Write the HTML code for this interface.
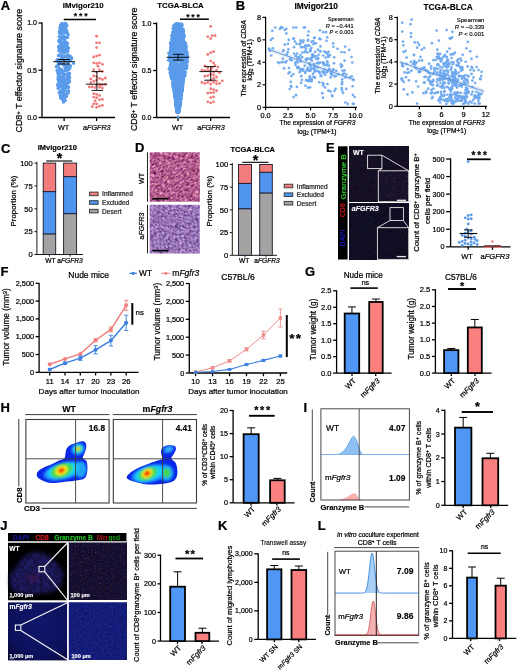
<!DOCTYPE html>
<html><head><meta charset="utf-8"><title>Figure</title>
<style>html,body{margin:0;padding:0;background:#fff;overflow:hidden;width:520px;height:671px;}svg{display:block;}</style>
</head><body>
<svg width="520" height="671" viewBox="0 0 520 671" font-family='"Liberation Sans", Arial, sans-serif'>
<rect width="520" height="671" fill="#fff"/>
<text x="0.8" y="9.7" font-size="13" font-weight="bold" stroke="#000" stroke-width="0.22">A</text>
<text x="83.2" y="7.57" font-size="7.8" text-anchor="middle" font-weight="bold"  stroke="#000" stroke-width="0.15">IMvigor210</text>
<line x1="42" y1="22.5" x2="42" y2="117.5" stroke="#000" stroke-width="1.3" />
<line x1="38.5" y1="23" x2="42" y2="23" stroke="#000" stroke-width="1.3" />
<text x="36.9" y="25.48" font-size="7" text-anchor="end"  stroke="#000" stroke-width="0.22">1.0</text>
<line x1="38.5" y1="70.25" x2="42" y2="70.25" stroke="#000" stroke-width="1.3" />
<text x="36.9" y="72.73" font-size="7" text-anchor="end"  stroke="#000" stroke-width="0.22">0.5</text>
<line x1="38.5" y1="117.5" x2="42" y2="117.5" stroke="#000" stroke-width="1.3" />
<text x="36.9" y="119.98" font-size="7" text-anchor="end"  stroke="#000" stroke-width="0.22">0.0</text>
<line x1="42" y1="117.5" x2="115" y2="117.5" stroke="#000" stroke-width="1.3" />
<line x1="64.1" y1="117.5" x2="64.1" y2="121" stroke="#000" stroke-width="1.3" />
<line x1="96.6" y1="117.5" x2="96.6" y2="121" stroke="#000" stroke-width="1.3" />
<text x="63.5" y="130.36" font-size="7.2" text-anchor="middle"  stroke="#000" stroke-width="0.22">WT</text>
<text x="96.8" y="130.36" font-size="7.2" text-anchor="middle"  stroke="#000" stroke-width="0.22">a<tspan font-style="italic">FGFR3</tspan></text>
<text transform="translate(18.6,70.7) rotate(-90)" y="3.14" font-size="8.85" text-anchor="middle"  stroke="#000" stroke-width="0.22">CD8<tspan baseline-shift="40%" font-size="70%">+</tspan> T effector signature score</text>
<line x1="63.7" y1="19.5" x2="96" y2="19.5" stroke="#000" stroke-width="1.5" />
<text x="81.67" y="19.37" font-size="8.65" font-weight="bold" text-anchor="middle" letter-spacing="1.94" stroke="#000" stroke-width="0.15">***</text>
<g fill="#5a9bea" fill-opacity="1"><circle cx="64.05" cy="42.07" r="1.6"/><circle cx="64.94" cy="52.54" r="1.6"/><circle cx="58.12" cy="72.82" r="1.6"/><circle cx="65.61" cy="24.24" r="1.6"/><circle cx="60.84" cy="43.77" r="1.6"/><circle cx="63.49" cy="102.15" r="1.6"/><circle cx="63.35" cy="89.53" r="1.6"/><circle cx="59.18" cy="73.88" r="1.6"/><circle cx="68.25" cy="73.54" r="1.6"/><circle cx="67.94" cy="64.69" r="1.6"/><circle cx="58.06" cy="76.44" r="1.6"/><circle cx="64.71" cy="83.33" r="1.6"/><circle cx="58.57" cy="47.09" r="1.6"/><circle cx="63.34" cy="91.84" r="1.6"/><circle cx="68.45" cy="80.2" r="1.6"/><circle cx="68.98" cy="79.83" r="1.6"/><circle cx="67.75" cy="54.52" r="1.6"/><circle cx="71.83" cy="58.46" r="1.6"/><circle cx="59.92" cy="92.89" r="1.6"/><circle cx="60.93" cy="33.98" r="1.6"/><circle cx="63.23" cy="99.76" r="1.6"/><circle cx="61.09" cy="72.89" r="1.6"/><circle cx="61.34" cy="63.42" r="1.6"/><circle cx="64.64" cy="51.03" r="1.6"/><circle cx="69" cy="69.53" r="1.6"/><circle cx="69.06" cy="77.28" r="1.6"/><circle cx="68.46" cy="91.11" r="1.6"/><circle cx="59.32" cy="76.43" r="1.6"/><circle cx="68.13" cy="91.45" r="1.6"/><circle cx="64.16" cy="94.94" r="1.6"/><circle cx="59.91" cy="79.81" r="1.6"/><circle cx="64.39" cy="89.15" r="1.6"/><circle cx="58.98" cy="45.8" r="1.6"/><circle cx="68.48" cy="90.92" r="1.6"/><circle cx="66.26" cy="30.22" r="1.6"/><circle cx="58.38" cy="55.75" r="1.6"/><circle cx="66.47" cy="46.51" r="1.6"/><circle cx="59.34" cy="92.41" r="1.6"/><circle cx="57.86" cy="71.93" r="1.6"/><circle cx="61.44" cy="80.17" r="1.6"/><circle cx="67.96" cy="93.06" r="1.6"/><circle cx="73.6" cy="63.28" r="1.6"/><circle cx="59.03" cy="47.76" r="1.6"/><circle cx="57.51" cy="70.76" r="1.6"/><circle cx="62.69" cy="38.85" r="1.6"/><circle cx="59.23" cy="71.61" r="1.6"/><circle cx="66.46" cy="26.57" r="1.6"/><circle cx="68.61" cy="48.09" r="1.6"/><circle cx="62.56" cy="94.31" r="1.6"/><circle cx="64.01" cy="59.71" r="1.6"/><circle cx="64.81" cy="74.26" r="1.6"/><circle cx="65.28" cy="67.55" r="1.6"/><circle cx="63.65" cy="97.79" r="1.6"/><circle cx="67.36" cy="57.39" r="1.6"/><circle cx="61.57" cy="42.04" r="1.6"/><circle cx="63.7" cy="100.74" r="1.6"/><circle cx="56.21" cy="66.69" r="1.6"/><circle cx="64.83" cy="56.13" r="1.6"/><circle cx="64.35" cy="24.79" r="1.6"/><circle cx="58.04" cy="73.33" r="1.6"/><circle cx="63.17" cy="72.95" r="1.6"/><circle cx="61.73" cy="77.07" r="1.6"/><circle cx="66.64" cy="79.26" r="1.6"/><circle cx="60.69" cy="24.96" r="1.6"/><circle cx="69.49" cy="76.81" r="1.6"/><circle cx="63.15" cy="43.11" r="1.6"/><circle cx="61.23" cy="70.2" r="1.6"/><circle cx="61.22" cy="52.06" r="1.6"/><circle cx="64.83" cy="52.47" r="1.6"/><circle cx="62.28" cy="47.02" r="1.6"/><circle cx="57.94" cy="84.44" r="1.6"/><circle cx="66.83" cy="68.34" r="1.6"/><circle cx="60.6" cy="47.78" r="1.6"/><circle cx="60.61" cy="86.94" r="1.6"/><circle cx="62.96" cy="38.06" r="1.6"/><circle cx="58.52" cy="78.56" r="1.6"/><circle cx="61.74" cy="48.73" r="1.6"/><circle cx="62.94" cy="89.3" r="1.6"/><circle cx="60.32" cy="91.04" r="1.6"/><circle cx="65.36" cy="49.9" r="1.6"/><circle cx="63.16" cy="93.37" r="1.6"/><circle cx="59.77" cy="41.04" r="1.6"/><circle cx="58.27" cy="65.2" r="1.6"/><circle cx="67.45" cy="87.18" r="1.6"/><circle cx="61.43" cy="37.76" r="1.6"/><circle cx="65.21" cy="87.21" r="1.6"/><circle cx="61.84" cy="87.14" r="1.6"/><circle cx="61.65" cy="33.48" r="1.6"/><circle cx="60.95" cy="86.15" r="1.6"/><circle cx="62.6" cy="50.67" r="1.6"/><circle cx="62.16" cy="56.49" r="1.6"/><circle cx="61.01" cy="96.2" r="1.6"/><circle cx="65.97" cy="23.57" r="1.6"/><circle cx="68.03" cy="92.98" r="1.6"/><circle cx="71.46" cy="57.64" r="1.6"/><circle cx="61.58" cy="96.74" r="1.6"/><circle cx="67.78" cy="82.32" r="1.6"/><circle cx="63.84" cy="75.77" r="1.6"/><circle cx="61.91" cy="46.12" r="1.6"/><circle cx="59.23" cy="41.24" r="1.6"/><circle cx="60.78" cy="69.88" r="1.6"/><circle cx="58.45" cy="87.45" r="1.6"/><circle cx="65.19" cy="94.86" r="1.6"/><circle cx="66.53" cy="96.46" r="1.6"/><circle cx="64.24" cy="94.54" r="1.6"/><circle cx="65.06" cy="24.24" r="1.6"/><circle cx="61.66" cy="36.83" r="1.6"/><circle cx="63.92" cy="75.77" r="1.6"/><circle cx="70.31" cy="56.01" r="1.6"/><circle cx="61.59" cy="71.74" r="1.6"/><circle cx="67.34" cy="43.22" r="1.6"/><circle cx="69.48" cy="61.04" r="1.6"/><circle cx="59.89" cy="51.1" r="1.6"/><circle cx="68.88" cy="65.6" r="1.6"/><circle cx="66.43" cy="36.78" r="1.6"/><circle cx="65.89" cy="96.3" r="1.6"/><circle cx="58.19" cy="88.5" r="1.6"/><circle cx="68.18" cy="73.05" r="1.6"/><circle cx="61.78" cy="27.16" r="1.6"/><circle cx="63.89" cy="44.5" r="1.6"/><circle cx="63.16" cy="56.74" r="1.6"/><circle cx="57.67" cy="84.78" r="1.6"/><circle cx="60.59" cy="27.55" r="1.6"/><circle cx="59.56" cy="33.08" r="1.6"/><circle cx="65.42" cy="100.49" r="1.6"/><circle cx="63.62" cy="30.03" r="1.6"/><circle cx="61.56" cy="48.25" r="1.6"/><circle cx="65.4" cy="51.06" r="1.6"/><circle cx="61.75" cy="69.72" r="1.6"/><circle cx="61.91" cy="38.35" r="1.6"/><circle cx="64.12" cy="33.01" r="1.6"/><circle cx="62.07" cy="79.98" r="1.6"/><circle cx="60.82" cy="29.54" r="1.6"/><circle cx="64.96" cy="52.8" r="1.6"/><circle cx="62.19" cy="85.26" r="1.6"/><circle cx="65.01" cy="86.73" r="1.6"/><circle cx="61.42" cy="57.43" r="1.6"/><circle cx="67.89" cy="62.54" r="1.6"/><circle cx="66.7" cy="56.55" r="1.6"/><circle cx="58.37" cy="59.74" r="1.6"/><circle cx="66.83" cy="65.69" r="1.6"/><circle cx="62.97" cy="28.88" r="1.6"/><circle cx="69.87" cy="56.97" r="1.6"/><circle cx="62.73" cy="97.46" r="1.6"/><circle cx="66.06" cy="94.4" r="1.6"/><circle cx="63.23" cy="43.99" r="1.6"/><circle cx="66.53" cy="32.97" r="1.6"/><circle cx="68.51" cy="75.72" r="1.6"/><circle cx="65.55" cy="86.04" r="1.6"/><circle cx="64.41" cy="81.39" r="1.6"/><circle cx="64.41" cy="31.38" r="1.6"/><circle cx="61.69" cy="23.59" r="1.6"/><circle cx="58.16" cy="84.6" r="1.6"/><circle cx="60.02" cy="30.48" r="1.6"/><circle cx="60.68" cy="93.02" r="1.6"/><circle cx="65.9" cy="25.06" r="1.6"/><circle cx="66.81" cy="32.82" r="1.6"/><circle cx="67.87" cy="76.61" r="1.6"/><circle cx="64.09" cy="98.73" r="1.6"/><circle cx="58.26" cy="86.54" r="1.6"/><circle cx="63.74" cy="84.06" r="1.6"/><circle cx="58.57" cy="79.91" r="1.6"/><circle cx="68.98" cy="82.59" r="1.6"/><circle cx="62.16" cy="28.05" r="1.6"/><circle cx="68.15" cy="67.92" r="1.6"/><circle cx="60.32" cy="42.4" r="1.6"/><circle cx="64.8" cy="43.02" r="1.6"/><circle cx="62.29" cy="82.96" r="1.6"/><circle cx="62.28" cy="52.34" r="1.6"/><circle cx="62.6" cy="50.98" r="1.6"/><circle cx="63.6" cy="29.8" r="1.6"/><circle cx="63.14" cy="100.36" r="1.6"/><circle cx="59.39" cy="82.47" r="1.6"/><circle cx="66.86" cy="77.98" r="1.6"/><circle cx="63.82" cy="76.64" r="1.6"/><circle cx="66.6" cy="61.56" r="1.6"/><circle cx="60.63" cy="94.36" r="1.6"/><circle cx="65.84" cy="30.8" r="1.6"/><circle cx="63.73" cy="95.89" r="1.6"/><circle cx="67.69" cy="58.33" r="1.6"/><circle cx="61.32" cy="37.96" r="1.6"/><circle cx="64.45" cy="38.99" r="1.6"/><circle cx="60.67" cy="48.17" r="1.6"/><circle cx="69.38" cy="78.01" r="1.6"/><circle cx="65.79" cy="46.66" r="1.6"/><circle cx="68.99" cy="55.97" r="1.6"/><circle cx="60.49" cy="69.56" r="1.6"/><circle cx="58.81" cy="40.46" r="1.6"/><circle cx="61.15" cy="61.22" r="1.6"/><circle cx="62.25" cy="36.86" r="1.6"/><circle cx="66.68" cy="48.74" r="1.6"/><circle cx="68.26" cy="34.59" r="1.6"/><circle cx="65.67" cy="61.23" r="1.6"/><circle cx="70.51" cy="60.32" r="1.6"/><circle cx="64.23" cy="88.35" r="1.6"/><circle cx="68.22" cy="61.37" r="1.6"/><circle cx="62.61" cy="91.13" r="1.6"/><circle cx="69.41" cy="81.37" r="1.6"/><circle cx="58.02" cy="60.26" r="1.6"/><circle cx="65.82" cy="41.82" r="1.6"/><circle cx="69.43" cy="76.76" r="1.6"/><circle cx="61.03" cy="90.91" r="1.6"/><circle cx="61.23" cy="38.24" r="1.6"/><circle cx="65.61" cy="38.04" r="1.6"/><circle cx="67.52" cy="91.29" r="1.6"/><circle cx="67.38" cy="43.42" r="1.6"/><circle cx="62.76" cy="48.05" r="1.6"/><circle cx="58.34" cy="81.01" r="1.6"/><circle cx="66.59" cy="30.55" r="1.6"/><circle cx="62.07" cy="46.34" r="1.6"/><circle cx="65.96" cy="69.22" r="1.6"/><circle cx="62.69" cy="23.75" r="1.6"/><circle cx="63.35" cy="57.79" r="1.6"/><circle cx="64.45" cy="39.86" r="1.6"/><circle cx="62.93" cy="98.96" r="1.6"/><circle cx="57.66" cy="66.37" r="1.6"/><circle cx="65.34" cy="44.99" r="1.6"/><circle cx="67.19" cy="32.12" r="1.6"/><circle cx="60.37" cy="95.26" r="1.6"/><circle cx="62.76" cy="97.84" r="1.6"/><circle cx="66.68" cy="84.45" r="1.6"/><circle cx="65.48" cy="46.64" r="1.6"/><circle cx="67.48" cy="75.07" r="1.6"/><circle cx="66.25" cy="44.26" r="1.6"/><circle cx="64.62" cy="99.43" r="1.6"/><circle cx="57.22" cy="65.72" r="1.6"/><circle cx="60.47" cy="62.36" r="1.6"/><circle cx="65.88" cy="80.14" r="1.6"/><circle cx="59.21" cy="68.11" r="1.6"/><circle cx="65.26" cy="74.4" r="1.6"/><circle cx="67.4" cy="37.4" r="1.6"/><circle cx="58.82" cy="75.17" r="1.6"/><circle cx="61.06" cy="97.1" r="1.6"/><circle cx="66.15" cy="49.49" r="1.6"/><circle cx="64.32" cy="70.58" r="1.6"/><circle cx="63.06" cy="74.55" r="1.6"/><circle cx="60.08" cy="47.98" r="1.6"/><circle cx="65.41" cy="28.64" r="1.6"/><circle cx="64.13" cy="83.03" r="1.6"/><circle cx="61.84" cy="81.85" r="1.6"/><circle cx="62.38" cy="44.28" r="1.6"/><circle cx="59.32" cy="92.39" r="1.6"/><circle cx="58.51" cy="63.22" r="1.6"/><circle cx="61.85" cy="84.17" r="1.6"/><circle cx="62.48" cy="49.6" r="1.6"/><circle cx="67.92" cy="66.14" r="1.6"/><circle cx="67.87" cy="51.18" r="1.6"/><circle cx="61.47" cy="32.09" r="1.6"/><circle cx="60.07" cy="31.1" r="1.6"/><circle cx="66.29" cy="84.97" r="1.6"/><circle cx="60.55" cy="37.86" r="1.6"/><circle cx="67.39" cy="56.24" r="1.6"/><circle cx="66.39" cy="87.89" r="1.6"/><circle cx="58.94" cy="70.14" r="1.6"/><circle cx="59.34" cy="54.79" r="1.6"/><circle cx="64.79" cy="65.04" r="1.6"/><circle cx="61.12" cy="39.22" r="1.6"/><circle cx="58.05" cy="85.19" r="1.6"/><circle cx="68.08" cy="86.89" r="1.6"/><circle cx="62.86" cy="98.48" r="1.6"/><circle cx="64.82" cy="67.02" r="1.6"/><circle cx="69.63" cy="73.45" r="1.6"/><circle cx="61.05" cy="77.65" r="1.6"/><circle cx="63.44" cy="91.4" r="1.6"/><circle cx="66.54" cy="70.89" r="1.6"/><circle cx="65" cy="23.39" r="1.6"/><circle cx="63.5" cy="75.69" r="1.6"/><circle cx="62.89" cy="64.72" r="1.6"/><circle cx="63.89" cy="38.54" r="1.6"/><circle cx="63.6" cy="26.14" r="1.6"/><circle cx="62.89" cy="74.42" r="1.6"/><circle cx="69.94" cy="68.08" r="1.6"/><circle cx="60.44" cy="93.94" r="1.6"/><circle cx="65.03" cy="86.04" r="1.6"/><circle cx="62.48" cy="27.21" r="1.6"/><circle cx="59.3" cy="41.71" r="1.6"/><circle cx="70.56" cy="65.93" r="1.6"/><circle cx="67.77" cy="48.82" r="1.6"/><circle cx="58.94" cy="78.29" r="1.6"/><circle cx="64.59" cy="91.26" r="1.6"/><circle cx="65.17" cy="96.71" r="1.6"/><circle cx="61.64" cy="81.86" r="1.6"/><circle cx="68.51" cy="87.17" r="1.6"/><circle cx="62.99" cy="91.51" r="1.6"/><circle cx="63.42" cy="83.22" r="1.6"/><circle cx="59.37" cy="31.85" r="1.6"/><circle cx="61.02" cy="29.38" r="1.6"/><circle cx="63.57" cy="35.95" r="1.6"/><circle cx="64.08" cy="78.65" r="1.6"/><circle cx="66.01" cy="56.67" r="1.6"/><circle cx="63.22" cy="47.36" r="1.6"/><circle cx="62.39" cy="83.24" r="1.6"/><circle cx="67.5" cy="37.52" r="1.6"/><circle cx="61.9" cy="80.27" r="1.6"/><circle cx="63.98" cy="52.62" r="1.6"/><circle cx="59.99" cy="70.5" r="1.6"/><circle cx="62.09" cy="23.41" r="1.6"/><circle cx="59.4" cy="85.31" r="1.6"/><circle cx="57.36" cy="59.68" r="1.6"/><circle cx="60.31" cy="39.8" r="1.6"/><circle cx="58.86" cy="55.22" r="1.6"/><circle cx="60.86" cy="25.38" r="1.6"/><circle cx="63.51" cy="36.54" r="1.6"/><circle cx="59.7" cy="27.94" r="1.6"/><circle cx="61.81" cy="58.73" r="1.6"/><circle cx="57.87" cy="78.98" r="1.6"/><circle cx="62.13" cy="55.18" r="1.6"/><circle cx="66.84" cy="25.31" r="1.6"/><circle cx="59.52" cy="40.56" r="1.6"/><circle cx="56.63" cy="60.83" r="1.6"/><circle cx="61.66" cy="72.56" r="1.6"/><circle cx="59.41" cy="33.03" r="1.6"/><circle cx="60.74" cy="80.9" r="1.6"/><circle cx="63.2" cy="85.68" r="1.6"/><circle cx="62.2" cy="97.18" r="1.6"/><circle cx="61.19" cy="43.02" r="1.6"/><circle cx="65.05" cy="87.8" r="1.6"/><circle cx="58.72" cy="50.54" r="1.6"/><circle cx="69.57" cy="77.31" r="1.6"/><circle cx="57.06" cy="70.17" r="1.6"/><circle cx="60.64" cy="25.6" r="1.6"/><circle cx="59.11" cy="36.71" r="1.6"/><circle cx="64.84" cy="27.48" r="1.6"/><circle cx="61.1" cy="94.59" r="1.6"/><circle cx="63.48" cy="100.43" r="1.6"/><circle cx="68.37" cy="86.92" r="1.6"/><circle cx="60.46" cy="97.75" r="1.6"/><circle cx="64.75" cy="47.36" r="1.6"/><circle cx="60.93" cy="98.26" r="1.6"/><circle cx="67.33" cy="46.47" r="1.6"/></g>
<g fill="#f07878" fill-opacity="1"><circle cx="96.6" cy="80.13" r="1.4"/><circle cx="96.6" cy="97.63" r="1.4"/><circle cx="96.6" cy="72.08" r="1.4"/><circle cx="96.6" cy="56.07" r="1.4"/><circle cx="99.5" cy="69.94" r="1.4"/><circle cx="96.6" cy="85.01" r="1.4"/><circle cx="99.5" cy="78.39" r="1.4"/><circle cx="96.6" cy="63.5" r="1.4"/><circle cx="99.5" cy="62.89" r="1.4"/><circle cx="96.6" cy="76.6" r="1.4"/><circle cx="93.7" cy="62.8" r="1.4"/><circle cx="93.7" cy="69.84" r="1.4"/><circle cx="96.6" cy="107.37" r="1.4"/><circle cx="99.5" cy="84.08" r="1.4"/><circle cx="96.6" cy="103.78" r="1.4"/><circle cx="99.5" cy="99.67" r="1.4"/><circle cx="96.6" cy="94.29" r="1.4"/><circle cx="93.7" cy="97.08" r="1.4"/><circle cx="99.5" cy="87.31" r="1.4"/><circle cx="93.7" cy="75.94" r="1.4"/><circle cx="99.5" cy="95.43" r="1.4"/><circle cx="95.15" cy="87.53" r="1.4"/><circle cx="93.7" cy="81.41" r="1.4"/><circle cx="92.25" cy="87.01" r="1.4"/><circle cx="102.4" cy="84.83" r="1.4"/><circle cx="102.4" cy="79.48" r="1.4"/><circle cx="93.7" cy="93.75" r="1.4"/><circle cx="102.4" cy="64.29" r="1.4"/><circle cx="96.6" cy="36.23" r="1.4"/><circle cx="98.05" cy="66.13" r="1.4"/><circle cx="102.4" cy="88.07" r="1.4"/><circle cx="90.8" cy="79.01" r="1.4"/><circle cx="99.5" cy="55.13" r="1.4"/><circle cx="96.6" cy="42.84" r="1.4"/><circle cx="102.4" cy="71.32" r="1.4"/><circle cx="99.5" cy="42.84" r="1.4"/><circle cx="99.5" cy="106.15" r="1.4"/><circle cx="95.15" cy="100.91" r="1.4"/><circle cx="102.4" cy="99.42" r="1.4"/><circle cx="105.3" cy="78" r="1.4"/><circle cx="89.35" cy="86.93" r="1.4"/><circle cx="93.7" cy="103.94" r="1.4"/><circle cx="93.7" cy="57.02" r="1.4"/><circle cx="105.3" cy="84.5" r="1.4"/><circle cx="96.6" cy="47.57" r="1.4"/><circle cx="90.8" cy="82.66" r="1.4"/><circle cx="92.25" cy="106.69" r="1.4"/><circle cx="100.16" cy="85.38" r="1.4"/><circle cx="102.4" cy="105.35" r="1.4"/></g>
<line x1="86" y1="84.2" x2="107.2" y2="84.2" stroke="#000" stroke-width="0.9" />
<line x1="91.6" y1="71.6" x2="103" y2="71.6" stroke="#000" stroke-width="0.9" />
<line x1="91.6" y1="90.4" x2="103" y2="90.4" stroke="#000" stroke-width="0.9" />
<line x1="96.9" y1="71.6" x2="96.9" y2="90.4" stroke="#000" stroke-width="0.9" />
<line x1="53" y1="61.7" x2="75" y2="61.7" stroke="#000" stroke-width="0.9" />
<line x1="58" y1="59.5" x2="70" y2="59.5" stroke="#000" stroke-width="0.9" />
<line x1="58" y1="64" x2="70" y2="64" stroke="#000" stroke-width="0.9" />
<line x1="64" y1="59.5" x2="64" y2="64" stroke="#000" stroke-width="0.9" />
<text x="180.5" y="7.57" font-size="7.8" text-anchor="middle" font-weight="bold"  stroke="#000" stroke-width="0.15">TCGA-BLCA</text>
<line x1="156.6" y1="22.5" x2="156.6" y2="117.5" stroke="#000" stroke-width="1.3" />
<line x1="153.1" y1="23.5" x2="156.6" y2="23.5" stroke="#000" stroke-width="1.3" />
<text x="151.5" y="25.98" font-size="7" text-anchor="end"  stroke="#000" stroke-width="0.22">1.0</text>
<line x1="153.1" y1="70.5" x2="156.6" y2="70.5" stroke="#000" stroke-width="1.3" />
<text x="151.5" y="72.98" font-size="7" text-anchor="end"  stroke="#000" stroke-width="0.22">0.5</text>
<line x1="153.1" y1="117.5" x2="156.6" y2="117.5" stroke="#000" stroke-width="1.3" />
<text x="151.5" y="119.98" font-size="7" text-anchor="end"  stroke="#000" stroke-width="0.22">0.0</text>
<line x1="156.6" y1="117.5" x2="230" y2="117.5" stroke="#000" stroke-width="1.3" />
<line x1="178" y1="117.5" x2="178" y2="121" stroke="#000" stroke-width="1.3" />
<line x1="210.7" y1="117.5" x2="210.7" y2="121" stroke="#000" stroke-width="1.3" />
<text x="177.5" y="130.36" font-size="7.2" text-anchor="middle"  stroke="#000" stroke-width="0.22">WT</text>
<text x="211" y="130.36" font-size="7.2" text-anchor="middle"  stroke="#000" stroke-width="0.22">a<tspan font-style="italic">FGFR3</tspan></text>
<text transform="translate(133.6,69.3) rotate(-90)" y="3.14" font-size="8.85" text-anchor="middle"  stroke="#000" stroke-width="0.22">CD8<tspan baseline-shift="40%" font-size="70%">+</tspan> T effector signature score</text>
<line x1="180" y1="19.2" x2="208.8" y2="19.2" stroke="#000" stroke-width="1.5" />
<text x="193.87" y="20.27" font-size="8.65" font-weight="bold" text-anchor="middle" letter-spacing="1.74" stroke="#000" stroke-width="0.15">***</text>
<g fill="#5a9bea" fill-opacity="1"><circle cx="171.69" cy="44.58" r="1.6"/><circle cx="171.3" cy="58.81" r="1.6"/><circle cx="176.96" cy="29.51" r="1.6"/><circle cx="179.45" cy="105.21" r="1.6"/><circle cx="175.6" cy="91.62" r="1.6"/><circle cx="174.28" cy="71.31" r="1.6"/><circle cx="172.57" cy="38.95" r="1.6"/><circle cx="184.48" cy="42.66" r="1.6"/><circle cx="180.06" cy="97.29" r="1.6"/><circle cx="175.68" cy="94.76" r="1.6"/><circle cx="180.3" cy="51.15" r="1.6"/><circle cx="181.39" cy="88.67" r="1.6"/><circle cx="175.65" cy="101.84" r="1.6"/><circle cx="180.36" cy="77.46" r="1.6"/><circle cx="172.24" cy="68.58" r="1.6"/><circle cx="170.42" cy="65.7" r="1.6"/><circle cx="179.59" cy="106.68" r="1.6"/><circle cx="174.76" cy="72.29" r="1.6"/><circle cx="178.37" cy="104.4" r="1.6"/><circle cx="179.97" cy="102.04" r="1.6"/><circle cx="176.46" cy="68.79" r="1.6"/><circle cx="177.03" cy="76.84" r="1.6"/><circle cx="175.38" cy="37.94" r="1.6"/><circle cx="174.71" cy="95.84" r="1.6"/><circle cx="179.22" cy="27.72" r="1.6"/><circle cx="178.6" cy="48.53" r="1.6"/><circle cx="175.09" cy="65.49" r="1.6"/><circle cx="177.47" cy="112.26" r="1.6"/><circle cx="172.26" cy="60.3" r="1.6"/><circle cx="175.17" cy="79.84" r="1.6"/><circle cx="182.78" cy="55.23" r="1.6"/><circle cx="179.08" cy="52.11" r="1.6"/><circle cx="175.92" cy="103.99" r="1.6"/><circle cx="175.2" cy="29.08" r="1.6"/><circle cx="179" cy="91.62" r="1.6"/><circle cx="175.31" cy="44.71" r="1.6"/><circle cx="177.43" cy="39.38" r="1.6"/><circle cx="179.87" cy="27.41" r="1.6"/><circle cx="180.44" cy="103.25" r="1.6"/><circle cx="182.36" cy="88.93" r="1.6"/><circle cx="176.23" cy="25.22" r="1.6"/><circle cx="178.92" cy="109.48" r="1.6"/><circle cx="186.57" cy="60.09" r="1.6"/><circle cx="182.18" cy="78.76" r="1.6"/><circle cx="172.54" cy="49.68" r="1.6"/><circle cx="171.1" cy="63.08" r="1.6"/><circle cx="187" cy="57.53" r="1.6"/><circle cx="168.82" cy="53.05" r="1.6"/><circle cx="174.83" cy="27.58" r="1.6"/><circle cx="176.89" cy="93.27" r="1.6"/><circle cx="170.9" cy="49.41" r="1.6"/><circle cx="177.81" cy="110.88" r="1.6"/><circle cx="171.41" cy="42.08" r="1.6"/><circle cx="174.67" cy="28.51" r="1.6"/><circle cx="174.18" cy="83.77" r="1.6"/><circle cx="177.91" cy="27.24" r="1.6"/><circle cx="186.13" cy="45.74" r="1.6"/><circle cx="178.36" cy="34.47" r="1.6"/><circle cx="177.24" cy="92.39" r="1.6"/><circle cx="177.95" cy="111.4" r="1.6"/><circle cx="176.56" cy="45.1" r="1.6"/><circle cx="177.27" cy="26.88" r="1.6"/><circle cx="184.35" cy="45.7" r="1.6"/><circle cx="177.99" cy="97.48" r="1.6"/><circle cx="175.79" cy="26.41" r="1.6"/><circle cx="173.3" cy="45.15" r="1.6"/><circle cx="183.82" cy="44.18" r="1.6"/><circle cx="172.23" cy="36.2" r="1.6"/><circle cx="178.3" cy="106.1" r="1.6"/><circle cx="177.8" cy="111.66" r="1.6"/><circle cx="178.81" cy="103.69" r="1.6"/><circle cx="179.92" cy="93.91" r="1.6"/><circle cx="170.64" cy="67.54" r="1.6"/><circle cx="183.63" cy="42.35" r="1.6"/><circle cx="180.25" cy="103.59" r="1.6"/><circle cx="180.96" cy="53.52" r="1.6"/><circle cx="179.08" cy="94.68" r="1.6"/><circle cx="178.2" cy="96.04" r="1.6"/><circle cx="180.19" cy="81.81" r="1.6"/><circle cx="185.18" cy="47.45" r="1.6"/><circle cx="176.42" cy="108.61" r="1.6"/><circle cx="179.42" cy="109.93" r="1.6"/><circle cx="172.88" cy="83.02" r="1.6"/><circle cx="176.02" cy="103.52" r="1.6"/><circle cx="178.53" cy="109.7" r="1.6"/><circle cx="174.58" cy="28.98" r="1.6"/><circle cx="178.87" cy="80.07" r="1.6"/><circle cx="181.94" cy="89.96" r="1.6"/><circle cx="170.4" cy="43.03" r="1.6"/><circle cx="175.72" cy="105.6" r="1.6"/><circle cx="175.78" cy="101.51" r="1.6"/><circle cx="180.06" cy="95.6" r="1.6"/><circle cx="178.29" cy="101.64" r="1.6"/><circle cx="176.29" cy="101.72" r="1.6"/><circle cx="176.12" cy="83.29" r="1.6"/><circle cx="179.49" cy="102.88" r="1.6"/><circle cx="178.49" cy="65.52" r="1.6"/><circle cx="173.91" cy="25.95" r="1.6"/><circle cx="177.84" cy="76.45" r="1.6"/><circle cx="178.65" cy="100.47" r="1.6"/><circle cx="176.24" cy="35.94" r="1.6"/><circle cx="178.2" cy="91.84" r="1.6"/><circle cx="180.72" cy="24.54" r="1.6"/><circle cx="175.2" cy="97.17" r="1.6"/><circle cx="176.05" cy="71.91" r="1.6"/><circle cx="176.5" cy="93.6" r="1.6"/><circle cx="177.79" cy="44.38" r="1.6"/><circle cx="176.66" cy="109.5" r="1.6"/><circle cx="179.46" cy="33.77" r="1.6"/><circle cx="178.07" cy="102.31" r="1.6"/><circle cx="184.86" cy="62.18" r="1.6"/><circle cx="174.41" cy="92.64" r="1.6"/><circle cx="176.28" cy="101.95" r="1.6"/><circle cx="184.04" cy="50.47" r="1.6"/><circle cx="183.75" cy="61.16" r="1.6"/><circle cx="183.1" cy="38.48" r="1.6"/><circle cx="173.13" cy="39.28" r="1.6"/><circle cx="175.08" cy="67.54" r="1.6"/><circle cx="184.65" cy="71.77" r="1.6"/><circle cx="173.02" cy="86.76" r="1.6"/><circle cx="178.82" cy="51.32" r="1.6"/><circle cx="181.93" cy="66.85" r="1.6"/><circle cx="170.25" cy="66.65" r="1.6"/><circle cx="183.64" cy="45.42" r="1.6"/><circle cx="183.17" cy="55.32" r="1.6"/><circle cx="178.29" cy="111.24" r="1.6"/><circle cx="179.19" cy="83.76" r="1.6"/><circle cx="185.53" cy="51.45" r="1.6"/><circle cx="185.64" cy="65.12" r="1.6"/><circle cx="184.63" cy="50.77" r="1.6"/><circle cx="178.9" cy="93.55" r="1.6"/><circle cx="171.17" cy="62.9" r="1.6"/><circle cx="176.83" cy="92.15" r="1.6"/><circle cx="173.78" cy="82.46" r="1.6"/><circle cx="174.04" cy="30.94" r="1.6"/><circle cx="175.64" cy="95.52" r="1.6"/><circle cx="177.33" cy="103.78" r="1.6"/><circle cx="175.76" cy="74.8" r="1.6"/><circle cx="172.66" cy="78.79" r="1.6"/><circle cx="186.45" cy="59.39" r="1.6"/><circle cx="180.16" cy="39.57" r="1.6"/><circle cx="174.29" cy="52.64" r="1.6"/><circle cx="173.86" cy="25.66" r="1.6"/><circle cx="179.29" cy="108" r="1.6"/><circle cx="180.32" cy="94.82" r="1.6"/><circle cx="176.7" cy="108.35" r="1.6"/><circle cx="177.93" cy="75.53" r="1.6"/><circle cx="184.6" cy="74.62" r="1.6"/><circle cx="182.12" cy="91.19" r="1.6"/><circle cx="179.84" cy="33.99" r="1.6"/><circle cx="180.69" cy="83.64" r="1.6"/><circle cx="182.39" cy="78.53" r="1.6"/><circle cx="185.68" cy="50.52" r="1.6"/><circle cx="179.92" cy="59.7" r="1.6"/><circle cx="179.09" cy="103.33" r="1.6"/><circle cx="173.11" cy="51.13" r="1.6"/><circle cx="180.36" cy="52.64" r="1.6"/><circle cx="178.71" cy="112.18" r="1.6"/><circle cx="176.07" cy="59.18" r="1.6"/><circle cx="176.48" cy="96.27" r="1.6"/><circle cx="168.59" cy="60.19" r="1.6"/><circle cx="178.57" cy="39.95" r="1.6"/><circle cx="179.2" cy="85.23" r="1.6"/><circle cx="186.84" cy="55.99" r="1.6"/><circle cx="173.51" cy="79.01" r="1.6"/><circle cx="183.03" cy="29.62" r="1.6"/><circle cx="178.93" cy="111.42" r="1.6"/><circle cx="175.4" cy="77.28" r="1.6"/><circle cx="175.25" cy="31.72" r="1.6"/><circle cx="184.61" cy="43.35" r="1.6"/><circle cx="179.51" cy="102.95" r="1.6"/><circle cx="174.58" cy="36.82" r="1.6"/><circle cx="186" cy="50.2" r="1.6"/><circle cx="181.92" cy="38.12" r="1.6"/><circle cx="178.51" cy="84.11" r="1.6"/><circle cx="177.14" cy="108.88" r="1.6"/><circle cx="172.11" cy="70.22" r="1.6"/><circle cx="172.6" cy="32.2" r="1.6"/><circle cx="171.07" cy="51.74" r="1.6"/><circle cx="183.08" cy="29.05" r="1.6"/><circle cx="184.86" cy="49.3" r="1.6"/><circle cx="180.37" cy="86.01" r="1.6"/><circle cx="183.33" cy="81.85" r="1.6"/><circle cx="179.26" cy="101.7" r="1.6"/><circle cx="181.04" cy="73.38" r="1.6"/><circle cx="178.51" cy="87.94" r="1.6"/><circle cx="171.79" cy="68.28" r="1.6"/><circle cx="177.9" cy="98.66" r="1.6"/><circle cx="174.48" cy="29.63" r="1.6"/><circle cx="176.58" cy="101.37" r="1.6"/><circle cx="181.54" cy="58.39" r="1.6"/><circle cx="176.96" cy="100.2" r="1.6"/><circle cx="176.5" cy="57.99" r="1.6"/><circle cx="181.33" cy="26.09" r="1.6"/><circle cx="181.89" cy="25.29" r="1.6"/><circle cx="173.47" cy="37.16" r="1.6"/><circle cx="180.05" cy="99.04" r="1.6"/><circle cx="178.84" cy="44.23" r="1.6"/><circle cx="182.02" cy="65.98" r="1.6"/><circle cx="182.61" cy="40.05" r="1.6"/><circle cx="178.37" cy="112.18" r="1.6"/><circle cx="180.06" cy="105.5" r="1.6"/><circle cx="184.78" cy="57.33" r="1.6"/><circle cx="178.58" cy="97.72" r="1.6"/><circle cx="179.41" cy="33.13" r="1.6"/><circle cx="177.03" cy="104.65" r="1.6"/><circle cx="182.81" cy="81.1" r="1.6"/><circle cx="171.53" cy="76.95" r="1.6"/><circle cx="174.9" cy="79.78" r="1.6"/><circle cx="178.99" cy="99.87" r="1.6"/><circle cx="185.15" cy="50.93" r="1.6"/><circle cx="175.91" cy="79.17" r="1.6"/><circle cx="180.6" cy="97.76" r="1.6"/><circle cx="180.08" cy="103.01" r="1.6"/><circle cx="180.31" cy="82.13" r="1.6"/><circle cx="178.37" cy="77.36" r="1.6"/><circle cx="177.67" cy="111.38" r="1.6"/><circle cx="180.37" cy="30.85" r="1.6"/><circle cx="178.82" cy="67.88" r="1.6"/><circle cx="174.48" cy="76.75" r="1.6"/><circle cx="171.7" cy="41.46" r="1.6"/><circle cx="181.33" cy="93.08" r="1.6"/><circle cx="174.02" cy="85.54" r="1.6"/><circle cx="178.88" cy="110.59" r="1.6"/><circle cx="169.1" cy="68.88" r="1.6"/><circle cx="178.79" cy="98.62" r="1.6"/><circle cx="171.7" cy="78.92" r="1.6"/><circle cx="173.56" cy="88.77" r="1.6"/><circle cx="171.47" cy="66.1" r="1.6"/><circle cx="185.6" cy="55.59" r="1.6"/><circle cx="180.89" cy="90.13" r="1.6"/><circle cx="176.01" cy="50.1" r="1.6"/><circle cx="171.58" cy="77.37" r="1.6"/><circle cx="187.17" cy="60.25" r="1.6"/><circle cx="181.26" cy="90.63" r="1.6"/><circle cx="181.4" cy="50.16" r="1.6"/><circle cx="179.62" cy="93.73" r="1.6"/><circle cx="171.79" cy="62.49" r="1.6"/><circle cx="181.25" cy="25.2" r="1.6"/><circle cx="177.01" cy="106.44" r="1.6"/><circle cx="177.17" cy="90.79" r="1.6"/><circle cx="182.4" cy="79.39" r="1.6"/><circle cx="180.22" cy="52.16" r="1.6"/><circle cx="178.18" cy="46.36" r="1.6"/><circle cx="175.89" cy="26.27" r="1.6"/><circle cx="185.27" cy="49.13" r="1.6"/><circle cx="181.25" cy="35.37" r="1.6"/><circle cx="183.47" cy="31.31" r="1.6"/><circle cx="172.46" cy="38.36" r="1.6"/><circle cx="184.53" cy="42.41" r="1.6"/><circle cx="182.38" cy="83.05" r="1.6"/><circle cx="171.05" cy="67.98" r="1.6"/><circle cx="177.16" cy="53.87" r="1.6"/><circle cx="177.3" cy="111.64" r="1.6"/><circle cx="183.55" cy="45.31" r="1.6"/><circle cx="183.68" cy="33.73" r="1.6"/><circle cx="179.2" cy="49.97" r="1.6"/><circle cx="182.7" cy="82.33" r="1.6"/><circle cx="181.78" cy="30.33" r="1.6"/><circle cx="181.05" cy="39.54" r="1.6"/><circle cx="180.35" cy="26.02" r="1.6"/><circle cx="173.88" cy="39.7" r="1.6"/><circle cx="176.39" cy="26.7" r="1.6"/><circle cx="187" cy="52.77" r="1.6"/><circle cx="176.14" cy="77.54" r="1.6"/><circle cx="177.31" cy="111.62" r="1.6"/><circle cx="184.93" cy="42.71" r="1.6"/><circle cx="178.71" cy="108.18" r="1.6"/><circle cx="176.81" cy="110.6" r="1.6"/><circle cx="179.07" cy="103.93" r="1.6"/><circle cx="181.86" cy="82.99" r="1.6"/><circle cx="174.47" cy="32.87" r="1.6"/><circle cx="177.73" cy="35.85" r="1.6"/><circle cx="178.66" cy="72.15" r="1.6"/><circle cx="182.76" cy="55.8" r="1.6"/><circle cx="179.69" cy="98.14" r="1.6"/><circle cx="174.78" cy="26.97" r="1.6"/><circle cx="173.99" cy="43.09" r="1.6"/><circle cx="173.4" cy="74.61" r="1.6"/><circle cx="175.97" cy="79.13" r="1.6"/><circle cx="182.07" cy="55.93" r="1.6"/><circle cx="176.74" cy="107.55" r="1.6"/><circle cx="187.23" cy="54.56" r="1.6"/><circle cx="170.85" cy="42.5" r="1.6"/><circle cx="182.68" cy="40.59" r="1.6"/><circle cx="182.2" cy="88.61" r="1.6"/><circle cx="169.73" cy="67.81" r="1.6"/><circle cx="181.96" cy="50.82" r="1.6"/><circle cx="171" cy="58.52" r="1.6"/><circle cx="177.29" cy="57" r="1.6"/><circle cx="176.96" cy="55.24" r="1.6"/><circle cx="172.03" cy="35.72" r="1.6"/><circle cx="179.88" cy="93.27" r="1.6"/><circle cx="170.58" cy="60.8" r="1.6"/><circle cx="179.04" cy="49.87" r="1.6"/><circle cx="177.9" cy="103.13" r="1.6"/><circle cx="178.08" cy="110.17" r="1.6"/><circle cx="179.62" cy="39.7" r="1.6"/><circle cx="179.39" cy="76.95" r="1.6"/><circle cx="173.36" cy="88.02" r="1.6"/><circle cx="183.74" cy="62.45" r="1.6"/><circle cx="172.16" cy="35.89" r="1.6"/><circle cx="174.98" cy="39.87" r="1.6"/><circle cx="174.45" cy="62.28" r="1.6"/><circle cx="173.84" cy="80" r="1.6"/><circle cx="181.36" cy="54.32" r="1.6"/><circle cx="185.5" cy="71.99" r="1.6"/><circle cx="176.96" cy="106.83" r="1.6"/><circle cx="178.71" cy="53.39" r="1.6"/><circle cx="175.81" cy="71.97" r="1.6"/><circle cx="176.17" cy="100.29" r="1.6"/><circle cx="170.96" cy="65.49" r="1.6"/><circle cx="178.54" cy="102.11" r="1.6"/><circle cx="177.21" cy="111.41" r="1.6"/><circle cx="178.97" cy="86.82" r="1.6"/><circle cx="181.16" cy="28.17" r="1.6"/><circle cx="175.56" cy="101.32" r="1.6"/><circle cx="179.18" cy="107.32" r="1.6"/><circle cx="178.6" cy="77.34" r="1.6"/><circle cx="170.55" cy="46.99" r="1.6"/><circle cx="184.74" cy="65.87" r="1.6"/><circle cx="177.59" cy="42.19" r="1.6"/><circle cx="181.33" cy="48.71" r="1.6"/><circle cx="179.41" cy="108.91" r="1.6"/><circle cx="176.54" cy="49.19" r="1.6"/><circle cx="178.23" cy="23.84" r="1.6"/><circle cx="180.15" cy="99.48" r="1.6"/><circle cx="177.28" cy="30" r="1.6"/><circle cx="177.17" cy="30.72" r="1.6"/><circle cx="176.93" cy="104.75" r="1.6"/><circle cx="180.91" cy="98.78" r="1.6"/><circle cx="175.91" cy="96.35" r="1.6"/><circle cx="180.03" cy="105.23" r="1.6"/><circle cx="177.18" cy="112.37" r="1.6"/><circle cx="176.38" cy="23.92" r="1.6"/><circle cx="176.67" cy="69.62" r="1.6"/><circle cx="179.6" cy="31.82" r="1.6"/><circle cx="179.47" cy="82.96" r="1.6"/><circle cx="178.88" cy="68.99" r="1.6"/><circle cx="173.4" cy="84.92" r="1.6"/><circle cx="171.03" cy="62.38" r="1.6"/><circle cx="181.08" cy="32.85" r="1.6"/><circle cx="175.02" cy="52.43" r="1.6"/><circle cx="179.51" cy="48.23" r="1.6"/><circle cx="179.72" cy="34.11" r="1.6"/><circle cx="182.88" cy="29.86" r="1.6"/><circle cx="181.57" cy="37.56" r="1.6"/><circle cx="176.78" cy="72.07" r="1.6"/><circle cx="175.47" cy="50.65" r="1.6"/><circle cx="178.22" cy="91.06" r="1.6"/><circle cx="173.79" cy="71.28" r="1.6"/><circle cx="173.72" cy="79.15" r="1.6"/><circle cx="180.77" cy="66.49" r="1.6"/><circle cx="179.32" cy="71.98" r="1.6"/><circle cx="173.34" cy="74.29" r="1.6"/><circle cx="178.68" cy="108.74" r="1.6"/><circle cx="182.42" cy="88.11" r="1.6"/><circle cx="174.85" cy="63.75" r="1.6"/><circle cx="174.69" cy="50.63" r="1.6"/><circle cx="174.71" cy="50.28" r="1.6"/><circle cx="177.76" cy="42.19" r="1.6"/><circle cx="175.68" cy="49.56" r="1.6"/><circle cx="175.89" cy="82.59" r="1.6"/><circle cx="179.79" cy="100.35" r="1.6"/><circle cx="184.23" cy="52.81" r="1.6"/><circle cx="172.38" cy="39.29" r="1.6"/><circle cx="177.13" cy="112.04" r="1.6"/><circle cx="180.88" cy="24.1" r="1.6"/><circle cx="179.2" cy="23.83" r="1.6"/><circle cx="173.61" cy="73.01" r="1.6"/><circle cx="185.58" cy="45.43" r="1.6"/><circle cx="172.98" cy="58.58" r="1.6"/><circle cx="182.42" cy="62.85" r="1.6"/><circle cx="170.75" cy="49.44" r="1.6"/><circle cx="174.82" cy="93.89" r="1.6"/><circle cx="173.02" cy="28.53" r="1.6"/><circle cx="177.87" cy="111.92" r="1.6"/><circle cx="178.54" cy="89.14" r="1.6"/><circle cx="177.55" cy="110.26" r="1.6"/><circle cx="181.5" cy="54.66" r="1.6"/><circle cx="176.96" cy="23.65" r="1.6"/><circle cx="178.64" cy="91.1" r="1.6"/><circle cx="185.94" cy="67.15" r="1.6"/><circle cx="182.43" cy="62.07" r="1.6"/><circle cx="169.96" cy="58.49" r="1.6"/><circle cx="172.37" cy="58.06" r="1.6"/><circle cx="176.11" cy="26.03" r="1.6"/><circle cx="177.46" cy="34.82" r="1.6"/><circle cx="180.43" cy="89.19" r="1.6"/><circle cx="176.97" cy="102.14" r="1.6"/><circle cx="182.36" cy="83.12" r="1.6"/><circle cx="186.03" cy="58.79" r="1.6"/><circle cx="182.93" cy="32.75" r="1.6"/><circle cx="180.72" cy="101.93" r="1.6"/><circle cx="179.41" cy="97.46" r="1.6"/><circle cx="182.16" cy="62.28" r="1.6"/><circle cx="178.43" cy="101.7" r="1.6"/><circle cx="183.56" cy="78.87" r="1.6"/><circle cx="175.12" cy="48.91" r="1.6"/><circle cx="181.47" cy="26.76" r="1.6"/><circle cx="180.21" cy="79.56" r="1.6"/><circle cx="172.96" cy="44.76" r="1.6"/><circle cx="184.93" cy="66.16" r="1.6"/><circle cx="176.49" cy="55.13" r="1.6"/><circle cx="184.64" cy="60.75" r="1.6"/><circle cx="182.51" cy="34.62" r="1.6"/><circle cx="179.62" cy="24.64" r="1.6"/><circle cx="177.74" cy="91.48" r="1.6"/><circle cx="175.95" cy="89.55" r="1.6"/><circle cx="176.2" cy="36.14" r="1.6"/><circle cx="181.66" cy="47.17" r="1.6"/><circle cx="180.49" cy="73.75" r="1.6"/><circle cx="178.77" cy="110.35" r="1.6"/><circle cx="181.68" cy="93.97" r="1.6"/><circle cx="179.09" cy="106.17" r="1.6"/><circle cx="178.16" cy="54.52" r="1.6"/><circle cx="180.56" cy="90.78" r="1.6"/><circle cx="179.28" cy="103.6" r="1.6"/><circle cx="175.24" cy="83.06" r="1.6"/><circle cx="173.89" cy="78.86" r="1.6"/><circle cx="174.08" cy="81.12" r="1.6"/><circle cx="181.82" cy="25.17" r="1.6"/><circle cx="176.85" cy="100.93" r="1.6"/><circle cx="181.06" cy="27.59" r="1.6"/><circle cx="175.08" cy="92.17" r="1.6"/><circle cx="180.39" cy="96.24" r="1.6"/><circle cx="174.6" cy="74.66" r="1.6"/><circle cx="173.59" cy="28.62" r="1.6"/><circle cx="182.22" cy="62.81" r="1.6"/><circle cx="174.57" cy="80.34" r="1.6"/><circle cx="174.66" cy="94.55" r="1.6"/><circle cx="173.63" cy="78.19" r="1.6"/><circle cx="175.6" cy="24.08" r="1.6"/><circle cx="175.84" cy="94.35" r="1.6"/><circle cx="177.86" cy="24.85" r="1.6"/><circle cx="179.42" cy="54.63" r="1.6"/><circle cx="181.1" cy="74.92" r="1.6"/><circle cx="177.21" cy="104.98" r="1.6"/><circle cx="173.2" cy="80.05" r="1.6"/><circle cx="171.37" cy="45.94" r="1.6"/><circle cx="177.02" cy="100.24" r="1.6"/><circle cx="181.8" cy="86.77" r="1.6"/><circle cx="172.29" cy="57.8" r="1.6"/><circle cx="177.83" cy="45.65" r="1.6"/><circle cx="169.63" cy="58.04" r="1.6"/><circle cx="178.88" cy="99.21" r="1.6"/><circle cx="180.02" cy="101.13" r="1.6"/><circle cx="181.15" cy="88.1" r="1.6"/><circle cx="177.26" cy="86.17" r="1.6"/><circle cx="180.93" cy="96.39" r="1.6"/><circle cx="173.78" cy="33.16" r="1.6"/><circle cx="177.39" cy="38.7" r="1.6"/><circle cx="178.16" cy="100.44" r="1.6"/><circle cx="177.17" cy="99.63" r="1.6"/><circle cx="174.1" cy="73.88" r="1.6"/><circle cx="175.16" cy="80.51" r="1.6"/><circle cx="177.19" cy="24.26" r="1.6"/><circle cx="183.91" cy="73.71" r="1.6"/><circle cx="185.47" cy="49.06" r="1.6"/><circle cx="175.52" cy="95.75" r="1.6"/><circle cx="181.58" cy="92.82" r="1.6"/><circle cx="178.68" cy="109.13" r="1.6"/><circle cx="178.85" cy="58.31" r="1.6"/><circle cx="179.35" cy="81.45" r="1.6"/><circle cx="183.5" cy="40.41" r="1.6"/><circle cx="170.93" cy="71.67" r="1.6"/><circle cx="170.43" cy="50.82" r="1.6"/><circle cx="170.41" cy="64.57" r="1.6"/><circle cx="174.24" cy="70.69" r="1.6"/><circle cx="179.82" cy="97.14" r="1.6"/><circle cx="182.44" cy="40.28" r="1.6"/><circle cx="174.61" cy="75.35" r="1.6"/><circle cx="175.53" cy="104.6" r="1.6"/><circle cx="179.91" cy="59.07" r="1.6"/><circle cx="177.88" cy="38.06" r="1.6"/><circle cx="177.12" cy="102.21" r="1.6"/><circle cx="174.87" cy="86.6" r="1.6"/><circle cx="179.32" cy="110.32" r="1.6"/><circle cx="181.59" cy="38.26" r="1.6"/><circle cx="169.21" cy="53.27" r="1.6"/><circle cx="181.44" cy="42.35" r="1.6"/><circle cx="178.55" cy="64.96" r="1.6"/><circle cx="173.91" cy="34.97" r="1.6"/><circle cx="178.27" cy="56.07" r="1.6"/><circle cx="177.65" cy="96.54" r="1.6"/><circle cx="185.7" cy="52.75" r="1.6"/><circle cx="180.7" cy="84.97" r="1.6"/><circle cx="177.89" cy="95.22" r="1.6"/><circle cx="171.51" cy="46.73" r="1.6"/><circle cx="180.9" cy="82.05" r="1.6"/><circle cx="180.2" cy="103.81" r="1.6"/><circle cx="177.8" cy="68.37" r="1.6"/><circle cx="176.6" cy="109.38" r="1.6"/><circle cx="178.89" cy="56.92" r="1.6"/><circle cx="179.55" cy="77.09" r="1.6"/><circle cx="178.11" cy="37.68" r="1.6"/><circle cx="176.39" cy="39.24" r="1.6"/><circle cx="175.48" cy="39.52" r="1.6"/><circle cx="176.7" cy="79.33" r="1.6"/><circle cx="177.57" cy="38.53" r="1.6"/><circle cx="175.78" cy="83.16" r="1.6"/><circle cx="176.91" cy="47.78" r="1.6"/><circle cx="173.17" cy="85.44" r="1.6"/><circle cx="173.08" cy="83.42" r="1.6"/><circle cx="176.3" cy="102.71" r="1.6"/><circle cx="174.81" cy="96.88" r="1.6"/><circle cx="173.6" cy="67.46" r="1.6"/><circle cx="180.25" cy="92.59" r="1.6"/><circle cx="172.43" cy="34.87" r="1.6"/><circle cx="177.22" cy="88.52" r="1.6"/><circle cx="175.04" cy="56.74" r="1.6"/><circle cx="179.5" cy="56.21" r="1.6"/><circle cx="170.78" cy="58.11" r="1.6"/><circle cx="187.04" cy="65.51" r="1.6"/><circle cx="179.88" cy="91.76" r="1.6"/><circle cx="177.75" cy="106.07" r="1.6"/><circle cx="183.72" cy="55.81" r="1.6"/><circle cx="181.12" cy="32.74" r="1.6"/><circle cx="179.61" cy="36.77" r="1.6"/><circle cx="182.8" cy="69.28" r="1.6"/><circle cx="179.78" cy="29.19" r="1.6"/><circle cx="174.88" cy="97.12" r="1.6"/><circle cx="175.65" cy="84.37" r="1.6"/><circle cx="182.43" cy="89.77" r="1.6"/><circle cx="177.28" cy="23.84" r="1.6"/><circle cx="186.66" cy="67.99" r="1.6"/><circle cx="175.81" cy="105.76" r="1.6"/><circle cx="176.83" cy="35.73" r="1.6"/><circle cx="180.16" cy="95.08" r="1.6"/><circle cx="184.68" cy="73" r="1.6"/><circle cx="180.63" cy="96.52" r="1.6"/><circle cx="174.97" cy="79.99" r="1.6"/><circle cx="180.05" cy="88.89" r="1.6"/><circle cx="176.51" cy="106.09" r="1.6"/><circle cx="176.64" cy="25.57" r="1.6"/><circle cx="176.13" cy="46.35" r="1.6"/><circle cx="179.13" cy="28.91" r="1.6"/><circle cx="173.48" cy="61.59" r="1.6"/><circle cx="178.87" cy="32.62" r="1.6"/><circle cx="182.19" cy="32.43" r="1.6"/><circle cx="184.87" cy="48.22" r="1.6"/><circle cx="176.64" cy="34.61" r="1.6"/><circle cx="178.18" cy="92.8" r="1.6"/><circle cx="185.21" cy="63.41" r="1.6"/><circle cx="182.75" cy="38.18" r="1.6"/><circle cx="174.22" cy="69.36" r="1.6"/><circle cx="173.74" cy="54.71" r="1.6"/><circle cx="177.25" cy="79.83" r="1.6"/><circle cx="180.61" cy="69.66" r="1.6"/><circle cx="179.21" cy="100.01" r="1.6"/><circle cx="180.94" cy="49.89" r="1.6"/><circle cx="182.28" cy="85.14" r="1.6"/><circle cx="178.63" cy="57.93" r="1.6"/><circle cx="176.53" cy="90.86" r="1.6"/><circle cx="180.25" cy="52.6" r="1.6"/><circle cx="184.79" cy="56.81" r="1.6"/><circle cx="172.65" cy="54.46" r="1.6"/><circle cx="179.34" cy="77.82" r="1.6"/><circle cx="178.92" cy="111.64" r="1.6"/><circle cx="177.01" cy="61.07" r="1.6"/><circle cx="178.06" cy="81.54" r="1.6"/><circle cx="176.57" cy="75.84" r="1.6"/><circle cx="180.39" cy="100.05" r="1.6"/><circle cx="179.96" cy="93.87" r="1.6"/><circle cx="176.65" cy="102.53" r="1.6"/><circle cx="176.77" cy="107.32" r="1.6"/><circle cx="177.94" cy="32.6" r="1.6"/><circle cx="174.74" cy="37.65" r="1.6"/><circle cx="173.17" cy="77.46" r="1.6"/><circle cx="175.41" cy="58.96" r="1.6"/><circle cx="176.27" cy="107.46" r="1.6"/><circle cx="177.43" cy="68.92" r="1.6"/><circle cx="175.93" cy="38.01" r="1.6"/><circle cx="175.22" cy="55.9" r="1.6"/><circle cx="178.89" cy="73.11" r="1.6"/><circle cx="176.89" cy="65.04" r="1.6"/><circle cx="177.79" cy="77.76" r="1.6"/><circle cx="179.93" cy="34.75" r="1.6"/><circle cx="184.82" cy="59.96" r="1.6"/><circle cx="178.58" cy="35.35" r="1.6"/><circle cx="180.37" cy="50.24" r="1.6"/><circle cx="179.05" cy="96.32" r="1.6"/><circle cx="184.54" cy="74.43" r="1.6"/><circle cx="185.71" cy="43.71" r="1.6"/><circle cx="180.54" cy="62.62" r="1.6"/><circle cx="172.12" cy="35.14" r="1.6"/><circle cx="178.58" cy="37.75" r="1.6"/><circle cx="182.73" cy="44.96" r="1.6"/><circle cx="180.16" cy="37.37" r="1.6"/><circle cx="179.02" cy="103.62" r="1.6"/><circle cx="179.51" cy="105.64" r="1.6"/><circle cx="175.17" cy="99.85" r="1.6"/><circle cx="174.42" cy="68.98" r="1.6"/><circle cx="182.36" cy="62.6" r="1.6"/><circle cx="175.17" cy="88.59" r="1.6"/><circle cx="172.09" cy="38.8" r="1.6"/><circle cx="181.02" cy="89.35" r="1.6"/><circle cx="173.86" cy="31.79" r="1.6"/><circle cx="184.25" cy="35.84" r="1.6"/><circle cx="178.82" cy="29.94" r="1.6"/><circle cx="176.1" cy="101.5" r="1.6"/><circle cx="176.28" cy="84.31" r="1.6"/><circle cx="177.61" cy="80.61" r="1.6"/><circle cx="183.2" cy="36.86" r="1.6"/><circle cx="186.67" cy="68.07" r="1.6"/><circle cx="184.51" cy="76.52" r="1.6"/><circle cx="172.78" cy="81.8" r="1.6"/><circle cx="181.84" cy="24.01" r="1.6"/><circle cx="181.3" cy="82.81" r="1.6"/><circle cx="177.09" cy="98.12" r="1.6"/><circle cx="179.5" cy="86.3" r="1.6"/><circle cx="178.4" cy="28.95" r="1.6"/><circle cx="178.25" cy="106.26" r="1.6"/><circle cx="174.54" cy="93.55" r="1.6"/><circle cx="178.11" cy="60.52" r="1.6"/><circle cx="183.5" cy="72.96" r="1.6"/><circle cx="179.2" cy="67.19" r="1.6"/><circle cx="181.04" cy="69.68" r="1.6"/><circle cx="176.45" cy="75.14" r="1.6"/><circle cx="184.37" cy="48.99" r="1.6"/><circle cx="182.12" cy="55.11" r="1.6"/><circle cx="186.34" cy="47.74" r="1.6"/><circle cx="176.78" cy="42.82" r="1.6"/><circle cx="185.39" cy="56.38" r="1.6"/><circle cx="175.73" cy="88.65" r="1.6"/><circle cx="181.93" cy="45.25" r="1.6"/><circle cx="171.94" cy="63.3" r="1.6"/><circle cx="180.68" cy="33.95" r="1.6"/><circle cx="181.53" cy="82.37" r="1.6"/><circle cx="177.78" cy="30.44" r="1.6"/><circle cx="178.91" cy="36.46" r="1.6"/><circle cx="173.77" cy="44.01" r="1.6"/><circle cx="172.75" cy="73.47" r="1.6"/><circle cx="175.41" cy="94.21" r="1.6"/><circle cx="182.32" cy="47.31" r="1.6"/><circle cx="174.61" cy="47.05" r="1.6"/><circle cx="178.51" cy="93.25" r="1.6"/><circle cx="180.68" cy="95.63" r="1.6"/><circle cx="176.56" cy="109.23" r="1.6"/><circle cx="177.11" cy="58.52" r="1.6"/><circle cx="184.44" cy="49.08" r="1.6"/><circle cx="186.31" cy="58.65" r="1.6"/><circle cx="177.4" cy="29.86" r="1.6"/><circle cx="181.68" cy="79.45" r="1.6"/><circle cx="185.31" cy="66.52" r="1.6"/><circle cx="175.43" cy="50.01" r="1.6"/><circle cx="173.52" cy="40.72" r="1.6"/><circle cx="182.22" cy="66.82" r="1.6"/><circle cx="177.83" cy="40.71" r="1.6"/><circle cx="187.26" cy="62.1" r="1.6"/><circle cx="183.6" cy="67.4" r="1.6"/><circle cx="184.26" cy="44.44" r="1.6"/><circle cx="174.99" cy="25.7" r="1.6"/><circle cx="178.38" cy="80.01" r="1.6"/><circle cx="180.09" cy="70.46" r="1.6"/><circle cx="181.1" cy="54.52" r="1.6"/><circle cx="179.65" cy="58.87" r="1.6"/><circle cx="176.1" cy="87.09" r="1.6"/><circle cx="180.85" cy="91.27" r="1.6"/><circle cx="177.05" cy="111.51" r="1.6"/><circle cx="171.54" cy="61.49" r="1.6"/><circle cx="177.63" cy="38.54" r="1.6"/><circle cx="174.91" cy="92.76" r="1.6"/><circle cx="180.66" cy="94.28" r="1.6"/><circle cx="178.83" cy="109.61" r="1.6"/><circle cx="181.26" cy="42.23" r="1.6"/><circle cx="174.59" cy="74.64" r="1.6"/><circle cx="176.68" cy="93.94" r="1.6"/><circle cx="180.47" cy="98.29" r="1.6"/><circle cx="170.92" cy="58.88" r="1.6"/><circle cx="175.57" cy="96.13" r="1.6"/><circle cx="182.61" cy="34.29" r="1.6"/><circle cx="174.19" cy="44.67" r="1.6"/><circle cx="182.33" cy="58.44" r="1.6"/><circle cx="175.33" cy="40.92" r="1.6"/><circle cx="175.43" cy="29.55" r="1.6"/><circle cx="179.28" cy="89.96" r="1.6"/><circle cx="183.57" cy="76.91" r="1.6"/><circle cx="176.04" cy="26.33" r="1.6"/><circle cx="176.23" cy="80.04" r="1.6"/><circle cx="177.23" cy="110.43" r="1.6"/><circle cx="178.84" cy="108.93" r="1.6"/><circle cx="182.81" cy="83.78" r="1.6"/><circle cx="174.88" cy="62.15" r="1.6"/><circle cx="182.5" cy="62.39" r="1.6"/><circle cx="178.91" cy="96.61" r="1.6"/><circle cx="179.3" cy="94" r="1.6"/><circle cx="174.93" cy="92.73" r="1.6"/><circle cx="178.22" cy="97.39" r="1.6"/><circle cx="171.1" cy="52.71" r="1.6"/><circle cx="174.15" cy="77.51" r="1.6"/><circle cx="178.9" cy="55.75" r="1.6"/><circle cx="173.98" cy="42.19" r="1.6"/><circle cx="176.35" cy="30.37" r="1.6"/><circle cx="176.27" cy="97.16" r="1.6"/><circle cx="171.81" cy="47.34" r="1.6"/><circle cx="181.3" cy="77.54" r="1.6"/><circle cx="182.57" cy="40.26" r="1.6"/><circle cx="174.91" cy="24.52" r="1.6"/><circle cx="181.28" cy="31.96" r="1.6"/><circle cx="180.57" cy="30.96" r="1.6"/><circle cx="174.98" cy="42.17" r="1.6"/><circle cx="181.62" cy="32.47" r="1.6"/><circle cx="186.41" cy="56.56" r="1.6"/><circle cx="178.66" cy="85.28" r="1.6"/><circle cx="179.17" cy="64.57" r="1.6"/><circle cx="184.95" cy="75.16" r="1.6"/><circle cx="173.06" cy="43.16" r="1.6"/><circle cx="178.32" cy="112.36" r="1.6"/><circle cx="177.61" cy="79.75" r="1.6"/><circle cx="175.74" cy="24.77" r="1.6"/><circle cx="176.28" cy="94.92" r="1.6"/><circle cx="177.84" cy="77.36" r="1.6"/><circle cx="171.88" cy="38.93" r="1.6"/><circle cx="180.24" cy="29.44" r="1.6"/><circle cx="178.18" cy="44.77" r="1.6"/><circle cx="181.88" cy="74.93" r="1.6"/><circle cx="177.02" cy="37.81" r="1.6"/><circle cx="179.47" cy="90.76" r="1.6"/><circle cx="180.58" cy="65.8" r="1.6"/><circle cx="181.01" cy="93.55" r="1.6"/><circle cx="171.23" cy="70.7" r="1.6"/><circle cx="180.07" cy="35.13" r="1.6"/><circle cx="177.41" cy="84.05" r="1.6"/><circle cx="175.07" cy="85.57" r="1.6"/><circle cx="175.68" cy="58.62" r="1.6"/><circle cx="182.25" cy="90.22" r="1.6"/><circle cx="171.11" cy="48.05" r="1.6"/><circle cx="185.16" cy="56.43" r="1.6"/><circle cx="177.18" cy="112.04" r="1.6"/><circle cx="177.55" cy="53.49" r="1.6"/><circle cx="178.37" cy="103.11" r="1.6"/><circle cx="187.1" cy="61.65" r="1.6"/><circle cx="181.78" cy="88.82" r="1.6"/><circle cx="181.51" cy="95.61" r="1.6"/><circle cx="181" cy="84.38" r="1.6"/><circle cx="181.2" cy="68.41" r="1.6"/><circle cx="179.91" cy="106.96" r="1.6"/><circle cx="178.93" cy="103.65" r="1.6"/><circle cx="176.5" cy="67.37" r="1.6"/><circle cx="186.79" cy="58.4" r="1.6"/><circle cx="181.38" cy="82.83" r="1.6"/><circle cx="173.48" cy="82.87" r="1.6"/><circle cx="175.16" cy="63.43" r="1.6"/><circle cx="178.6" cy="109.69" r="1.6"/><circle cx="178.24" cy="56.14" r="1.6"/><circle cx="178.15" cy="102.96" r="1.6"/><circle cx="176.6" cy="86.4" r="1.6"/><circle cx="183.13" cy="61.51" r="1.6"/><circle cx="180.57" cy="41.3" r="1.6"/><circle cx="181.21" cy="98.38" r="1.6"/><circle cx="179.94" cy="70.6" r="1.6"/><circle cx="178.56" cy="111.96" r="1.6"/><circle cx="178.15" cy="100.87" r="1.6"/><circle cx="182.12" cy="35.37" r="1.6"/><circle cx="180.44" cy="32" r="1.6"/><circle cx="183.44" cy="49.52" r="1.6"/><circle cx="178.13" cy="80.62" r="1.6"/><circle cx="174.3" cy="66.23" r="1.6"/><circle cx="178.09" cy="112.42" r="1.6"/><circle cx="176.62" cy="108.91" r="1.6"/><circle cx="175.17" cy="25.8" r="1.6"/><circle cx="186.93" cy="52.01" r="1.6"/><circle cx="178.27" cy="34.99" r="1.6"/><circle cx="176.79" cy="99.72" r="1.6"/><circle cx="172.93" cy="49.49" r="1.6"/><circle cx="178.82" cy="28.42" r="1.6"/><circle cx="173.57" cy="73.55" r="1.6"/><circle cx="178.03" cy="73.48" r="1.6"/><circle cx="175.33" cy="85.36" r="1.6"/><circle cx="183.87" cy="43.8" r="1.6"/><circle cx="180.74" cy="84.67" r="1.6"/><circle cx="179.58" cy="54.14" r="1.6"/><circle cx="181.52" cy="57.32" r="1.6"/><circle cx="177.95" cy="108.59" r="1.6"/><circle cx="181.78" cy="64.11" r="1.6"/><circle cx="175.61" cy="67.7" r="1.6"/><circle cx="180.74" cy="25.58" r="1.6"/><circle cx="184.2" cy="68.9" r="1.6"/><circle cx="185.32" cy="54.16" r="1.6"/><circle cx="176.04" cy="95.36" r="1.6"/><circle cx="174.23" cy="92.8" r="1.6"/><circle cx="181.41" cy="80.91" r="1.6"/><circle cx="175.95" cy="87.73" r="1.6"/><circle cx="171.87" cy="54.89" r="1.6"/><circle cx="178.49" cy="103.35" r="1.6"/><circle cx="177.92" cy="93.09" r="1.6"/><circle cx="186.48" cy="62.06" r="1.6"/><circle cx="179.04" cy="106.79" r="1.6"/><circle cx="182.66" cy="81.42" r="1.6"/><circle cx="174.67" cy="52.32" r="1.6"/><circle cx="179.39" cy="93.59" r="1.6"/><circle cx="179.86" cy="91.58" r="1.6"/><circle cx="170.58" cy="59.28" r="1.6"/><circle cx="181.11" cy="92.34" r="1.6"/><circle cx="174.92" cy="70.83" r="1.6"/><circle cx="176.01" cy="98.79" r="1.6"/><circle cx="179.11" cy="40.77" r="1.6"/><circle cx="182.77" cy="66.21" r="1.6"/><circle cx="181.57" cy="24.94" r="1.6"/><circle cx="177.96" cy="48.54" r="1.6"/><circle cx="176.9" cy="25.95" r="1.6"/><circle cx="185.98" cy="68.61" r="1.6"/><circle cx="172.65" cy="40.62" r="1.6"/><circle cx="180.52" cy="100.54" r="1.6"/><circle cx="178.29" cy="67.82" r="1.6"/><circle cx="177.78" cy="101.89" r="1.6"/><circle cx="176.73" cy="63.65" r="1.6"/><circle cx="174.37" cy="45.17" r="1.6"/><circle cx="169.5" cy="56.2" r="1.6"/><circle cx="183.22" cy="64.79" r="1.6"/><circle cx="175.8" cy="101.03" r="1.6"/><circle cx="185.25" cy="55.98" r="1.6"/><circle cx="177.31" cy="108.6" r="1.6"/><circle cx="182.74" cy="39.43" r="1.6"/><circle cx="180.79" cy="49.87" r="1.6"/><circle cx="176.86" cy="105.84" r="1.6"/><circle cx="179.23" cy="49.86" r="1.6"/><circle cx="178.07" cy="31.11" r="1.6"/><circle cx="176.98" cy="74.82" r="1.6"/><circle cx="179.56" cy="89.45" r="1.6"/><circle cx="182.67" cy="75.24" r="1.6"/><circle cx="173.85" cy="36.31" r="1.6"/><circle cx="172.33" cy="48.81" r="1.6"/><circle cx="179.87" cy="103.39" r="1.6"/><circle cx="177.41" cy="103.18" r="1.6"/><circle cx="180.73" cy="99.25" r="1.6"/><circle cx="180.95" cy="91.91" r="1.6"/><circle cx="172.8" cy="84.53" r="1.6"/><circle cx="173.5" cy="52.76" r="1.6"/><circle cx="179.07" cy="70.7" r="1.6"/><circle cx="176.84" cy="105.17" r="1.6"/><circle cx="177.03" cy="110.41" r="1.6"/><circle cx="176.52" cy="93.39" r="1.6"/><circle cx="179.82" cy="73.63" r="1.6"/><circle cx="178.77" cy="27.94" r="1.6"/><circle cx="175.22" cy="82.27" r="1.6"/><circle cx="179.2" cy="31.91" r="1.6"/><circle cx="172.59" cy="46.73" r="1.6"/><circle cx="179.15" cy="45.02" r="1.6"/><circle cx="175.84" cy="65.28" r="1.6"/><circle cx="174.59" cy="34.06" r="1.6"/><circle cx="176.66" cy="78.17" r="1.6"/><circle cx="182.48" cy="39.87" r="1.6"/><circle cx="175.48" cy="72.21" r="1.6"/><circle cx="178.11" cy="109.97" r="1.6"/><circle cx="177.72" cy="37.16" r="1.6"/><circle cx="183.83" cy="47.15" r="1.6"/><circle cx="174.51" cy="92.88" r="1.6"/><circle cx="180.21" cy="35.8" r="1.6"/><circle cx="174.63" cy="68.34" r="1.6"/><circle cx="171.43" cy="67" r="1.6"/><circle cx="179.25" cy="65.27" r="1.6"/><circle cx="178.49" cy="106.69" r="1.6"/><circle cx="171.09" cy="74.83" r="1.6"/><circle cx="179.12" cy="68.46" r="1.6"/><circle cx="175.87" cy="82.66" r="1.6"/><circle cx="178.86" cy="107.42" r="1.6"/><circle cx="182.68" cy="87.77" r="1.6"/><circle cx="176.62" cy="108.63" r="1.6"/><circle cx="178.16" cy="103.46" r="1.6"/><circle cx="171.38" cy="77.3" r="1.6"/><circle cx="181.13" cy="29.55" r="1.6"/><circle cx="187.48" cy="56.21" r="1.6"/><circle cx="178.16" cy="107.7" r="1.6"/><circle cx="179.37" cy="75.99" r="1.6"/><circle cx="183.16" cy="71.52" r="1.6"/><circle cx="177.62" cy="111.26" r="1.6"/><circle cx="175.92" cy="60.56" r="1.6"/><circle cx="174.25" cy="30.57" r="1.6"/><circle cx="181.43" cy="39.73" r="1.6"/><circle cx="179.35" cy="39.67" r="1.6"/><circle cx="177.74" cy="110.41" r="1.6"/><circle cx="177.59" cy="112.44" r="1.6"/><circle cx="171.08" cy="55.22" r="1.6"/><circle cx="176.77" cy="37.25" r="1.6"/><circle cx="179.29" cy="92.44" r="1.6"/><circle cx="171.28" cy="43.43" r="1.6"/><circle cx="176.15" cy="30.34" r="1.6"/><circle cx="169.96" cy="72.47" r="1.6"/><circle cx="179.96" cy="32.94" r="1.6"/><circle cx="170.8" cy="44.34" r="1.6"/><circle cx="174.92" cy="95.68" r="1.6"/><circle cx="173.85" cy="89.7" r="1.6"/><circle cx="177.83" cy="100.18" r="1.6"/><circle cx="172.57" cy="53.62" r="1.6"/><circle cx="177.42" cy="96.54" r="1.6"/><circle cx="175.17" cy="73.16" r="1.6"/><circle cx="175.33" cy="39.54" r="1.6"/><circle cx="182.01" cy="46.44" r="1.6"/><circle cx="179.89" cy="96.81" r="1.6"/><circle cx="175.13" cy="49.81" r="1.6"/><circle cx="177.84" cy="107.51" r="1.6"/><circle cx="171.35" cy="75.08" r="1.6"/><circle cx="177.53" cy="92.62" r="1.6"/><circle cx="177.62" cy="42.91" r="1.6"/><circle cx="175.83" cy="41.46" r="1.6"/><circle cx="176.75" cy="55.71" r="1.6"/><circle cx="171.73" cy="53.74" r="1.6"/><circle cx="178.2" cy="97.62" r="1.6"/><circle cx="180.52" cy="57.18" r="1.6"/><circle cx="175.62" cy="32.46" r="1.6"/><circle cx="177.66" cy="55.27" r="1.6"/><circle cx="177.67" cy="100.3" r="1.6"/><circle cx="179.97" cy="59.89" r="1.6"/><circle cx="176.49" cy="92.4" r="1.6"/><circle cx="176.51" cy="83.96" r="1.6"/><circle cx="174.41" cy="25.23" r="1.6"/><circle cx="176.94" cy="28.09" r="1.6"/><circle cx="178.97" cy="43.34" r="1.6"/><circle cx="177.54" cy="89" r="1.6"/><circle cx="176.11" cy="88.46" r="1.6"/><circle cx="182.64" cy="40.4" r="1.6"/><circle cx="173.52" cy="72.99" r="1.6"/><circle cx="185.47" cy="55.47" r="1.6"/><circle cx="181.65" cy="29.04" r="1.6"/><circle cx="182.55" cy="33.76" r="1.6"/><circle cx="171.7" cy="71.11" r="1.6"/><circle cx="176.17" cy="48.08" r="1.6"/><circle cx="182.02" cy="77.18" r="1.6"/><circle cx="176.2" cy="98.6" r="1.6"/><circle cx="182.04" cy="75.19" r="1.6"/><circle cx="182.44" cy="40.56" r="1.6"/><circle cx="179.48" cy="45.11" r="1.6"/><circle cx="178.63" cy="67.94" r="1.6"/><circle cx="175.74" cy="99.4" r="1.6"/><circle cx="185.77" cy="46.75" r="1.6"/><circle cx="183.14" cy="79.5" r="1.6"/><circle cx="175.18" cy="43.99" r="1.6"/><circle cx="182.07" cy="75.42" r="1.6"/><circle cx="170.44" cy="69.01" r="1.6"/><circle cx="183.1" cy="63.12" r="1.6"/><circle cx="175.67" cy="101.97" r="1.6"/><circle cx="185.99" cy="58.45" r="1.6"/><circle cx="179.11" cy="88.86" r="1.6"/><circle cx="177.92" cy="38.4" r="1.6"/><circle cx="178.03" cy="60.78" r="1.6"/><circle cx="170.59" cy="67.5" r="1.6"/><circle cx="177.57" cy="95.78" r="1.6"/><circle cx="179.67" cy="40.44" r="1.6"/><circle cx="171.1" cy="52.35" r="1.6"/><circle cx="170.94" cy="75.37" r="1.6"/><circle cx="178.34" cy="105.14" r="1.6"/><circle cx="185.38" cy="47.18" r="1.6"/><circle cx="170.83" cy="75.28" r="1.6"/><circle cx="173.64" cy="87.89" r="1.6"/><circle cx="179.2" cy="48.25" r="1.6"/><circle cx="183.25" cy="82.27" r="1.6"/><circle cx="175.74" cy="96.3" r="1.6"/><circle cx="171.58" cy="72.39" r="1.6"/><circle cx="177.25" cy="86.15" r="1.6"/><circle cx="172.88" cy="81.68" r="1.6"/><circle cx="176.85" cy="67.51" r="1.6"/><circle cx="179.52" cy="27.42" r="1.6"/><circle cx="178.65" cy="110.69" r="1.6"/><circle cx="176.61" cy="109.28" r="1.6"/><circle cx="179.03" cy="80.46" r="1.6"/><circle cx="183.7" cy="63.76" r="1.6"/><circle cx="170.03" cy="60.25" r="1.6"/><circle cx="182.44" cy="79.93" r="1.6"/><circle cx="180.51" cy="56.52" r="1.6"/><circle cx="184.23" cy="36.79" r="1.6"/><circle cx="176.69" cy="110.57" r="1.6"/><circle cx="183.26" cy="80.75" r="1.6"/><circle cx="170.58" cy="69.25" r="1.6"/><circle cx="178.01" cy="88.4" r="1.6"/><circle cx="169.61" cy="53.98" r="1.6"/><circle cx="182.89" cy="43.34" r="1.6"/><circle cx="178.6" cy="65.43" r="1.6"/><circle cx="176.54" cy="80.73" r="1.6"/><circle cx="179.97" cy="91.18" r="1.6"/><circle cx="179.18" cy="25.35" r="1.6"/><circle cx="178.05" cy="26" r="1.6"/><circle cx="179.52" cy="105.83" r="1.6"/><circle cx="185.78" cy="50.58" r="1.6"/><circle cx="180.8" cy="39.02" r="1.6"/><circle cx="174.01" cy="91.6" r="1.6"/><circle cx="178.62" cy="46.6" r="1.6"/><circle cx="177.4" cy="112.16" r="1.6"/><circle cx="185.39" cy="64.64" r="1.6"/><circle cx="182.61" cy="38.91" r="1.6"/><circle cx="180.75" cy="89.68" r="1.6"/><circle cx="179.98" cy="54.04" r="1.6"/><circle cx="175.15" cy="36.7" r="1.6"/><circle cx="175.18" cy="95.57" r="1.6"/><circle cx="171.18" cy="71.84" r="1.6"/><circle cx="179.04" cy="95.33" r="1.6"/><circle cx="182.7" cy="34.44" r="1.6"/><circle cx="179.72" cy="81.51" r="1.6"/><circle cx="181.58" cy="30.46" r="1.6"/><circle cx="176.8" cy="85.75" r="1.6"/><circle cx="180.98" cy="30.39" r="1.6"/><circle cx="182.44" cy="43.19" r="1.6"/><circle cx="176.12" cy="75.56" r="1.6"/><circle cx="173.88" cy="63.49" r="1.6"/><circle cx="184.86" cy="68.81" r="1.6"/><circle cx="176.26" cy="73.7" r="1.6"/><circle cx="182.98" cy="85.1" r="1.6"/><circle cx="178.85" cy="39.97" r="1.6"/><circle cx="178.29" cy="102.58" r="1.6"/></g>
<g fill="#5a9bea" fill-opacity="1"><circle cx="178" cy="117" r="1.4"/></g>
<g fill="#f07878" fill-opacity="1"><circle cx="210.7" cy="38.54" r="1.4"/><circle cx="210.7" cy="97.56" r="1.4"/><circle cx="210.7" cy="80.46" r="1.4"/><circle cx="213.6" cy="82.19" r="1.4"/><circle cx="213.6" cy="78.25" r="1.4"/><circle cx="210.7" cy="70.1" r="1.4"/><circle cx="207.8" cy="82.46" r="1.4"/><circle cx="212.15" cy="35.72" r="1.4"/><circle cx="213.6" cy="71.79" r="1.4"/><circle cx="210.7" cy="74.29" r="1.4"/><circle cx="207.8" cy="75.67" r="1.4"/><circle cx="210.7" cy="102.92" r="1.4"/><circle cx="213.6" cy="74.97" r="1.4"/><circle cx="210.7" cy="88.74" r="1.4"/><circle cx="213.6" cy="101.86" r="1.4"/><circle cx="210.7" cy="61.1" r="1.4"/><circle cx="216.5" cy="80.85" r="1.4"/><circle cx="212.15" cy="67.5" r="1.4"/><circle cx="210.7" cy="52.64" r="1.4"/><circle cx="207.8" cy="36.66" r="1.4"/><circle cx="210.7" cy="84.21" r="1.4"/><circle cx="204.9" cy="83.45" r="1.4"/><circle cx="207.8" cy="67.66" r="1.4"/><circle cx="219.4" cy="83.29" r="1.4"/><circle cx="207.8" cy="101.79" r="1.4"/><circle cx="213.6" cy="96.85" r="1.4"/><circle cx="216.5" cy="77.01" r="1.4"/><circle cx="210.7" cy="92.84" r="1.4"/><circle cx="215.05" cy="65.6" r="1.4"/><circle cx="213.6" cy="51.7" r="1.4"/><circle cx="204.9" cy="76.26" r="1.4"/><circle cx="207.8" cy="70.61" r="1.4"/><circle cx="213.6" cy="89.62" r="1.4"/><circle cx="216.5" cy="70.51" r="1.4"/><circle cx="207.8" cy="54.52" r="1.4"/><circle cx="213.6" cy="62.98" r="1.4"/><circle cx="210.7" cy="26.32" r="1.4"/><circle cx="204.9" cy="65.78" r="1.4"/><circle cx="204.9" cy="70.68" r="1.4"/><circle cx="219.4" cy="72.64" r="1.4"/><circle cx="202" cy="82.5" r="1.4"/><circle cx="202" cy="70.03" r="1.4"/><circle cx="213.6" cy="92.6" r="1.4"/><circle cx="215.05" cy="35.72" r="1.4"/><circle cx="222.3" cy="80.79" r="1.4"/><circle cx="216.5" cy="83.79" r="1.4"/><circle cx="207.8" cy="93.06" r="1.4"/><circle cx="217.95" cy="67.03" r="1.4"/><circle cx="216.5" cy="90.77" r="1.4"/></g>
<line x1="199.3" y1="71.6" x2="222.2" y2="71.6" stroke="#000" stroke-width="0.9" />
<line x1="204.2" y1="66.6" x2="215.7" y2="66.6" stroke="#000" stroke-width="0.9" />
<line x1="204.2" y1="80.2" x2="215.7" y2="80.2" stroke="#000" stroke-width="0.9" />
<line x1="210.7" y1="66.6" x2="210.7" y2="80.2" stroke="#000" stroke-width="0.9" />
<line x1="166.5" y1="57.3" x2="189.4" y2="57.3" stroke="#000" stroke-width="0.9" />
<line x1="173" y1="54.3" x2="183.7" y2="54.3" stroke="#000" stroke-width="0.9" />
<line x1="173" y1="60.1" x2="183.7" y2="60.1" stroke="#000" stroke-width="0.9" />
<line x1="178" y1="54.3" x2="178" y2="60.1" stroke="#000" stroke-width="0.9" />
<text x="235.7" y="9.6" font-size="13" font-weight="bold" stroke="#000" stroke-width="0.22">B</text>
<text x="316.2" y="8.55" font-size="8.3" text-anchor="middle" font-weight="bold"  stroke="#000" stroke-width="0.15">IMvigor210</text>
<line x1="265.6" y1="16.8" x2="265.6" y2="107.3" stroke="#000" stroke-width="1.2" />
<line x1="262.6" y1="107.3" x2="265.6" y2="107.3" stroke="#000" stroke-width="1.2" />
<text x="261" y="109.89" font-size="7.3" text-anchor="end"  stroke="#000" stroke-width="0.22">0</text>
<line x1="262.6" y1="84.82" x2="265.6" y2="84.82" stroke="#000" stroke-width="1.2" />
<text x="261" y="87.41" font-size="7.3" text-anchor="end"  stroke="#000" stroke-width="0.22">2</text>
<line x1="262.6" y1="62.34" x2="265.6" y2="62.34" stroke="#000" stroke-width="1.2" />
<text x="261" y="64.93" font-size="7.3" text-anchor="end"  stroke="#000" stroke-width="0.22">4</text>
<line x1="262.6" y1="39.86" x2="265.6" y2="39.86" stroke="#000" stroke-width="1.2" />
<text x="261" y="42.45" font-size="7.3" text-anchor="end"  stroke="#000" stroke-width="0.22">6</text>
<line x1="262.6" y1="17.38" x2="265.6" y2="17.38" stroke="#000" stroke-width="1.2" />
<text x="261" y="19.97" font-size="7.3" text-anchor="end"  stroke="#000" stroke-width="0.22">8</text>
<line x1="265.6" y1="107.3" x2="357" y2="107.3" stroke="#000" stroke-width="1.2" />
<line x1="265.6" y1="107.3" x2="265.6" y2="110.3" stroke="#000" stroke-width="1.2" />
<line x1="288.08" y1="107.3" x2="288.08" y2="110.3" stroke="#000" stroke-width="1.2" />
<line x1="310.55" y1="107.3" x2="310.55" y2="110.3" stroke="#000" stroke-width="1.2" />
<line x1="333.03" y1="107.3" x2="333.03" y2="110.3" stroke="#000" stroke-width="1.2" />
<line x1="355.5" y1="107.3" x2="355.5" y2="110.3" stroke="#000" stroke-width="1.2" />
<text x="265.6" y="117.79" font-size="7.3" text-anchor="middle"  stroke="#000" stroke-width="0.22">0.0</text>
<text x="288.08" y="117.79" font-size="7.3" text-anchor="middle"  stroke="#000" stroke-width="0.22">2.5</text>
<text x="310.55" y="117.79" font-size="7.3" text-anchor="middle"  stroke="#000" stroke-width="0.22">5.0</text>
<text x="333.03" y="117.79" font-size="7.3" text-anchor="middle"  stroke="#000" stroke-width="0.22">7.5</text>
<text x="355.5" y="117.79" font-size="7.3" text-anchor="middle"  stroke="#000" stroke-width="0.22">10.0</text>
<text x="317.4" y="125.34" font-size="6.6" text-anchor="middle"  stroke="#000" stroke-width="0.22">The expression of <tspan font-style="italic">FGFR3</tspan></text>
<text x="317" y="134.34" font-size="6.6" text-anchor="middle"  stroke="#000" stroke-width="0.22">log<tspan baseline-shift="-25%" font-size="70%">2</tspan> (TPM+1)</text>
<text transform="translate(243.2,58.3) rotate(-90)" y="2.48" font-size="7" text-anchor="middle"  stroke="#000" stroke-width="0.22">The expression of <tspan font-style="italic">CD8A</tspan></text>
<text transform="translate(249.8,59.9) rotate(-90)" y="2.48" font-size="7" text-anchor="middle"  stroke="#000" stroke-width="0.22">log<tspan baseline-shift="-25%" font-size="70%">2</tspan> (TPM+1)</text>
<polygon points="267.7,47.1 354.4,77.3 354.4,82.3 267.7,51.1" fill="#d4e4f7" opacity="0.7"/>
<g fill="#6ea8ee" fill-opacity="0.95"><circle cx="307.5" cy="80.65" r="1.35"/><circle cx="320.45" cy="39.19" r="1.35"/><circle cx="312.98" cy="73.82" r="1.35"/><circle cx="314.71" cy="77.22" r="1.35"/><circle cx="328.87" cy="65.66" r="1.35"/><circle cx="304.98" cy="27.5" r="1.35"/><circle cx="344.6" cy="60.71" r="1.35"/><circle cx="271.27" cy="55.52" r="1.35"/><circle cx="329.89" cy="55.14" r="1.35"/><circle cx="310.95" cy="58.7" r="1.35"/><circle cx="307.81" cy="67.89" r="1.35"/><circle cx="298.2" cy="66.86" r="1.35"/><circle cx="315.93" cy="56.41" r="1.35"/><circle cx="286.48" cy="61.04" r="1.35"/><circle cx="346.25" cy="74.39" r="1.35"/><circle cx="331.93" cy="95.53" r="1.35"/><circle cx="288.4" cy="49.26" r="1.35"/><circle cx="341.68" cy="88.18" r="1.35"/><circle cx="304.61" cy="47.09" r="1.35"/><circle cx="329.26" cy="69.28" r="1.35"/><circle cx="334.12" cy="57.26" r="1.35"/><circle cx="311.55" cy="81.31" r="1.35"/><circle cx="287.66" cy="52.17" r="1.35"/><circle cx="316.82" cy="71.01" r="1.35"/><circle cx="308.72" cy="81.18" r="1.35"/><circle cx="341.89" cy="84.17" r="1.35"/><circle cx="307.98" cy="35.33" r="1.35"/><circle cx="300.99" cy="47.04" r="1.35"/><circle cx="327.24" cy="37.28" r="1.35"/><circle cx="293.49" cy="27.5" r="1.35"/><circle cx="345.31" cy="77.46" r="1.35"/><circle cx="307.35" cy="52.52" r="1.35"/><circle cx="282.45" cy="27.5" r="1.35"/><circle cx="310.43" cy="50.15" r="1.35"/><circle cx="272.85" cy="48.27" r="1.35"/><circle cx="326.93" cy="65.17" r="1.35"/><circle cx="319.84" cy="30.24" r="1.35"/><circle cx="310.06" cy="87.33" r="1.35"/><circle cx="332.03" cy="74.57" r="1.35"/><circle cx="270.76" cy="40.02" r="1.35"/><circle cx="345.16" cy="46.61" r="1.35"/><circle cx="305.45" cy="85.63" r="1.35"/><circle cx="301.39" cy="70.25" r="1.35"/><circle cx="269.19" cy="48.87" r="1.35"/><circle cx="351.49" cy="56.99" r="1.35"/><circle cx="342.57" cy="70.79" r="1.35"/><circle cx="290.73" cy="86.11" r="1.35"/><circle cx="279.94" cy="28.88" r="1.35"/><circle cx="317.75" cy="62.57" r="1.35"/><circle cx="333.36" cy="46.73" r="1.35"/><circle cx="279.33" cy="63.11" r="1.35"/><circle cx="311.98" cy="60.58" r="1.35"/><circle cx="323.56" cy="83.83" r="1.35"/><circle cx="272.32" cy="30.86" r="1.35"/><circle cx="344.5" cy="70.44" r="1.35"/><circle cx="289.9" cy="59.39" r="1.35"/><circle cx="283.58" cy="50.43" r="1.35"/><circle cx="290.35" cy="58.53" r="1.35"/><circle cx="303.26" cy="69.04" r="1.35"/><circle cx="294.02" cy="47.19" r="1.35"/><circle cx="281.71" cy="62.22" r="1.35"/><circle cx="301.26" cy="69.03" r="1.35"/><circle cx="352.63" cy="86.25" r="1.35"/><circle cx="335.77" cy="76.35" r="1.35"/><circle cx="353.48" cy="79.93" r="1.35"/><circle cx="296.18" cy="27.5" r="1.35"/><circle cx="320.03" cy="62.61" r="1.35"/><circle cx="334.56" cy="90.82" r="1.35"/><circle cx="321.47" cy="75.96" r="1.35"/><circle cx="302.78" cy="70.67" r="1.35"/><circle cx="324.38" cy="51.53" r="1.35"/><circle cx="319.68" cy="73.15" r="1.35"/><circle cx="308.06" cy="87.67" r="1.35"/><circle cx="302.55" cy="47.22" r="1.35"/><circle cx="352.28" cy="62.52" r="1.35"/><circle cx="323.45" cy="73.15" r="1.35"/><circle cx="322.96" cy="97.67" r="1.35"/><circle cx="326.55" cy="52.92" r="1.35"/><circle cx="289.69" cy="72.17" r="1.35"/><circle cx="301.95" cy="79.83" r="1.35"/><circle cx="354.56" cy="96.98" r="1.35"/><circle cx="310.28" cy="49.56" r="1.35"/><circle cx="326.2" cy="52.4" r="1.35"/><circle cx="303.85" cy="27.5" r="1.35"/><circle cx="308.62" cy="31.56" r="1.35"/><circle cx="286.24" cy="28.81" r="1.35"/><circle cx="301.34" cy="76.16" r="1.35"/><circle cx="327.14" cy="72.04" r="1.35"/><circle cx="319.73" cy="72.45" r="1.35"/><circle cx="285.73" cy="62.45" r="1.35"/><circle cx="308.35" cy="45.1" r="1.35"/><circle cx="309.17" cy="70.39" r="1.35"/><circle cx="307.21" cy="69.58" r="1.35"/><circle cx="322.65" cy="62.42" r="1.35"/><circle cx="349.81" cy="77.48" r="1.35"/><circle cx="269.95" cy="50.85" r="1.35"/><circle cx="329.37" cy="68.87" r="1.35"/><circle cx="333.06" cy="69.31" r="1.35"/><circle cx="309.31" cy="45.75" r="1.35"/><circle cx="300.57" cy="40.25" r="1.35"/><circle cx="314.46" cy="43.09" r="1.35"/><circle cx="320.63" cy="51.32" r="1.35"/><circle cx="287.93" cy="43.85" r="1.35"/><circle cx="345.35" cy="102.49" r="1.35"/><circle cx="309.92" cy="64.61" r="1.35"/><circle cx="333.43" cy="69.79" r="1.35"/><circle cx="305.77" cy="51.73" r="1.35"/><circle cx="309.38" cy="80.35" r="1.35"/><circle cx="297.77" cy="58.74" r="1.35"/><circle cx="328.37" cy="90.71" r="1.35"/><circle cx="293.39" cy="38.79" r="1.35"/><circle cx="284.85" cy="44.65" r="1.35"/><circle cx="318.74" cy="63.34" r="1.35"/><circle cx="306.22" cy="80.18" r="1.35"/><circle cx="341.43" cy="52.02" r="1.35"/><circle cx="296.55" cy="43.88" r="1.35"/><circle cx="314.04" cy="38.02" r="1.35"/><circle cx="327.78" cy="54.55" r="1.35"/><circle cx="318.42" cy="71.23" r="1.35"/><circle cx="311.36" cy="68.85" r="1.35"/><circle cx="330.5" cy="91.42" r="1.35"/><circle cx="327.55" cy="62.79" r="1.35"/><circle cx="314.8" cy="37.61" r="1.35"/><circle cx="352.9" cy="103.93" r="1.35"/><circle cx="337.53" cy="48.85" r="1.35"/><circle cx="303.19" cy="42.24" r="1.35"/><circle cx="334.19" cy="76.08" r="1.35"/><circle cx="315.06" cy="70.65" r="1.35"/><circle cx="286.33" cy="33.39" r="1.35"/><circle cx="332.82" cy="70.37" r="1.35"/><circle cx="299.9" cy="44.35" r="1.35"/><circle cx="322.34" cy="93.21" r="1.35"/><circle cx="308.5" cy="58.6" r="1.35"/><circle cx="317.51" cy="67.45" r="1.35"/><circle cx="286.69" cy="54.52" r="1.35"/><circle cx="330.77" cy="77.47" r="1.35"/><circle cx="313.11" cy="54.68" r="1.35"/><circle cx="322.48" cy="82.75" r="1.35"/><circle cx="325.05" cy="87.38" r="1.35"/><circle cx="302.36" cy="52.42" r="1.35"/><circle cx="313.31" cy="44.05" r="1.35"/><circle cx="341.14" cy="67" r="1.35"/><circle cx="338.3" cy="74.26" r="1.35"/><circle cx="301.16" cy="82.75" r="1.35"/><circle cx="336.29" cy="70.91" r="1.35"/><circle cx="318.56" cy="54.74" r="1.35"/><circle cx="314.9" cy="66.17" r="1.35"/><circle cx="288.86" cy="39.91" r="1.35"/><circle cx="311.88" cy="57.34" r="1.35"/><circle cx="299.49" cy="43.96" r="1.35"/><circle cx="328.73" cy="51.82" r="1.35"/><circle cx="297.07" cy="56.79" r="1.35"/><circle cx="349.23" cy="49.81" r="1.35"/><circle cx="332.47" cy="96.1" r="1.35"/><circle cx="307.78" cy="40.65" r="1.35"/><circle cx="320.55" cy="75.92" r="1.35"/><circle cx="294.09" cy="53.55" r="1.35"/><circle cx="324.65" cy="69.51" r="1.35"/><circle cx="297.52" cy="67.24" r="1.35"/><circle cx="300.4" cy="55.05" r="1.35"/><circle cx="322.48" cy="71.44" r="1.35"/><circle cx="301.02" cy="42.02" r="1.35"/><circle cx="300.74" cy="61.32" r="1.35"/><circle cx="295.96" cy="95.14" r="1.35"/><circle cx="314.9" cy="77.55" r="1.35"/><circle cx="299.61" cy="72.16" r="1.35"/><circle cx="308.14" cy="39.95" r="1.35"/><circle cx="319.25" cy="38.63" r="1.35"/><circle cx="305.19" cy="72.86" r="1.35"/><circle cx="298.78" cy="67.77" r="1.35"/><circle cx="306.42" cy="59.66" r="1.35"/><circle cx="296.81" cy="61.62" r="1.35"/><circle cx="323.87" cy="63.4" r="1.35"/><circle cx="342.19" cy="65.62" r="1.35"/><circle cx="328.62" cy="56.44" r="1.35"/><circle cx="294.9" cy="41.51" r="1.35"/><circle cx="309.48" cy="79.31" r="1.35"/><circle cx="315.96" cy="43.3" r="1.35"/><circle cx="320.46" cy="46.43" r="1.35"/><circle cx="313.68" cy="64.01" r="1.35"/><circle cx="313.38" cy="76.78" r="1.35"/><circle cx="343.99" cy="73.45" r="1.35"/><circle cx="311.33" cy="41.84" r="1.35"/><circle cx="284.18" cy="68.32" r="1.35"/><circle cx="275.25" cy="27.5" r="1.35"/><circle cx="314.57" cy="69.06" r="1.35"/><circle cx="303.57" cy="40.3" r="1.35"/><circle cx="302.25" cy="57.07" r="1.35"/><circle cx="310.52" cy="50.43" r="1.35"/><circle cx="334" cy="63.34" r="1.35"/><circle cx="312.53" cy="55.61" r="1.35"/><circle cx="306.89" cy="58.71" r="1.35"/><circle cx="305.37" cy="45.24" r="1.35"/><circle cx="323.03" cy="85.54" r="1.35"/><circle cx="318.07" cy="58.95" r="1.35"/><circle cx="330.97" cy="74.14" r="1.35"/><circle cx="305.4" cy="51.31" r="1.35"/><circle cx="324.84" cy="65.05" r="1.35"/><circle cx="297.67" cy="62.42" r="1.35"/><circle cx="307.56" cy="70.18" r="1.35"/><circle cx="314.38" cy="71.93" r="1.35"/><circle cx="340.84" cy="64.46" r="1.35"/><circle cx="310.16" cy="76.78" r="1.35"/><circle cx="281.01" cy="27.5" r="1.35"/><circle cx="335.62" cy="88.8" r="1.35"/><circle cx="289.75" cy="88.98" r="1.35"/><circle cx="296.87" cy="86.89" r="1.35"/><circle cx="342.03" cy="90.44" r="1.35"/><circle cx="327.36" cy="70.96" r="1.35"/><circle cx="333.16" cy="43.43" r="1.35"/><circle cx="344.35" cy="52.28" r="1.35"/><circle cx="311.84" cy="79.78" r="1.35"/><circle cx="313.11" cy="41.01" r="1.35"/><circle cx="311.02" cy="68.48" r="1.35"/><circle cx="304.73" cy="65.82" r="1.35"/><circle cx="320.16" cy="51.42" r="1.35"/><circle cx="272.53" cy="38.34" r="1.35"/><circle cx="278" cy="62.25" r="1.35"/><circle cx="314.26" cy="66.88" r="1.35"/><circle cx="300.61" cy="59.06" r="1.35"/><circle cx="307.97" cy="69.4" r="1.35"/><circle cx="290.72" cy="81.83" r="1.35"/><circle cx="295.56" cy="64.9" r="1.35"/><circle cx="288.48" cy="73.51" r="1.35"/><circle cx="342.96" cy="92.84" r="1.35"/><circle cx="295.43" cy="55.84" r="1.35"/><circle cx="313.84" cy="56.04" r="1.35"/><circle cx="326.53" cy="40.76" r="1.35"/><circle cx="319.16" cy="82.29" r="1.35"/><circle cx="342.15" cy="82.19" r="1.35"/><circle cx="283.03" cy="50.99" r="1.35"/><circle cx="295.19" cy="62.87" r="1.35"/><circle cx="318.05" cy="49.69" r="1.35"/><circle cx="342.85" cy="74.5" r="1.35"/><circle cx="291.8" cy="60.33" r="1.35"/><circle cx="326.09" cy="32.11" r="1.35"/><circle cx="281.17" cy="27.5" r="1.35"/><circle cx="307.94" cy="70.15" r="1.35"/><circle cx="291.45" cy="86.66" r="1.35"/><circle cx="347.79" cy="103.93" r="1.35"/><circle cx="311.39" cy="79.18" r="1.35"/><circle cx="282.85" cy="58.72" r="1.35"/><circle cx="331.31" cy="71.89" r="1.35"/><circle cx="312.14" cy="54.57" r="1.35"/><circle cx="323.23" cy="32.13" r="1.35"/><circle cx="306.73" cy="46.05" r="1.35"/><circle cx="299.99" cy="69.84" r="1.35"/><circle cx="306.07" cy="60.11" r="1.35"/><circle cx="305.8" cy="59.07" r="1.35"/><circle cx="304.81" cy="52.03" r="1.35"/><circle cx="310.57" cy="66.38" r="1.35"/><circle cx="325.37" cy="74.67" r="1.35"/><circle cx="313.38" cy="57" r="1.35"/><circle cx="316.88" cy="63.31" r="1.35"/><circle cx="328.17" cy="56.85" r="1.35"/><circle cx="297.03" cy="53.62" r="1.35"/><circle cx="293.35" cy="74.06" r="1.35"/><circle cx="299.21" cy="57.18" r="1.35"/><circle cx="291.33" cy="76.04" r="1.35"/><circle cx="353.48" cy="103.93" r="1.35"/><circle cx="309.56" cy="63.38" r="1.35"/><circle cx="305.23" cy="71.53" r="1.35"/><circle cx="315.15" cy="51.81" r="1.35"/><circle cx="324.4" cy="72.17" r="1.35"/><circle cx="309.88" cy="51.5" r="1.35"/><circle cx="313.12" cy="68.72" r="1.35"/><circle cx="352.9" cy="94.79" r="1.35"/><circle cx="288.97" cy="68.02" r="1.35"/><circle cx="327.16" cy="61.29" r="1.35"/><circle cx="309.64" cy="76.51" r="1.35"/><circle cx="311.41" cy="47.85" r="1.35"/><circle cx="293.58" cy="97.04" r="1.35"/><circle cx="323.2" cy="55.51" r="1.35"/><circle cx="346.23" cy="88.96" r="1.35"/><circle cx="306.01" cy="48.9" r="1.35"/><circle cx="310.61" cy="59.52" r="1.35"/><circle cx="351.73" cy="76.26" r="1.35"/><circle cx="324.22" cy="63.77" r="1.35"/><circle cx="283.36" cy="61.99" r="1.35"/><circle cx="331.19" cy="72.45" r="1.35"/><circle cx="342.24" cy="79.32" r="1.35"/><circle cx="327.42" cy="84" r="1.35"/><circle cx="293.78" cy="38.51" r="1.35"/><circle cx="323.41" cy="64.22" r="1.35"/><circle cx="297.32" cy="68.03" r="1.35"/><circle cx="284.68" cy="29.94" r="1.35"/><circle cx="310.47" cy="70.81" r="1.35"/><circle cx="318.06" cy="57.87" r="1.35"/><circle cx="325.62" cy="57.6" r="1.35"/><circle cx="316.18" cy="59" r="1.35"/></g>
<line x1="267.7" y1="49.1" x2="354.4" y2="79.8" stroke="#5b93d6" stroke-width="0.9" />
<text x="353.5" y="21.49" font-size="5.6" text-anchor="end"  stroke="#000" stroke-width="0.12">Spearman</text>
<text x="353.5" y="27.89" font-size="5.6" text-anchor="end"  stroke="#000" stroke-width="0.12"><tspan font-style="italic">R</tspan> = −0.441</text>
<text x="353.5" y="34.19" font-size="5.6" text-anchor="end"  stroke="#000" stroke-width="0.12"><tspan font-style="italic">P</tspan> &lt; 0.001</text>
<text x="448.1" y="9.55" font-size="8.3" text-anchor="middle" font-weight="bold"  stroke="#000" stroke-width="0.15">TCGA-BLCA</text>
<line x1="397.3" y1="16.8" x2="397.3" y2="106.3" stroke="#000" stroke-width="1.2" />
<line x1="394.3" y1="106.3" x2="397.3" y2="106.3" stroke="#000" stroke-width="1.2" />
<text x="392.7" y="108.89" font-size="7.3" text-anchor="end"  stroke="#000" stroke-width="0.22">0</text>
<line x1="394.3" y1="84.1" x2="397.3" y2="84.1" stroke="#000" stroke-width="1.2" />
<text x="392.7" y="86.69" font-size="7.3" text-anchor="end"  stroke="#000" stroke-width="0.22">2</text>
<line x1="394.3" y1="61.9" x2="397.3" y2="61.9" stroke="#000" stroke-width="1.2" />
<text x="392.7" y="64.49" font-size="7.3" text-anchor="end"  stroke="#000" stroke-width="0.22">4</text>
<line x1="394.3" y1="39.7" x2="397.3" y2="39.7" stroke="#000" stroke-width="1.2" />
<text x="392.7" y="42.29" font-size="7.3" text-anchor="end"  stroke="#000" stroke-width="0.22">6</text>
<line x1="394.3" y1="17.5" x2="397.3" y2="17.5" stroke="#000" stroke-width="1.2" />
<text x="392.7" y="20.09" font-size="7.3" text-anchor="end"  stroke="#000" stroke-width="0.22">8</text>
<line x1="397.3" y1="106.3" x2="487" y2="106.3" stroke="#000" stroke-width="1.2" />
<line x1="419.41" y1="106.3" x2="419.41" y2="109.3" stroke="#000" stroke-width="1.2" />
<line x1="441.52" y1="106.3" x2="441.52" y2="109.3" stroke="#000" stroke-width="1.2" />
<line x1="463.63" y1="106.3" x2="463.63" y2="109.3" stroke="#000" stroke-width="1.2" />
<line x1="485.74" y1="106.3" x2="485.74" y2="109.3" stroke="#000" stroke-width="1.2" />
<text x="419.41" y="117.19" font-size="7.3" text-anchor="middle"  stroke="#000" stroke-width="0.22">3</text>
<text x="441.52" y="117.19" font-size="7.3" text-anchor="middle"  stroke="#000" stroke-width="0.22">6</text>
<text x="463.63" y="117.19" font-size="7.3" text-anchor="middle"  stroke="#000" stroke-width="0.22">9</text>
<text x="485.74" y="117.19" font-size="7.3" text-anchor="middle"  stroke="#000" stroke-width="0.22">12</text>
<text x="446.7" y="124.84" font-size="6.6" text-anchor="middle"  stroke="#000" stroke-width="0.22">The expression of <tspan font-style="italic">FGFR3</tspan></text>
<text x="446.7" y="132.74" font-size="6.6" text-anchor="middle"  stroke="#000" stroke-width="0.22">log<tspan baseline-shift="-25%" font-size="70%">2</tspan> (TPM+1)</text>
<text transform="translate(377.2,55.6) rotate(-90)" y="2.48" font-size="7" text-anchor="middle"  stroke="#000" stroke-width="0.22">The expression of <tspan font-style="italic">CD8A</tspan></text>
<text transform="translate(383.6,57.2) rotate(-90)" y="2.48" font-size="7" text-anchor="middle"  stroke="#000" stroke-width="0.22">log<tspan baseline-shift="-25%" font-size="70%">2</tspan> (TPM+1)</text>
<polygon points="399.8,59.8 484,88.9 484,93.9 399.8,63.8" fill="#d4e4f7" opacity="0.7"/>
<g fill="#6ea8ee" fill-opacity="0.95"><circle cx="452.24" cy="75.63" r="1.35"/><circle cx="473.2" cy="100.03" r="1.35"/><circle cx="416.11" cy="81.33" r="1.35"/><circle cx="479.31" cy="98.22" r="1.35"/><circle cx="464.85" cy="93.24" r="1.35"/><circle cx="446.71" cy="61.46" r="1.35"/><circle cx="437.97" cy="92.42" r="1.35"/><circle cx="464.6" cy="97.91" r="1.35"/><circle cx="410.49" cy="24.2" r="1.35"/><circle cx="461.05" cy="76.16" r="1.35"/><circle cx="410.97" cy="33.25" r="1.35"/><circle cx="451.48" cy="67.84" r="1.35"/><circle cx="442.42" cy="79.65" r="1.35"/><circle cx="453.07" cy="74.08" r="1.35"/><circle cx="463.03" cy="103.81" r="1.35"/><circle cx="411.02" cy="61.83" r="1.35"/><circle cx="455.29" cy="69.91" r="1.35"/><circle cx="454.03" cy="73.31" r="1.35"/><circle cx="465.17" cy="100.35" r="1.35"/><circle cx="464.64" cy="82.71" r="1.35"/><circle cx="461.79" cy="76.36" r="1.35"/><circle cx="452.05" cy="88.53" r="1.35"/><circle cx="402.19" cy="80.41" r="1.35"/><circle cx="448.17" cy="60.33" r="1.35"/><circle cx="440.78" cy="99.11" r="1.35"/><circle cx="451.55" cy="62.07" r="1.35"/><circle cx="438.5" cy="64.76" r="1.35"/><circle cx="443.09" cy="78.31" r="1.35"/><circle cx="478.95" cy="93.44" r="1.35"/><circle cx="451.34" cy="75.95" r="1.35"/><circle cx="442.46" cy="67.5" r="1.35"/><circle cx="424.18" cy="47.9" r="1.35"/><circle cx="462.65" cy="54.86" r="1.35"/><circle cx="446.99" cy="65.7" r="1.35"/><circle cx="461.83" cy="97.57" r="1.35"/><circle cx="469.92" cy="101.55" r="1.35"/><circle cx="439.43" cy="79.21" r="1.35"/><circle cx="417.09" cy="47.63" r="1.35"/><circle cx="454.88" cy="83.76" r="1.35"/><circle cx="463.57" cy="96.53" r="1.35"/><circle cx="435.93" cy="59.86" r="1.35"/><circle cx="466.96" cy="92.24" r="1.35"/><circle cx="453.15" cy="80.43" r="1.35"/><circle cx="465.15" cy="84.32" r="1.35"/><circle cx="456.1" cy="74.2" r="1.35"/><circle cx="479.46" cy="95.7" r="1.35"/><circle cx="402.31" cy="31.6" r="1.35"/><circle cx="427.48" cy="71.05" r="1.35"/><circle cx="446.45" cy="66.2" r="1.35"/><circle cx="444.51" cy="74.9" r="1.35"/><circle cx="452.67" cy="73.01" r="1.35"/><circle cx="446.42" cy="74.57" r="1.35"/><circle cx="445.15" cy="100.74" r="1.35"/><circle cx="454.76" cy="75.36" r="1.35"/><circle cx="451.71" cy="88.65" r="1.35"/><circle cx="457.13" cy="81.56" r="1.35"/><circle cx="449.93" cy="89.85" r="1.35"/><circle cx="419.18" cy="60.69" r="1.35"/><circle cx="466.49" cy="48.32" r="1.35"/><circle cx="471.45" cy="58.86" r="1.35"/><circle cx="478.52" cy="103.62" r="1.35"/><circle cx="467.5" cy="80.85" r="1.35"/><circle cx="432.27" cy="92.64" r="1.35"/><circle cx="407.28" cy="72.78" r="1.35"/><circle cx="446.43" cy="66.25" r="1.35"/><circle cx="424.01" cy="82.59" r="1.35"/><circle cx="474.55" cy="96.88" r="1.35"/><circle cx="478.07" cy="98.3" r="1.35"/><circle cx="436.98" cy="81.56" r="1.35"/><circle cx="413.82" cy="63.29" r="1.35"/><circle cx="457.14" cy="80.64" r="1.35"/><circle cx="444.76" cy="76.88" r="1.35"/><circle cx="451.34" cy="87.88" r="1.35"/><circle cx="428.99" cy="77.76" r="1.35"/><circle cx="447.13" cy="51.69" r="1.35"/><circle cx="473.89" cy="70.6" r="1.35"/><circle cx="432.01" cy="98.24" r="1.35"/><circle cx="441" cy="91.82" r="1.35"/><circle cx="426.16" cy="91.42" r="1.35"/><circle cx="447.88" cy="101.46" r="1.35"/><circle cx="457.05" cy="93.3" r="1.35"/><circle cx="470.32" cy="69.99" r="1.35"/><circle cx="466.19" cy="101.92" r="1.35"/><circle cx="454.54" cy="92.56" r="1.35"/><circle cx="471.6" cy="73.96" r="1.35"/><circle cx="447.21" cy="65.41" r="1.35"/><circle cx="423.72" cy="68.33" r="1.35"/><circle cx="453.69" cy="103.25" r="1.35"/><circle cx="437.77" cy="84.72" r="1.35"/><circle cx="443.34" cy="56.52" r="1.35"/><circle cx="403.51" cy="45.33" r="1.35"/><circle cx="406.05" cy="77.13" r="1.35"/><circle cx="436.09" cy="68.39" r="1.35"/><circle cx="429.84" cy="73.52" r="1.35"/><circle cx="458.8" cy="62.94" r="1.35"/><circle cx="455.34" cy="80.17" r="1.35"/><circle cx="455.27" cy="82.46" r="1.35"/><circle cx="447.84" cy="70.66" r="1.35"/><circle cx="458.96" cy="76.45" r="1.35"/><circle cx="431.18" cy="66.25" r="1.35"/><circle cx="448.46" cy="65.95" r="1.35"/><circle cx="426.25" cy="76.81" r="1.35"/><circle cx="448.31" cy="82.75" r="1.35"/><circle cx="467.04" cy="96.79" r="1.35"/><circle cx="458.39" cy="63.58" r="1.35"/><circle cx="457.58" cy="65.7" r="1.35"/><circle cx="439.93" cy="97.53" r="1.35"/><circle cx="446.58" cy="86.74" r="1.35"/><circle cx="446.62" cy="100.6" r="1.35"/><circle cx="429.1" cy="63.66" r="1.35"/><circle cx="407.7" cy="69.13" r="1.35"/><circle cx="461.23" cy="60.61" r="1.35"/><circle cx="433.42" cy="88.62" r="1.35"/><circle cx="453.55" cy="100.89" r="1.35"/><circle cx="476.95" cy="97.19" r="1.35"/><circle cx="461" cy="100.03" r="1.35"/><circle cx="472.25" cy="68.04" r="1.35"/><circle cx="474.77" cy="95.43" r="1.35"/><circle cx="439.77" cy="98.43" r="1.35"/><circle cx="434.38" cy="68.09" r="1.35"/><circle cx="417.69" cy="42.72" r="1.35"/><circle cx="461.06" cy="70.77" r="1.35"/><circle cx="421.06" cy="68.86" r="1.35"/><circle cx="448.02" cy="98.6" r="1.35"/><circle cx="430.13" cy="81.13" r="1.35"/><circle cx="450.45" cy="80.45" r="1.35"/><circle cx="442.16" cy="58.49" r="1.35"/><circle cx="452.37" cy="31.87" r="1.35"/><circle cx="434.29" cy="69.46" r="1.35"/><circle cx="446.28" cy="103.82" r="1.35"/><circle cx="408.84" cy="80.37" r="1.35"/><circle cx="455.57" cy="101.61" r="1.35"/><circle cx="467.24" cy="91.1" r="1.35"/><circle cx="456.51" cy="65.1" r="1.35"/><circle cx="444.34" cy="87.96" r="1.35"/><circle cx="449.86" cy="38.21" r="1.35"/><circle cx="441.43" cy="73.37" r="1.35"/><circle cx="439.33" cy="100.25" r="1.35"/><circle cx="459.6" cy="66.3" r="1.35"/><circle cx="431.82" cy="82.6" r="1.35"/><circle cx="471.56" cy="94.39" r="1.35"/><circle cx="440.78" cy="61.45" r="1.35"/><circle cx="447.56" cy="64.83" r="1.35"/><circle cx="457.04" cy="61.1" r="1.35"/><circle cx="468.38" cy="76.4" r="1.35"/><circle cx="419.13" cy="72.13" r="1.35"/><circle cx="447.15" cy="67.35" r="1.35"/><circle cx="467.61" cy="66.45" r="1.35"/><circle cx="462.22" cy="69.36" r="1.35"/><circle cx="441.43" cy="60.63" r="1.35"/><circle cx="453.33" cy="54.25" r="1.35"/><circle cx="466.57" cy="94.36" r="1.35"/><circle cx="454.89" cy="52.55" r="1.35"/><circle cx="440.37" cy="59.33" r="1.35"/><circle cx="472.22" cy="87.06" r="1.35"/><circle cx="406.58" cy="57.54" r="1.35"/><circle cx="468.22" cy="103.71" r="1.35"/><circle cx="474.91" cy="96.3" r="1.35"/><circle cx="423.05" cy="67.99" r="1.35"/><circle cx="480.34" cy="79.17" r="1.35"/><circle cx="414" cy="55.06" r="1.35"/><circle cx="461.7" cy="86.6" r="1.35"/><circle cx="411.69" cy="19.72" r="1.35"/><circle cx="472.55" cy="91.85" r="1.35"/><circle cx="448.4" cy="79.1" r="1.35"/><circle cx="407.44" cy="94.41" r="1.35"/><circle cx="415.03" cy="64.31" r="1.35"/><circle cx="440.13" cy="71.68" r="1.35"/><circle cx="476.66" cy="67.06" r="1.35"/><circle cx="451.24" cy="67.58" r="1.35"/><circle cx="474.68" cy="103.53" r="1.35"/><circle cx="414.67" cy="42.42" r="1.35"/><circle cx="458.07" cy="79.97" r="1.35"/><circle cx="440.12" cy="78.27" r="1.35"/><circle cx="441.26" cy="96.46" r="1.35"/><circle cx="460.36" cy="96.48" r="1.35"/><circle cx="431.09" cy="68.64" r="1.35"/><circle cx="457.96" cy="98.3" r="1.35"/><circle cx="459.96" cy="85.68" r="1.35"/><circle cx="430.12" cy="76.23" r="1.35"/><circle cx="459.15" cy="75.78" r="1.35"/><circle cx="456.35" cy="95.68" r="1.35"/><circle cx="423.53" cy="93.22" r="1.35"/><circle cx="476.9" cy="56.74" r="1.35"/><circle cx="465.54" cy="75.16" r="1.35"/><circle cx="454.7" cy="77.44" r="1.35"/><circle cx="445.46" cy="56.5" r="1.35"/><circle cx="414.69" cy="62.05" r="1.35"/><circle cx="481.4" cy="93.91" r="1.35"/><circle cx="449.84" cy="99.86" r="1.35"/><circle cx="452.03" cy="103.44" r="1.35"/><circle cx="462.27" cy="84.85" r="1.35"/><circle cx="478.45" cy="94.78" r="1.35"/><circle cx="456.51" cy="99.29" r="1.35"/><circle cx="436.69" cy="92.29" r="1.35"/><circle cx="442.96" cy="99.93" r="1.35"/><circle cx="412.35" cy="92.47" r="1.35"/><circle cx="440.28" cy="79.49" r="1.35"/><circle cx="459.24" cy="96.2" r="1.35"/><circle cx="457.88" cy="92.32" r="1.35"/><circle cx="446.99" cy="101.02" r="1.35"/><circle cx="456" cy="78.93" r="1.35"/><circle cx="437.6" cy="65.25" r="1.35"/><circle cx="420.32" cy="71.7" r="1.35"/><circle cx="430.98" cy="93.33" r="1.35"/><circle cx="426.17" cy="92.68" r="1.35"/><circle cx="440.17" cy="86.53" r="1.35"/><circle cx="406.55" cy="63.98" r="1.35"/><circle cx="415.13" cy="67.59" r="1.35"/><circle cx="438.01" cy="54.02" r="1.35"/><circle cx="409.12" cy="72.46" r="1.35"/><circle cx="431.93" cy="43.2" r="1.35"/><circle cx="456.46" cy="84.1" r="1.35"/><circle cx="449.53" cy="97.16" r="1.35"/><circle cx="424.32" cy="67.45" r="1.35"/><circle cx="413.97" cy="54.73" r="1.35"/><circle cx="476.44" cy="91.97" r="1.35"/><circle cx="470.15" cy="51.28" r="1.35"/><circle cx="465.15" cy="98.84" r="1.35"/><circle cx="459.95" cy="97.35" r="1.35"/><circle cx="419.16" cy="44.83" r="1.35"/><circle cx="441.11" cy="93.84" r="1.35"/><circle cx="453.62" cy="62.38" r="1.35"/><circle cx="403.79" cy="89.45" r="1.35"/><circle cx="476.22" cy="96.65" r="1.35"/><circle cx="457.99" cy="95.84" r="1.35"/><circle cx="452.34" cy="94.78" r="1.35"/><circle cx="446.85" cy="66.92" r="1.35"/><circle cx="455.98" cy="71.74" r="1.35"/><circle cx="467.8" cy="83" r="1.35"/><circle cx="427.94" cy="79.95" r="1.35"/><circle cx="430.86" cy="92.78" r="1.35"/><circle cx="445" cy="54.75" r="1.35"/><circle cx="444.47" cy="95.16" r="1.35"/><circle cx="405.6" cy="50.79" r="1.35"/><circle cx="442.28" cy="78.73" r="1.35"/><circle cx="463.96" cy="77.35" r="1.35"/><circle cx="478.24" cy="95.27" r="1.35"/><circle cx="451.6" cy="58.02" r="1.35"/><circle cx="451.68" cy="99.49" r="1.35"/><circle cx="465.5" cy="100.52" r="1.35"/><circle cx="450.67" cy="89.87" r="1.35"/><circle cx="444.59" cy="91.08" r="1.35"/><circle cx="442.99" cy="77.4" r="1.35"/><circle cx="418.77" cy="70.93" r="1.35"/><circle cx="450.81" cy="91.42" r="1.35"/><circle cx="447.51" cy="94.73" r="1.35"/><circle cx="421.79" cy="49.64" r="1.35"/><circle cx="444.22" cy="73.17" r="1.35"/><circle cx="445.71" cy="99.06" r="1.35"/><circle cx="433.38" cy="79.93" r="1.35"/><circle cx="438.56" cy="57.63" r="1.35"/><circle cx="481.3" cy="76.02" r="1.35"/><circle cx="466.72" cy="79.35" r="1.35"/><circle cx="428.3" cy="72.48" r="1.35"/><circle cx="465.71" cy="61.73" r="1.35"/><circle cx="411.44" cy="70.64" r="1.35"/><circle cx="443.56" cy="63.23" r="1.35"/><circle cx="451.22" cy="97.37" r="1.35"/><circle cx="452.32" cy="85.87" r="1.35"/><circle cx="455.85" cy="95.07" r="1.35"/><circle cx="444.77" cy="66.08" r="1.35"/><circle cx="438.16" cy="69.08" r="1.35"/><circle cx="446.06" cy="70.61" r="1.35"/><circle cx="441.03" cy="59.63" r="1.35"/><circle cx="442.83" cy="85.98" r="1.35"/><circle cx="458.93" cy="85.29" r="1.35"/><circle cx="443.78" cy="64.65" r="1.35"/><circle cx="440.66" cy="58.58" r="1.35"/><circle cx="428.12" cy="88.63" r="1.35"/><circle cx="445.36" cy="62.77" r="1.35"/><circle cx="417.1" cy="103.55" r="1.35"/><circle cx="401.37" cy="78.75" r="1.35"/><circle cx="448.75" cy="83.65" r="1.35"/><circle cx="464.78" cy="103.39" r="1.35"/><circle cx="433.04" cy="81.3" r="1.35"/><circle cx="442.06" cy="87.73" r="1.35"/><circle cx="460.66" cy="92.91" r="1.35"/><circle cx="446.22" cy="63.48" r="1.35"/><circle cx="465.18" cy="102.27" r="1.35"/><circle cx="430.22" cy="82.61" r="1.35"/><circle cx="452.89" cy="102.37" r="1.35"/><circle cx="440.13" cy="53.78" r="1.35"/><circle cx="452.76" cy="64.23" r="1.35"/><circle cx="451.9" cy="87.66" r="1.35"/><circle cx="462.43" cy="69.71" r="1.35"/><circle cx="445.18" cy="78.95" r="1.35"/><circle cx="422.08" cy="60.45" r="1.35"/><circle cx="447.85" cy="87.26" r="1.35"/><circle cx="458.76" cy="96.12" r="1.35"/><circle cx="457.68" cy="99.99" r="1.35"/><circle cx="439.71" cy="73.75" r="1.35"/><circle cx="453.16" cy="103.64" r="1.35"/><circle cx="467.48" cy="88.64" r="1.35"/><circle cx="450.76" cy="69.8" r="1.35"/><circle cx="463.79" cy="81.41" r="1.35"/><circle cx="480.25" cy="78.59" r="1.35"/><circle cx="452.29" cy="76.22" r="1.35"/><circle cx="447.4" cy="59.56" r="1.35"/><circle cx="438.25" cy="100.24" r="1.35"/><circle cx="449.34" cy="64.21" r="1.35"/><circle cx="439.29" cy="79.97" r="1.35"/><circle cx="416.52" cy="62.56" r="1.35"/><circle cx="457.57" cy="101.03" r="1.35"/><circle cx="418.18" cy="86.52" r="1.35"/><circle cx="462.11" cy="96.57" r="1.35"/><circle cx="454.67" cy="79.17" r="1.35"/><circle cx="468.25" cy="75.73" r="1.35"/><circle cx="457.16" cy="87.53" r="1.35"/><circle cx="456.02" cy="92.89" r="1.35"/><circle cx="404.58" cy="72.4" r="1.35"/><circle cx="410.95" cy="36.84" r="1.35"/><circle cx="448.63" cy="80.36" r="1.35"/><circle cx="403.02" cy="41.55" r="1.35"/><circle cx="431.01" cy="84.38" r="1.35"/><circle cx="425.63" cy="70.03" r="1.35"/><circle cx="437.17" cy="72.62" r="1.35"/><circle cx="458.1" cy="59.28" r="1.35"/><circle cx="446" cy="74.53" r="1.35"/><circle cx="402.16" cy="65.38" r="1.35"/><circle cx="461.81" cy="78.75" r="1.35"/><circle cx="465.49" cy="96.66" r="1.35"/><circle cx="444.24" cy="91.97" r="1.35"/><circle cx="453.37" cy="77.21" r="1.35"/><circle cx="456.02" cy="85.9" r="1.35"/><circle cx="402.24" cy="22.68" r="1.35"/><circle cx="451.72" cy="102.14" r="1.35"/><circle cx="462.3" cy="98.72" r="1.35"/><circle cx="438.16" cy="57.02" r="1.35"/><circle cx="468.31" cy="92.77" r="1.35"/><circle cx="453.29" cy="103.43" r="1.35"/><circle cx="466.02" cy="87.8" r="1.35"/><circle cx="443.79" cy="95.92" r="1.35"/><circle cx="424.63" cy="82.4" r="1.35"/><circle cx="449.39" cy="88.54" r="1.35"/><circle cx="454.15" cy="85.1" r="1.35"/><circle cx="466.61" cy="80.54" r="1.35"/><circle cx="479.67" cy="103.47" r="1.35"/><circle cx="465.48" cy="90.08" r="1.35"/><circle cx="462.17" cy="100.38" r="1.35"/><circle cx="460.36" cy="58.65" r="1.35"/><circle cx="441.12" cy="70.12" r="1.35"/><circle cx="464.96" cy="92.83" r="1.35"/><circle cx="442.91" cy="85.08" r="1.35"/><circle cx="436.75" cy="56.77" r="1.35"/><circle cx="403.69" cy="81.95" r="1.35"/><circle cx="478.44" cy="100.67" r="1.35"/><circle cx="449.25" cy="77.83" r="1.35"/><circle cx="437.03" cy="85.64" r="1.35"/><circle cx="431.54" cy="89.96" r="1.35"/><circle cx="471.61" cy="66.87" r="1.35"/><circle cx="450.43" cy="100.4" r="1.35"/><circle cx="440.24" cy="102.48" r="1.35"/><circle cx="450.58" cy="96.18" r="1.35"/><circle cx="440.66" cy="75.72" r="1.35"/><circle cx="471.69" cy="102.58" r="1.35"/><circle cx="443.87" cy="70.96" r="1.35"/><circle cx="466.56" cy="97.02" r="1.35"/><circle cx="445.91" cy="100.65" r="1.35"/><circle cx="448.06" cy="72.39" r="1.35"/><circle cx="450.37" cy="95.19" r="1.35"/><circle cx="452.05" cy="37.32" r="1.35"/><circle cx="444.11" cy="73.97" r="1.35"/><circle cx="455.11" cy="97.64" r="1.35"/><circle cx="424.39" cy="77.06" r="1.35"/><circle cx="441.93" cy="86.07" r="1.35"/><circle cx="414.16" cy="61.12" r="1.35"/><circle cx="460.51" cy="68.22" r="1.35"/><circle cx="453.37" cy="79.23" r="1.35"/><circle cx="402.18" cy="63.81" r="1.35"/><circle cx="445.5" cy="78.43" r="1.35"/><circle cx="440.1" cy="66.77" r="1.35"/><circle cx="403.69" cy="51.92" r="1.35"/><circle cx="437.69" cy="64.13" r="1.35"/><circle cx="443.28" cy="83.71" r="1.35"/><circle cx="448.65" cy="63.17" r="1.35"/><circle cx="443.09" cy="75.68" r="1.35"/><circle cx="456.69" cy="98.85" r="1.35"/><circle cx="462.98" cy="98.22" r="1.35"/><circle cx="432.67" cy="74" r="1.35"/><circle cx="438.69" cy="56.26" r="1.35"/><circle cx="432.55" cy="96.89" r="1.35"/><circle cx="437.96" cy="58.51" r="1.35"/><circle cx="438.87" cy="40.6" r="1.35"/><circle cx="451.24" cy="81.32" r="1.35"/><circle cx="452.1" cy="83.1" r="1.35"/><circle cx="437.14" cy="74.26" r="1.35"/><circle cx="433.03" cy="85.06" r="1.35"/><circle cx="444.87" cy="83.07" r="1.35"/><circle cx="463.52" cy="76.03" r="1.35"/><circle cx="403.1" cy="66.17" r="1.35"/><circle cx="446.59" cy="30.09" r="1.35"/><circle cx="461.08" cy="84.02" r="1.35"/><circle cx="448.37" cy="75.52" r="1.35"/><circle cx="454.89" cy="72.15" r="1.35"/><circle cx="436.73" cy="30.5" r="1.35"/><circle cx="452.2" cy="72.77" r="1.35"/><circle cx="402.15" cy="78.56" r="1.35"/><circle cx="468.64" cy="91.72" r="1.35"/><circle cx="464.67" cy="78.93" r="1.35"/><circle cx="458.64" cy="72.62" r="1.35"/><circle cx="449.58" cy="48.52" r="1.35"/><circle cx="466.61" cy="97.02" r="1.35"/><circle cx="440.45" cy="82.78" r="1.35"/><circle cx="451.44" cy="89.81" r="1.35"/><circle cx="455.45" cy="85.32" r="1.35"/><circle cx="433.96" cy="73.06" r="1.35"/><circle cx="454.37" cy="93.83" r="1.35"/><circle cx="416.41" cy="68.54" r="1.35"/><circle cx="413.36" cy="64.12" r="1.35"/><circle cx="472.41" cy="80.53" r="1.35"/><circle cx="420.5" cy="56.93" r="1.35"/><circle cx="437.49" cy="53.6" r="1.35"/><circle cx="440.97" cy="79.14" r="1.35"/><circle cx="450.8" cy="54.43" r="1.35"/><circle cx="460.28" cy="100.9" r="1.35"/><circle cx="437.4" cy="79.03" r="1.35"/><circle cx="475.18" cy="83" r="1.35"/><circle cx="452.16" cy="72.11" r="1.35"/><circle cx="430.29" cy="80.75" r="1.35"/><circle cx="450.16" cy="79.14" r="1.35"/><circle cx="433.5" cy="60.16" r="1.35"/><circle cx="453.85" cy="82.71" r="1.35"/><circle cx="450.46" cy="94.37" r="1.35"/><circle cx="437.3" cy="49.66" r="1.35"/><circle cx="478.56" cy="70.02" r="1.35"/><circle cx="481.6" cy="71.87" r="1.35"/><circle cx="434.86" cy="93.46" r="1.35"/><circle cx="462.23" cy="67.19" r="1.35"/><circle cx="467.79" cy="41.89" r="1.35"/><circle cx="475" cy="98.2" r="1.35"/><circle cx="452.89" cy="54.03" r="1.35"/><circle cx="454.75" cy="77.54" r="1.35"/><circle cx="473.49" cy="77.41" r="1.35"/><circle cx="443.72" cy="81.99" r="1.35"/><circle cx="450.56" cy="38.63" r="1.35"/><circle cx="434.99" cy="71.51" r="1.35"/><circle cx="446.96" cy="57.22" r="1.35"/><circle cx="454.93" cy="84.79" r="1.35"/><circle cx="442.68" cy="95.52" r="1.35"/></g>
<line x1="399.8" y1="61.8" x2="484" y2="91.4" stroke="#5b93d6" stroke-width="0.9" />
<text x="484.4" y="22.33" font-size="6" text-anchor="end"  stroke="#000" stroke-width="0.12">Spearman</text>
<text x="484.4" y="29.33" font-size="6" text-anchor="end"  stroke="#000" stroke-width="0.12"><tspan font-style="italic">R</tspan> = −0.339</text>
<text x="484.4" y="36.43" font-size="6" text-anchor="end"  stroke="#000" stroke-width="0.12"><tspan font-style="italic">P</tspan> &lt; 0.001</text>
<defs>
<filter id="heWT" x="0" y="0" width="100%" height="100%" color-interpolation-filters="sRGB">
 <feTurbulence type="fractalNoise" baseFrequency="0.3 0.75" numOctaves="3" seed="4" result="n"/>
 <feColorMatrix in="n" type="matrix" values="1.1 0 0 0 0.15  1.2 0 0 0 -0.24  0.9 0.25 0 0 -0.02  0 0 0 0 1" result="base"/>
 <feTurbulence type="fractalNoise" baseFrequency="1.1" numOctaves="1" seed="8" result="n2"/>
 <feColorMatrix in="n2" type="matrix" values="0 0 0 0 0.5  0 0 0 0 0.2  0 0 0 0 0.45  -5 0 0 0 1.8" result="dspots"/>
 <feColorMatrix in="n2" type="matrix" values="0 0 0 0 0.92  0 0 0 0 0.72  0 0 0 0 0.86  0 5 0 0 -3.35" result="wspots"/>
 <feMerge><feMergeNode in="base"/><feMergeNode in="dspots"/><feMergeNode in="wspots"/></feMerge>
</filter>
<filter id="heMU" x="0" y="0" width="100%" height="100%" color-interpolation-filters="sRGB">
 <feTurbulence type="fractalNoise" baseFrequency="0.35 0.7" numOctaves="3" seed="9" result="n"/>
 <feColorMatrix in="n" type="matrix" values="0.95 0 0 0 0.115  1.0 0 0 0 -0.05  0.75 0.15 0 0 0.26  0 0 0 0 1" result="base"/>
 <feTurbulence type="fractalNoise" baseFrequency="1.0" numOctaves="1" seed="12" result="n2"/>
 <feColorMatrix in="n2" type="matrix" values="0 0 0 0 0.33  0 0 0 0 0.2  0 0 0 0 0.45  -5 0 0 0 1.85" result="dspots"/>
 <feColorMatrix in="n2" type="matrix" values="0 0 0 0 0.82  0 0 0 0 0.74  0 0 0 0 0.9  0 5 0 0 -3.35" result="wspots"/>
 <feMerge><feMergeNode in="base"/><feMergeNode in="dspots"/><feMergeNode in="wspots"/></feMerge>
</filter>
<filter id="flWT" x="0" y="0" width="100%" height="100%" color-interpolation-filters="sRGB">
 <feTurbulence type="fractalNoise" baseFrequency="0.9" numOctaves="2" seed="2" result="n"/>
 <feColorMatrix in="n" type="matrix" values="0.12 0 0 0 0.02  0.1 0 0 0 0.01  0.2 0 0 0 0.04  0 0 0 0 1" result="base"/>
 <feColorMatrix in="n" type="matrix" values="0 0 0 0 0.3  0 0 0 0 0.1  0 0 0 0 0.3  0 5 0 0 -3.55" result="rs"/>
 <feMerge><feMergeNode in="base"/><feMergeNode in="rs"/></feMerge>
</filter>
<filter id="flWTi" x="0" y="0" width="100%" height="100%" color-interpolation-filters="sRGB">
 <feTurbulence type="fractalNoise" baseFrequency="0.9" numOctaves="2" seed="7" result="n"/>
 <feColorMatrix in="n" type="matrix" values="0.12 0 0 0 0.03  0.1 0 0 0 0.02  0.2 0 0 0 0.06  0 0 0 0 1" result="base"/>
 <feColorMatrix in="n" type="matrix" values="0 0 0 0 0.5  0 0 0 0 0.18  0 0 0 0 0.42  0 5 0 0 -3.3" result="rs"/>
 <feMerge><feMergeNode in="base"/><feMergeNode in="rs"/></feMerge>
</filter>
<filter id="flMU" x="0" y="0" width="100%" height="100%" color-interpolation-filters="sRGB">
 <feTurbulence type="fractalNoise" baseFrequency="0.9" numOctaves="2" seed="5" result="n"/>
 <feColorMatrix in="n" type="matrix" values="0.1 0 0 0 0.01  0.1 0 0 0 0.005  0.2 0 0 0 0.035  0 0 0 0 1" result="base"/>
 <feColorMatrix in="n" type="matrix" values="0 0 0 0 0.1  0 0 0 0 0.1  0 0 0 0 0.4  0 5 0 0 -3.5" result="rs"/>
 <feMerge><feMergeNode in="base"/><feMergeNode in="rs"/></feMerge>
</filter>
</defs>
<text x="0.9" y="153" font-size="13" font-weight="bold" stroke="#000" stroke-width="0.22">C</text>
<text x="57.3" y="150.26" font-size="7.5" text-anchor="middle" font-weight="bold"  stroke="#000" stroke-width="0.15">IMvigor210</text>
<line x1="36.9" y1="161.6" x2="36.9" y2="254.5" stroke="#000" stroke-width="0.9" />
<line x1="34.4" y1="254.5" x2="36.9" y2="254.5" stroke="#000" stroke-width="0.9" />
<text x="32.8" y="257.2" font-size="7.6" text-anchor="end"  stroke="#000" stroke-width="0.22">0</text>
<line x1="34.4" y1="231.65" x2="36.9" y2="231.65" stroke="#000" stroke-width="0.9" />
<text x="32.8" y="234.35" font-size="7.6" text-anchor="end"  stroke="#000" stroke-width="0.22">25</text>
<line x1="34.4" y1="208.8" x2="36.9" y2="208.8" stroke="#000" stroke-width="0.9" />
<text x="32.8" y="211.5" font-size="7.6" text-anchor="end"  stroke="#000" stroke-width="0.22">50</text>
<line x1="34.4" y1="185.95" x2="36.9" y2="185.95" stroke="#000" stroke-width="0.9" />
<text x="32.8" y="188.65" font-size="7.6" text-anchor="end"  stroke="#000" stroke-width="0.22">75</text>
<line x1="34.4" y1="163.1" x2="36.9" y2="163.1" stroke="#000" stroke-width="0.9" />
<text x="32.8" y="165.8" font-size="7.6" text-anchor="end"  stroke="#000" stroke-width="0.22">100</text>
<line x1="36.9" y1="254.5" x2="83" y2="254.5" stroke="#000" stroke-width="0.9" />
<line x1="49.4" y1="254.5" x2="49.4" y2="256.5" stroke="#000" stroke-width="0.9" />
<line x1="70.1" y1="254.5" x2="70.1" y2="256.5" stroke="#000" stroke-width="0.9" />
<text transform="translate(13.6,201) rotate(-90)" y="2.8" font-size="7.9" text-anchor="middle"  stroke="#000" stroke-width="0.22">Proportion (%)</text>
<rect x="43.2" y="233.84" width="12.5" height="20.66" fill="#a3a3a3" stroke="#1a1a2a" stroke-width="0.9" />
<rect x="43.2" y="191.62" width="12.5" height="42.23" fill="#4f95f0" stroke="#1a1a2a" stroke-width="0.9" />
<rect x="43.2" y="163.1" width="12.5" height="28.52" fill="#f27b7b" stroke="#1a1a2a" stroke-width="0.9" />
<rect x="63.6" y="213.64" width="13" height="40.86" fill="#a3a3a3" stroke="#1a1a2a" stroke-width="0.9" />
<rect x="63.6" y="176.63" width="13" height="37.02" fill="#4f95f0" stroke="#1a1a2a" stroke-width="0.9" />
<rect x="63.6" y="163.1" width="13" height="13.53" fill="#f27b7b" stroke="#1a1a2a" stroke-width="0.9" />
<line x1="46.2" y1="161" x2="72.3" y2="161" stroke="#000" stroke-width="1.1" />
<text x="59.5" y="163.43" font-size="14.32" font-weight="bold" text-anchor="middle" letter-spacing="0" stroke="#000" stroke-width="0.22">*</text>
<text x="50.3" y="263.14" font-size="6.6" text-anchor="middle"  stroke="#000" stroke-width="0.22">WT</text>
<text x="70" y="263.14" font-size="6.6" text-anchor="middle"  stroke="#000" stroke-width="0.22">a<tspan font-style="italic">FGFR3</tspan></text>
<rect x="89.5" y="192.1" width="8.6" height="3.6" fill="#f27b7b" stroke="#333" stroke-width="0.9" />
<text x="102.1" y="196.44" font-size="6.6" fill="#222"  stroke="#222" stroke-width="0.22">Inflammed</text>
<rect x="89.5" y="200.7" width="8.6" height="3.6" fill="#4f95f0" stroke="#333" stroke-width="0.9" />
<text x="102.1" y="205.04" font-size="6.6" fill="#222"  stroke="#222" stroke-width="0.22">Excluded</text>
<rect x="89.5" y="209.3" width="8.6" height="3.6" fill="#a3a3a3" stroke="#333" stroke-width="0.9" />
<text x="102.1" y="213.64" font-size="6.6" fill="#222"  stroke="#222" stroke-width="0.22">Desert</text>
<text x="135" y="152.2" font-size="13" font-weight="bold" stroke="#000" stroke-width="0.22">D</text>
<line x1="147.5" y1="152.3" x2="147.5" y2="201.8" stroke="#222" stroke-width="1" />
<line x1="147.5" y1="204.8" x2="147.5" y2="253.4" stroke="#222" stroke-width="1" />
<svg x="149.7" y="152.2" width="50.1" height="49.5" viewBox="0 0 50.1 49.5"><rect x="-30" y="-30" width="110" height="110" filter="url(#heWT)" transform="rotate(-35 25 25)"/></svg>
<svg x="149.7" y="204.8" width="50.1" height="48.8" viewBox="0 0 50.1 48.8"><rect x="-30" y="-30" width="110" height="110" filter="url(#heMU)" transform="rotate(40 25 25)"/></svg>
<line x1="152.4" y1="198.7" x2="167.9" y2="198.7" stroke="#000" stroke-width="1.6" />
<line x1="152.4" y1="250.6" x2="168.5" y2="250.6" stroke="#000" stroke-width="1.6" />
<text transform="translate(141.1,178.5) rotate(-90)" y="2.48" font-size="7" text-anchor="middle"  stroke="#000" stroke-width="0.22">WT</text>
<text transform="translate(141.1,226) rotate(-90)" y="2.48" font-size="7" text-anchor="middle"  stroke="#000" stroke-width="0.22">a<tspan font-style="italic">FGFR3</tspan></text>
<text x="252.7" y="152.36" font-size="7.5" text-anchor="middle" font-weight="bold"  stroke="#000" stroke-width="0.15">TCGA-BLCA</text>
<line x1="232.3" y1="163" x2="232.3" y2="255.3" stroke="#000" stroke-width="0.9" />
<line x1="229.8" y1="255.3" x2="232.3" y2="255.3" stroke="#000" stroke-width="0.9" />
<text x="228.2" y="258" font-size="7.6" text-anchor="end"  stroke="#000" stroke-width="0.22">0</text>
<line x1="229.8" y1="232.6" x2="232.3" y2="232.6" stroke="#000" stroke-width="0.9" />
<text x="228.2" y="235.3" font-size="7.6" text-anchor="end"  stroke="#000" stroke-width="0.22">25</text>
<line x1="229.8" y1="209.9" x2="232.3" y2="209.9" stroke="#000" stroke-width="0.9" />
<text x="228.2" y="212.6" font-size="7.6" text-anchor="end"  stroke="#000" stroke-width="0.22">50</text>
<line x1="229.8" y1="187.2" x2="232.3" y2="187.2" stroke="#000" stroke-width="0.9" />
<text x="228.2" y="189.9" font-size="7.6" text-anchor="end"  stroke="#000" stroke-width="0.22">75</text>
<line x1="229.8" y1="164.5" x2="232.3" y2="164.5" stroke="#000" stroke-width="0.9" />
<text x="228.2" y="167.2" font-size="7.6" text-anchor="end"  stroke="#000" stroke-width="0.22">100</text>
<line x1="232.3" y1="255.3" x2="277" y2="255.3" stroke="#000" stroke-width="0.9" />
<line x1="245" y1="255.3" x2="245" y2="257.3" stroke="#000" stroke-width="0.9" />
<line x1="266" y1="255.3" x2="266" y2="257.3" stroke="#000" stroke-width="0.9" />
<text transform="translate(209.2,201) rotate(-90)" y="2.8" font-size="7.9" text-anchor="middle"  stroke="#000" stroke-width="0.22">Proportion (%)</text>
<rect x="238.5" y="208.72" width="13" height="46.58" fill="#a3a3a3" stroke="#1a1a2a" stroke-width="0.9" />
<rect x="238.5" y="183.39" width="13" height="25.33" fill="#4f95f0" stroke="#1a1a2a" stroke-width="0.9" />
<rect x="238.5" y="164.5" width="13" height="18.89" fill="#f27b7b" stroke="#1a1a2a" stroke-width="0.9" />
<rect x="259.7" y="192.92" width="12.6" height="62.38" fill="#a3a3a3" stroke="#1a1a2a" stroke-width="0.9" />
<rect x="259.7" y="172.22" width="12.6" height="20.7" fill="#4f95f0" stroke="#1a1a2a" stroke-width="0.9" />
<rect x="259.7" y="164.5" width="12.6" height="7.72" fill="#f27b7b" stroke="#1a1a2a" stroke-width="0.9" />
<line x1="242.3" y1="162.3" x2="268.5" y2="162.3" stroke="#000" stroke-width="1.1" />
<text x="255.5" y="164.93" font-size="14.32" font-weight="bold" text-anchor="middle" letter-spacing="0" stroke="#000" stroke-width="0.22">*</text>
<text x="244.2" y="262.94" font-size="6.6" text-anchor="middle"  stroke="#000" stroke-width="0.22">WT</text>
<text x="267" y="262.94" font-size="6.6" text-anchor="middle"  stroke="#000" stroke-width="0.22">a<tspan font-style="italic">FGFR3</tspan></text>
<rect x="284.2" y="184.2" width="8.6" height="3.6" fill="#f27b7b" stroke="#333" stroke-width="0.9" />
<text x="296.8" y="188.54" font-size="6.6" fill="#222"  stroke="#222" stroke-width="0.22">Inflammed</text>
<rect x="284.2" y="192.9" width="8.6" height="3.6" fill="#4f95f0" stroke="#333" stroke-width="0.9" />
<text x="296.8" y="197.24" font-size="6.6" fill="#222"  stroke="#222" stroke-width="0.22">Excluded</text>
<rect x="284.2" y="201.4" width="8.6" height="3.6" fill="#a3a3a3" stroke="#333" stroke-width="0.9" />
<text x="296.8" y="205.74" font-size="6.6" fill="#222"  stroke="#222" stroke-width="0.22">Desert</text>
<text x="326.1" y="152.4" font-size="13" font-weight="bold" stroke="#000" stroke-width="0.22">E</text>
<rect x="338" y="146.3" width="9.6" height="113.2" fill="#000" />
<text transform="translate(342.9,176.8) rotate(-90)" y="2.77" font-size="7.8" text-anchor="middle" font-weight="bold" fill="#2cb82c"  stroke="#2cb82c" stroke-width="0.15">Granzyme B</text>
<text transform="translate(342.9,210.3) rotate(-90)" y="2.48" font-size="7" text-anchor="middle" font-weight="bold" fill="#b81414"  stroke="#b81414" stroke-width="0.15">CD8</text>
<text transform="translate(342.9,238) rotate(-90)" y="2.52" font-size="7.1" text-anchor="middle" font-weight="bold" fill="#1414a8"  stroke="#1414a8" stroke-width="0.15">DAPI</text>
<rect x="349.7" y="146.3" width="59" height="55.4" filter="url(#flWT)"/>
<rect x="349.7" y="203.5" width="59" height="55.9" filter="url(#flMU)"/>
<rect x="367.6" y="155.2" width="14.3" height="13.4" fill="none" stroke="#e8e8e8" stroke-width="0.9" />
<rect x="378.3" y="170.8" width="30.4" height="30.9" filter="url(#flWTi)"/>
<rect x="378.3" y="170.8" width="30.4" height="30.9" fill="none" stroke="#e8e8e8" stroke-width="0.9" />
<line x1="381.9" y1="155.2" x2="408.7" y2="170.8" stroke="#e8e8e8" stroke-width="0.9" />
<line x1="381.9" y1="168.6" x2="378.3" y2="170.8" stroke="#e8e8e8" stroke-width="0.9" />
<line x1="397" y1="200.3" x2="406" y2="200.3" stroke="#e8e8e8" stroke-width="1.3" />
<text x="352.9" y="155.39" font-size="7" font-weight="bold" fill="#fff"  stroke="#fff" stroke-width="0.15">WT</text>
<rect x="390" y="207.6" width="13.4" height="12.9" fill="none" stroke="#e8e8e8" stroke-width="0.9" />
<rect x="377.4" y="227.7" width="31.3" height="31.7" filter="url(#flMU)"/>
<rect x="377.4" y="227.7" width="31.3" height="31.7" fill="none" stroke="#e8e8e8" stroke-width="0.9" />
<line x1="390" y1="220.5" x2="377.4" y2="227.7" stroke="#e8e8e8" stroke-width="0.9" />
<line x1="403.4" y1="220.5" x2="408.7" y2="227.7" stroke="#e8e8e8" stroke-width="0.9" />
<line x1="396.8" y1="256.6" x2="406" y2="256.6" stroke="#e8e8e8" stroke-width="1.3" />
<text x="351.8" y="211.39" font-size="7" font-weight="bold" fill="#fff" font-style="italic" stroke="#fff" stroke-width="0.15">a<tspan font-style="italic">FGFR3</tspan></text>
<line x1="450.6" y1="158.5" x2="450.6" y2="246.8" stroke="#000" stroke-width="1.3" />
<line x1="446.1" y1="246.8" x2="450.6" y2="246.8" stroke="#000" stroke-width="1.3" />
<text x="444.5" y="249.36" font-size="7.2" text-anchor="end"  stroke="#000" stroke-width="0.22">0</text>
<line x1="446.1" y1="229.24" x2="450.6" y2="229.24" stroke="#000" stroke-width="1.3" />
<text x="444.5" y="231.8" font-size="7.2" text-anchor="end"  stroke="#000" stroke-width="0.22">100</text>
<line x1="446.1" y1="211.68" x2="450.6" y2="211.68" stroke="#000" stroke-width="1.3" />
<text x="444.5" y="214.24" font-size="7.2" text-anchor="end"  stroke="#000" stroke-width="0.22">200</text>
<line x1="446.1" y1="194.12" x2="450.6" y2="194.12" stroke="#000" stroke-width="1.3" />
<text x="444.5" y="196.68" font-size="7.2" text-anchor="end"  stroke="#000" stroke-width="0.22">300</text>
<line x1="446.1" y1="176.56" x2="450.6" y2="176.56" stroke="#000" stroke-width="1.3" />
<text x="444.5" y="179.12" font-size="7.2" text-anchor="end"  stroke="#000" stroke-width="0.22">400</text>
<line x1="446.1" y1="159" x2="450.6" y2="159" stroke="#000" stroke-width="1.3" />
<text x="444.5" y="161.56" font-size="7.2" text-anchor="end"  stroke="#000" stroke-width="0.22">500</text>
<line x1="450.6" y1="246.8" x2="510.5" y2="246.8" stroke="#000" stroke-width="1.3" />
<line x1="468.2" y1="246.8" x2="468.2" y2="249.8" stroke="#000" stroke-width="1.3" />
<line x1="492.5" y1="246.8" x2="492.5" y2="249.8" stroke="#000" stroke-width="1.3" />
<text transform="translate(416.4,202.5) rotate(-90)" y="2.8" font-size="7.9" text-anchor="middle"  stroke="#000" stroke-width="0.22">Count of CD8<tspan baseline-shift="40%" font-size="70%">+</tspan> granzyme B<tspan baseline-shift="40%" font-size="70%">+</tspan></text>
<text transform="translate(427.1,200.9) rotate(-90)" y="2.8" font-size="7.9" text-anchor="middle"  stroke="#000" stroke-width="0.22">cells per field</text>
<line x1="467" y1="159.3" x2="490.7" y2="159.3" stroke="#000" stroke-width="1.8" />
<text x="480.15" y="159.05" font-size="10" font-weight="bold" text-anchor="middle" letter-spacing="1.81" stroke="#000" stroke-width="0.22">***</text>
<g fill="#5a9bea" fill-opacity="1"><circle cx="468.2" cy="223.97" r="1.45"/><circle cx="468.2" cy="243.99" r="1.45"/><circle cx="471.2" cy="241.88" r="1.45"/><circle cx="468.2" cy="219.06" r="1.45"/><circle cx="468.2" cy="238.02" r="1.45"/><circle cx="468.2" cy="231.87" r="1.45"/><circle cx="468.2" cy="161.63" r="1.45"/><circle cx="471.2" cy="230.64" r="1.45"/><circle cx="465.2" cy="243.46" r="1.45"/><circle cx="468.2" cy="215.54" r="1.45"/><circle cx="471.2" cy="234.16" r="1.45"/><circle cx="471.2" cy="245.04" r="1.45"/><circle cx="465.2" cy="236.26" r="1.45"/><circle cx="465.2" cy="240.13" r="1.45"/><circle cx="471.2" cy="214.84" r="1.45"/><circle cx="474.2" cy="242.94" r="1.45"/><circle cx="465.2" cy="217.83" r="1.45"/><circle cx="471.2" cy="218.7" r="1.45"/><circle cx="471.2" cy="238.72" r="1.45"/><circle cx="474.2" cy="237.14" r="1.45"/><circle cx="462.2" cy="241.53" r="1.45"/><circle cx="462.2" cy="245.4" r="1.45"/><circle cx="477.2" cy="240.65" r="1.45"/><circle cx="459.2" cy="242.41" r="1.45"/><circle cx="462.2" cy="235.39" r="1.45"/><circle cx="466.7" cy="229.24" r="1.45"/><circle cx="477.2" cy="244.52" r="1.45"/><circle cx="475.02" cy="239.42" r="1.45"/><circle cx="465.2" cy="233.1" r="1.45"/></g>
<g fill="#f07878" fill-opacity="1"><circle cx="492.5" cy="246.27" r="1.2"/><circle cx="495" cy="245.92" r="1.2"/><circle cx="490" cy="246.8" r="1.2"/><circle cx="497.5" cy="246.27" r="1.2"/><circle cx="487.5" cy="246.8" r="1.2"/><circle cx="500" cy="246.8" r="1.2"/><circle cx="485" cy="246.8" r="1.2"/><circle cx="492.5" cy="241.53" r="1.2"/><circle cx="498.42" cy="246.8" r="1.2"/><circle cx="498.02" cy="246.1" r="1.2"/><circle cx="497.91" cy="246.45" r="1.2"/><circle cx="486.98" cy="246.8" r="1.2"/><circle cx="489.08" cy="246.62" r="1.2"/><circle cx="494.79" cy="246.62" r="1.2"/><circle cx="496.67" cy="246.45" r="1.2"/><circle cx="498.88" cy="246.8" r="1.2"/></g>
<line x1="459.7" y1="233.5" x2="477.3" y2="233.5" stroke="#000" stroke-width="1.1" />
<line x1="464" y1="229.9" x2="472.4" y2="229.9" stroke="#000" stroke-width="0.9" />
<line x1="464" y1="237.3" x2="472.4" y2="237.3" stroke="#000" stroke-width="0.9" />
<line x1="468.2" y1="229.9" x2="468.2" y2="237.3" stroke="#000" stroke-width="0.9" />
<line x1="484" y1="246" x2="501" y2="246" stroke="#000" stroke-width="1" />
<text x="467.1" y="259.3" font-size="7.6" text-anchor="middle"  stroke="#000" stroke-width="0.22">WT</text>
<text x="495" y="259.3" font-size="7.6" text-anchor="middle"  stroke="#000" stroke-width="0.22">a<tspan font-style="italic">FGFR3</tspan></text>
<text x="0.6" y="276" font-size="13" font-weight="bold" stroke="#000" stroke-width="0.22">F</text>
<text x="88.6" y="278.42" font-size="8.5" text-anchor="middle"  stroke="#000" stroke-width="0.22">Nude mice</text>
<line x1="39.1" y1="283" x2="39.1" y2="372.3" stroke="#000" stroke-width="1.3" />
<line x1="35.6" y1="372.3" x2="39.1" y2="372.3" stroke="#000" stroke-width="1.3" />
<text x="34" y="374.89" font-size="7.3" text-anchor="end"  stroke="#000" stroke-width="0.22">0</text>
<line x1="35.6" y1="354.5" x2="39.1" y2="354.5" stroke="#000" stroke-width="1.3" />
<text x="34" y="357.09" font-size="7.3" text-anchor="end"  stroke="#000" stroke-width="0.22">500</text>
<line x1="35.6" y1="336.7" x2="39.1" y2="336.7" stroke="#000" stroke-width="1.3" />
<text x="34" y="339.29" font-size="7.3" text-anchor="end"  stroke="#000" stroke-width="0.22">1,000</text>
<line x1="35.6" y1="318.9" x2="39.1" y2="318.9" stroke="#000" stroke-width="1.3" />
<text x="34" y="321.49" font-size="7.3" text-anchor="end"  stroke="#000" stroke-width="0.22">1,500</text>
<line x1="35.6" y1="301.1" x2="39.1" y2="301.1" stroke="#000" stroke-width="1.3" />
<text x="34" y="303.69" font-size="7.3" text-anchor="end"  stroke="#000" stroke-width="0.22">2,000</text>
<line x1="35.6" y1="283.3" x2="39.1" y2="283.3" stroke="#000" stroke-width="1.3" />
<text x="34" y="285.89" font-size="7.3" text-anchor="end"  stroke="#000" stroke-width="0.22">2,500</text>
<line x1="39.1" y1="372.3" x2="138.5" y2="372.3" stroke="#000" stroke-width="1.3" />
<line x1="49.7" y1="372.3" x2="49.7" y2="375.5" stroke="#000" stroke-width="1.3" />
<line x1="65" y1="372.3" x2="65" y2="375.5" stroke="#000" stroke-width="1.3" />
<line x1="80.3" y1="372.3" x2="80.3" y2="375.5" stroke="#000" stroke-width="1.3" />
<line x1="95.6" y1="372.3" x2="95.6" y2="375.5" stroke="#000" stroke-width="1.3" />
<line x1="110.9" y1="372.3" x2="110.9" y2="375.5" stroke="#000" stroke-width="1.3" />
<line x1="126.2" y1="372.3" x2="126.2" y2="375.5" stroke="#000" stroke-width="1.3" />
<text x="49.7" y="384.1" font-size="7.6" text-anchor="middle"  stroke="#000" stroke-width="0.22">11</text>
<text x="65" y="384.1" font-size="7.6" text-anchor="middle"  stroke="#000" stroke-width="0.22">14</text>
<text x="80.3" y="384.1" font-size="7.6" text-anchor="middle"  stroke="#000" stroke-width="0.22">17</text>
<text x="95.6" y="384.1" font-size="7.6" text-anchor="middle"  stroke="#000" stroke-width="0.22">20</text>
<text x="110.9" y="384.1" font-size="7.6" text-anchor="middle"  stroke="#000" stroke-width="0.22">23</text>
<text x="126.2" y="384.1" font-size="7.6" text-anchor="middle"  stroke="#000" stroke-width="0.22">26</text>
<text x="89" y="394.08" font-size="8.1" text-anchor="middle"  stroke="#000" stroke-width="0.22">Days after tumor inoculation</text>
<text transform="translate(6,327) rotate(-90)" y="2.95" font-size="8.3" text-anchor="middle"  stroke="#000" stroke-width="0.22">Tumor volume (mm<tspan baseline-shift="40%" font-size="70%">3</tspan>)</text>
<line x1="95.6" y1="338.84" x2="95.6" y2="341.68" stroke="#ef7f7f" stroke-width="0.9" />
<line x1="93.4" y1="338.84" x2="97.8" y2="338.84" stroke="#ef7f7f" stroke-width="0.9" />
<line x1="93.4" y1="341.68" x2="97.8" y2="341.68" stroke="#ef7f7f" stroke-width="0.9" />
<line x1="110.9" y1="326.91" x2="110.9" y2="331.89" stroke="#ef7f7f" stroke-width="0.9" />
<line x1="108.7" y1="326.91" x2="113.1" y2="326.91" stroke="#ef7f7f" stroke-width="0.9" />
<line x1="108.7" y1="331.89" x2="113.1" y2="331.89" stroke="#ef7f7f" stroke-width="0.9" />
<line x1="126.2" y1="300.39" x2="126.2" y2="310.36" stroke="#ef7f7f" stroke-width="0.9" />
<line x1="124" y1="300.39" x2="128.4" y2="300.39" stroke="#ef7f7f" stroke-width="0.9" />
<line x1="124" y1="310.36" x2="128.4" y2="310.36" stroke="#ef7f7f" stroke-width="0.9" />
<polyline points="49.7,364.25 65,358.88 80.3,353.89 95.6,340.26 110.9,329.4 126.2,305.37" fill="none" stroke="#ef7f7f" stroke-width="1.5"/>
<circle cx="49.7" cy="364.25" r="2" fill="#ef7f7f"/>
<circle cx="65" cy="358.88" r="2" fill="#ef7f7f"/>
<circle cx="80.3" cy="353.89" r="2" fill="#ef7f7f"/>
<circle cx="95.6" cy="340.26" r="2" fill="#ef7f7f"/>
<circle cx="110.9" cy="329.4" r="2" fill="#ef7f7f"/>
<circle cx="126.2" cy="305.37" r="2" fill="#ef7f7f"/>
<line x1="65" y1="362.08" x2="65" y2="364.22" stroke="#3a7fe0" stroke-width="0.9" />
<line x1="62.8" y1="362.08" x2="67.2" y2="362.08" stroke="#3a7fe0" stroke-width="0.9" />
<line x1="62.8" y1="364.22" x2="67.2" y2="364.22" stroke="#3a7fe0" stroke-width="0.9" />
<line x1="80.3" y1="356.03" x2="80.3" y2="360.3" stroke="#3a7fe0" stroke-width="0.9" />
<line x1="78.1" y1="356.03" x2="82.5" y2="356.03" stroke="#3a7fe0" stroke-width="0.9" />
<line x1="78.1" y1="360.3" x2="82.5" y2="360.3" stroke="#3a7fe0" stroke-width="0.9" />
<line x1="95.6" y1="345.71" x2="95.6" y2="353.89" stroke="#3a7fe0" stroke-width="0.9" />
<line x1="93.4" y1="345.71" x2="97.8" y2="345.71" stroke="#3a7fe0" stroke-width="0.9" />
<line x1="93.4" y1="353.89" x2="97.8" y2="353.89" stroke="#3a7fe0" stroke-width="0.9" />
<line x1="110.9" y1="335.28" x2="110.9" y2="345.96" stroke="#3a7fe0" stroke-width="0.9" />
<line x1="108.7" y1="335.28" x2="113.1" y2="335.28" stroke="#3a7fe0" stroke-width="0.9" />
<line x1="108.7" y1="345.96" x2="113.1" y2="345.96" stroke="#3a7fe0" stroke-width="0.9" />
<line x1="126.2" y1="315.16" x2="126.2" y2="330.47" stroke="#3a7fe0" stroke-width="0.9" />
<line x1="124" y1="315.16" x2="128.4" y2="315.16" stroke="#3a7fe0" stroke-width="0.9" />
<line x1="124" y1="330.47" x2="128.4" y2="330.47" stroke="#3a7fe0" stroke-width="0.9" />
<polyline points="49.7,369.45 65,363.15 80.3,358.17 95.6,349.8 110.9,340.62 126.2,322.82" fill="none" stroke="#3a7fe0" stroke-width="1.5"/>
<circle cx="49.7" cy="369.45" r="2" fill="#3a7fe0"/>
<circle cx="65" cy="363.15" r="2" fill="#3a7fe0"/>
<circle cx="80.3" cy="358.17" r="2" fill="#3a7fe0"/>
<circle cx="95.6" cy="349.8" r="2" fill="#3a7fe0"/>
<circle cx="110.9" cy="340.62" r="2" fill="#3a7fe0"/>
<circle cx="126.2" cy="322.82" r="2" fill="#3a7fe0"/>
<line x1="132.3" y1="303.1" x2="132.3" y2="324.7" stroke="#000" stroke-width="2" />
<text x="139.7" y="315.07" font-size="7.8" text-anchor="middle"  stroke="#000" stroke-width="0.22">ns</text>
<line x1="129.4" y1="273.3" x2="137" y2="273.3" stroke="#3a7fe0" stroke-width="1.2" />
<circle cx="133.2" cy="273.3" r="1.6" fill="#3a7fe0"/>
<text x="139.1" y="276.25" font-size="8.3"  stroke="#000" stroke-width="0.22">WT</text>
<line x1="161.2" y1="273.3" x2="170.4" y2="273.3" stroke="#ef7f7f" stroke-width="1" />
<circle cx="165.8" cy="273.3" r="1.5" fill="#ef7f7f"/>
<text x="172.3" y="276.32" font-size="8.5"  stroke="#000" stroke-width="0.22">m<tspan font-style="italic">Fgfr3</tspan></text>
<text x="238.1" y="280.45" font-size="8.6" text-anchor="middle"  stroke="#000" stroke-width="0.22">C57BL/6</text>
<line x1="189.3" y1="283.3" x2="189.3" y2="373" stroke="#000" stroke-width="1.3" />
<line x1="185.8" y1="373" x2="189.3" y2="373" stroke="#000" stroke-width="1.3" />
<text x="184.2" y="375.59" font-size="7.3" text-anchor="end"  stroke="#000" stroke-width="0.22">0</text>
<line x1="185.8" y1="355.1" x2="189.3" y2="355.1" stroke="#000" stroke-width="1.3" />
<text x="184.2" y="357.69" font-size="7.3" text-anchor="end"  stroke="#000" stroke-width="0.22">500</text>
<line x1="185.8" y1="337.2" x2="189.3" y2="337.2" stroke="#000" stroke-width="1.3" />
<text x="184.2" y="339.79" font-size="7.3" text-anchor="end"  stroke="#000" stroke-width="0.22">1,000</text>
<line x1="185.8" y1="319.3" x2="189.3" y2="319.3" stroke="#000" stroke-width="1.3" />
<text x="184.2" y="321.89" font-size="7.3" text-anchor="end"  stroke="#000" stroke-width="0.22">1,500</text>
<line x1="185.8" y1="301.4" x2="189.3" y2="301.4" stroke="#000" stroke-width="1.3" />
<text x="184.2" y="303.99" font-size="7.3" text-anchor="end"  stroke="#000" stroke-width="0.22">2,000</text>
<line x1="185.8" y1="283.5" x2="189.3" y2="283.5" stroke="#000" stroke-width="1.3" />
<text x="184.2" y="286.09" font-size="7.3" text-anchor="end"  stroke="#000" stroke-width="0.22">2,500</text>
<line x1="189.3" y1="373" x2="287.2" y2="373" stroke="#000" stroke-width="1.3" />
<line x1="195.6" y1="373" x2="195.6" y2="376.2" stroke="#000" stroke-width="1.3" />
<line x1="212.56" y1="373" x2="212.56" y2="376.2" stroke="#000" stroke-width="1.3" />
<line x1="229.52" y1="373" x2="229.52" y2="376.2" stroke="#000" stroke-width="1.3" />
<line x1="246.48" y1="373" x2="246.48" y2="376.2" stroke="#000" stroke-width="1.3" />
<line x1="263.44" y1="373" x2="263.44" y2="376.2" stroke="#000" stroke-width="1.3" />
<line x1="280.39" y1="373" x2="280.39" y2="376.2" stroke="#000" stroke-width="1.3" />
<text x="195.6" y="384.1" font-size="7.6" text-anchor="middle"  stroke="#000" stroke-width="0.22">10</text>
<text x="212.56" y="384.1" font-size="7.6" text-anchor="middle"  stroke="#000" stroke-width="0.22">13</text>
<text x="229.52" y="384.1" font-size="7.6" text-anchor="middle"  stroke="#000" stroke-width="0.22">16</text>
<text x="246.48" y="384.1" font-size="7.6" text-anchor="middle"  stroke="#000" stroke-width="0.22">19</text>
<text x="263.44" y="384.1" font-size="7.6" text-anchor="middle"  stroke="#000" stroke-width="0.22">22</text>
<text x="280.39" y="384.1" font-size="7.6" text-anchor="middle"  stroke="#000" stroke-width="0.22">25</text>
<text x="238" y="394.34" font-size="8" text-anchor="middle"  stroke="#000" stroke-width="0.22">Days after tumor inoculation</text>
<text transform="translate(157.5,321.6) rotate(-90)" y="2.95" font-size="8.3" text-anchor="middle"  stroke="#000" stroke-width="0.22">Tumor volume (mm<tspan baseline-shift="40%" font-size="70%">3</tspan>)</text>
<line x1="212.56" y1="366.91" x2="212.56" y2="368.7" stroke="#ee8c8c" stroke-width="0.9" />
<line x1="210.36" y1="366.91" x2="214.76" y2="366.91" stroke="#ee8c8c" stroke-width="0.9" />
<line x1="210.36" y1="368.7" x2="214.76" y2="368.7" stroke="#ee8c8c" stroke-width="0.9" />
<line x1="229.52" y1="359.75" x2="229.52" y2="361.9" stroke="#ee8c8c" stroke-width="0.9" />
<line x1="227.32" y1="359.75" x2="231.72" y2="359.75" stroke="#ee8c8c" stroke-width="0.9" />
<line x1="227.32" y1="361.9" x2="231.72" y2="361.9" stroke="#ee8c8c" stroke-width="0.9" />
<line x1="246.48" y1="347.94" x2="246.48" y2="350.8" stroke="#ee8c8c" stroke-width="0.9" />
<line x1="244.28" y1="347.94" x2="248.68" y2="347.94" stroke="#ee8c8c" stroke-width="0.9" />
<line x1="244.28" y1="350.8" x2="248.68" y2="350.8" stroke="#ee8c8c" stroke-width="0.9" />
<line x1="263.44" y1="331.29" x2="263.44" y2="338.81" stroke="#ee8c8c" stroke-width="0.9" />
<line x1="261.24" y1="331.29" x2="265.64" y2="331.29" stroke="#ee8c8c" stroke-width="0.9" />
<line x1="261.24" y1="338.81" x2="265.64" y2="338.81" stroke="#ee8c8c" stroke-width="0.9" />
<line x1="280.39" y1="309.1" x2="280.39" y2="327" stroke="#ee8c8c" stroke-width="0.9" />
<line x1="278.19" y1="309.1" x2="282.59" y2="309.1" stroke="#ee8c8c" stroke-width="0.9" />
<line x1="278.19" y1="327" x2="282.59" y2="327" stroke="#ee8c8c" stroke-width="0.9" />
<polyline points="195.6,371.93 212.56,367.81 229.52,360.83 246.48,349.37 263.44,335.05 280.39,318.05" fill="none" stroke="#ee8c8c" stroke-width="1"/>
<rect x="193.9" y="370.23" width="3.4" height="3.4" fill="#ee8c8c"/>
<rect x="210.86" y="366.11" width="3.4" height="3.4" fill="#ee8c8c"/>
<rect x="227.82" y="359.13" width="3.4" height="3.4" fill="#ee8c8c"/>
<rect x="244.78" y="347.67" width="3.4" height="3.4" fill="#ee8c8c"/>
<rect x="261.74" y="333.35" width="3.4" height="3.4" fill="#ee8c8c"/>
<rect x="278.69" y="316.35" width="3.4" height="3.4" fill="#ee8c8c"/>
<line x1="229.52" y1="369.06" x2="229.52" y2="369.78" stroke="#3a7fe0" stroke-width="0.9" />
<line x1="227.32" y1="369.06" x2="231.72" y2="369.06" stroke="#3a7fe0" stroke-width="0.9" />
<line x1="227.32" y1="369.78" x2="231.72" y2="369.78" stroke="#3a7fe0" stroke-width="0.9" />
<line x1="246.48" y1="363.98" x2="246.48" y2="365.05" stroke="#3a7fe0" stroke-width="0.9" />
<line x1="244.28" y1="363.98" x2="248.68" y2="363.98" stroke="#3a7fe0" stroke-width="0.9" />
<line x1="244.28" y1="365.05" x2="248.68" y2="365.05" stroke="#3a7fe0" stroke-width="0.9" />
<line x1="263.44" y1="359.5" x2="263.44" y2="361.29" stroke="#3a7fe0" stroke-width="0.9" />
<line x1="261.24" y1="359.5" x2="265.64" y2="359.5" stroke="#3a7fe0" stroke-width="0.9" />
<line x1="261.24" y1="361.29" x2="265.64" y2="361.29" stroke="#3a7fe0" stroke-width="0.9" />
<line x1="280.39" y1="354.99" x2="280.39" y2="357" stroke="#3a7fe0" stroke-width="0.9" />
<line x1="278.19" y1="354.99" x2="282.59" y2="354.99" stroke="#3a7fe0" stroke-width="0.9" />
<line x1="278.19" y1="357" x2="282.59" y2="357" stroke="#3a7fe0" stroke-width="0.9" />
<polyline points="195.6,372.28 212.56,371.57 229.52,369.42 246.48,364.52 263.44,360.4 280.39,356" fill="none" stroke="#3a7fe0" stroke-width="1.1"/>
<circle cx="195.6" cy="372.28" r="1.7" fill="#3a7fe0"/>
<circle cx="212.56" cy="371.57" r="1.7" fill="#3a7fe0"/>
<circle cx="229.52" cy="369.42" r="1.7" fill="#3a7fe0"/>
<circle cx="246.48" cy="364.52" r="1.7" fill="#3a7fe0"/>
<circle cx="263.44" cy="360.4" r="1.7" fill="#3a7fe0"/>
<circle cx="280.39" cy="356" r="1.7" fill="#3a7fe0"/>
<line x1="286.8" y1="315.1" x2="286.8" y2="357.1" stroke="#000" stroke-width="2" />
<text x="295.72" y="342.82" font-size="13.51" font-weight="bold" text-anchor="middle" letter-spacing="1.24" stroke="#000" stroke-width="0.22">**</text>
<text x="305.1" y="276.3" font-size="13" font-weight="bold" stroke="#000" stroke-width="0.22">G</text>
<text x="363.2" y="278.31" font-size="8.2" text-anchor="middle"  stroke="#000" stroke-width="0.22">Nude mice</text>
<text x="365.4" y="284.88" font-size="7" text-anchor="middle"  stroke="#000" stroke-width="0.22">ns</text>
<line x1="350.4" y1="288.1" x2="377.8" y2="288.1" stroke="#000" stroke-width="1.6" />
<line x1="336.6" y1="290.3" x2="336.6" y2="373.1" stroke="#000" stroke-width="1.3" />
<line x1="333.1" y1="373.1" x2="336.6" y2="373.1" stroke="#000" stroke-width="1.3" />
<text x="331.5" y="375.76" font-size="7.5" text-anchor="end"  stroke="#000" stroke-width="0.22">0.0</text>
<line x1="333.1" y1="356.64" x2="336.6" y2="356.64" stroke="#000" stroke-width="1.3" />
<text x="331.5" y="359.3" font-size="7.5" text-anchor="end"  stroke="#000" stroke-width="0.22">0.5</text>
<line x1="333.1" y1="340.18" x2="336.6" y2="340.18" stroke="#000" stroke-width="1.3" />
<text x="331.5" y="342.84" font-size="7.5" text-anchor="end"  stroke="#000" stroke-width="0.22">1.0</text>
<line x1="333.1" y1="323.72" x2="336.6" y2="323.72" stroke="#000" stroke-width="1.3" />
<text x="331.5" y="326.38" font-size="7.5" text-anchor="end"  stroke="#000" stroke-width="0.22">1.5</text>
<line x1="333.1" y1="307.26" x2="336.6" y2="307.26" stroke="#000" stroke-width="1.3" />
<text x="331.5" y="309.92" font-size="7.5" text-anchor="end"  stroke="#000" stroke-width="0.22">2.0</text>
<line x1="333.1" y1="290.8" x2="336.6" y2="290.8" stroke="#000" stroke-width="1.3" />
<text x="331.5" y="293.46" font-size="7.5" text-anchor="end"  stroke="#000" stroke-width="0.22">2.5</text>
<line x1="336.6" y1="373.1" x2="391.6" y2="373.1" stroke="#000" stroke-width="1.3" />
<line x1="352" y1="373.1" x2="352" y2="375.9" stroke="#000" stroke-width="1.3" />
<line x1="375.7" y1="373.1" x2="375.7" y2="375.9" stroke="#000" stroke-width="1.3" />
<line x1="351.95" y1="313.51" x2="351.95" y2="306.93" stroke="#000" stroke-width="1" />
<line x1="347.95" y1="306.93" x2="355.95" y2="306.93" stroke="#000" stroke-width="1" />
<rect x="344.7" y="313.51" width="14.5" height="59.59" fill="#5096f5" stroke="#000" stroke-width="1.8" />
<line x1="375.95" y1="301.99" x2="375.95" y2="299.03" stroke="#000" stroke-width="1" />
<line x1="371.95" y1="299.03" x2="379.95" y2="299.03" stroke="#000" stroke-width="1" />
<rect x="369.2" y="301.99" width="13.5" height="71.11" fill="#fa8080" stroke="#000" stroke-width="1.8" />
<text transform="translate(354.5,379.4) rotate(-45)" text-anchor="end" font-size="7.5" y="2.66" stroke="#000" stroke-width="0.22">WT</text>
<text transform="translate(378.2,379.4) rotate(-45)" text-anchor="end" font-size="7.5" y="2.66" stroke="#000" stroke-width="0.22">m<tspan font-style="italic">Fgfr3</tspan></text>
<text transform="translate(312.8,329.4) rotate(-90)" y="2.91" font-size="8.2" text-anchor="middle"  stroke="#000" stroke-width="0.22">Tumor weight (g)</text>
<text x="461" y="280.31" font-size="8.2" text-anchor="middle"  stroke="#000" stroke-width="0.22">C57BL/6</text>
<text x="462" y="290.06" font-size="10.81" font-weight="bold" text-anchor="middle" letter-spacing="0" stroke="#000" stroke-width="0.22">*</text>
<line x1="448" y1="289" x2="476" y2="289" stroke="#000" stroke-width="1.9" />
<line x1="435.4" y1="289.3" x2="435.4" y2="373.1" stroke="#000" stroke-width="1.3" />
<line x1="431.9" y1="373.1" x2="435.4" y2="373.1" stroke="#000" stroke-width="1.3" />
<text x="430.3" y="375.76" font-size="7.5" text-anchor="end"  stroke="#000" stroke-width="0.22">0.0</text>
<line x1="431.9" y1="356.44" x2="435.4" y2="356.44" stroke="#000" stroke-width="1.3" />
<text x="430.3" y="359.1" font-size="7.5" text-anchor="end"  stroke="#000" stroke-width="0.22">0.5</text>
<line x1="431.9" y1="339.78" x2="435.4" y2="339.78" stroke="#000" stroke-width="1.3" />
<text x="430.3" y="342.44" font-size="7.5" text-anchor="end"  stroke="#000" stroke-width="0.22">1.0</text>
<line x1="431.9" y1="323.12" x2="435.4" y2="323.12" stroke="#000" stroke-width="1.3" />
<text x="430.3" y="325.78" font-size="7.5" text-anchor="end"  stroke="#000" stroke-width="0.22">1.5</text>
<line x1="431.9" y1="306.46" x2="435.4" y2="306.46" stroke="#000" stroke-width="1.3" />
<text x="430.3" y="309.12" font-size="7.5" text-anchor="end"  stroke="#000" stroke-width="0.22">2.0</text>
<line x1="431.9" y1="289.8" x2="435.4" y2="289.8" stroke="#000" stroke-width="1.3" />
<text x="430.3" y="292.46" font-size="7.5" text-anchor="end"  stroke="#000" stroke-width="0.22">2.5</text>
<line x1="435.4" y1="373.1" x2="491.6" y2="373.1" stroke="#000" stroke-width="1.3" />
<line x1="451.3" y1="373.1" x2="451.3" y2="375.9" stroke="#000" stroke-width="1.3" />
<line x1="475" y1="373.1" x2="475" y2="375.9" stroke="#000" stroke-width="1.3" />
<line x1="451.25" y1="350.11" x2="451.25" y2="348.44" stroke="#000" stroke-width="1" />
<line x1="447.25" y1="348.44" x2="455.25" y2="348.44" stroke="#000" stroke-width="1" />
<rect x="444.1" y="350.11" width="14.3" height="22.99" fill="#5096f5" stroke="#000" stroke-width="1.8" />
<line x1="474.8" y1="327.45" x2="474.8" y2="319.45" stroke="#000" stroke-width="1" />
<line x1="470.8" y1="319.45" x2="478.8" y2="319.45" stroke="#000" stroke-width="1" />
<rect x="467.8" y="327.45" width="14" height="45.65" fill="#fa8080" stroke="#000" stroke-width="1.8" />
<text transform="translate(453.8,379.4) rotate(-45)" text-anchor="end" font-size="7.5" y="2.66" stroke="#000" stroke-width="0.22">WT</text>
<text transform="translate(477.5,379.4) rotate(-45)" text-anchor="end" font-size="7.5" y="2.66" stroke="#000" stroke-width="0.22">m<tspan font-style="italic">Fgfr3</tspan></text>
<text transform="translate(411.3,328.7) rotate(-90)" y="2.91" font-size="8.2" text-anchor="middle"  stroke="#000" stroke-width="0.22">Tumor weight (g)</text>
<defs><filter id="dblur" x="-20%" y="-20%" width="140%" height="140%"><feGaussianBlur stdDeviation="1.0"/></filter></defs>
<text x="0.6" y="411.7" font-size="13" font-weight="bold" stroke="#000" stroke-width="0.22">H</text>
<clipPath id="hwt"><path d="M36.8,474.1 C36.98,472.95 37.4,471.85 38.9,470.6 C40.4,469.35 43.48,467.75 45.8,466.6 C48.12,465.45 50.68,464.67 52.8,463.7 C54.92,462.73 56.58,461.67 58.5,460.8 C60.42,459.93 63.13,459.75 64.3,458.5 C65.47,457.25 65.12,454.93 65.5,453.3 C65.88,451.67 65.83,450.05 66.6,448.7 C67.37,447.35 68.57,446.17 70.1,445.2 C71.63,444.23 73.78,443.57 75.8,442.9 C77.82,442.23 80.55,441.2 82.2,441.2 C83.85,441.2 85.03,441.85 85.7,442.9 C86.37,443.95 86.4,445.77 86.2,447.5 C86,449.23 85.07,451.57 84.5,453.3 C83.93,455.03 82.52,456.65 82.8,457.9 C83.08,459.15 85.43,459.45 86.2,460.8 C86.97,462.15 87.3,463.78 87.4,466 C87.5,468.22 87.38,471.98 86.8,474.1 C86.22,476.22 85.73,477.65 83.9,478.7 C82.07,479.75 78.68,479.92 75.8,480.4 C72.92,480.88 69.67,481.22 66.6,481.6 C63.53,481.98 60.28,482.52 57.4,482.7 C54.52,482.88 51.8,483.08 49.3,482.7 C46.8,482.32 44.32,481.27 42.4,480.4 C40.48,479.53 38.73,478.55 37.8,477.5 C36.87,476.45 36.62,475.25 36.8,474.1Z"/></clipPath>
<path d="M36.8,474.1 C36.98,472.95 37.4,471.85 38.9,470.6 C40.4,469.35 43.48,467.75 45.8,466.6 C48.12,465.45 50.68,464.67 52.8,463.7 C54.92,462.73 56.58,461.67 58.5,460.8 C60.42,459.93 63.13,459.75 64.3,458.5 C65.47,457.25 65.12,454.93 65.5,453.3 C65.88,451.67 65.83,450.05 66.6,448.7 C67.37,447.35 68.57,446.17 70.1,445.2 C71.63,444.23 73.78,443.57 75.8,442.9 C77.82,442.23 80.55,441.2 82.2,441.2 C83.85,441.2 85.03,441.85 85.7,442.9 C86.37,443.95 86.4,445.77 86.2,447.5 C86,449.23 85.07,451.57 84.5,453.3 C83.93,455.03 82.52,456.65 82.8,457.9 C83.08,459.15 85.43,459.45 86.2,460.8 C86.97,462.15 87.3,463.78 87.4,466 C87.5,468.22 87.38,471.98 86.8,474.1 C86.22,476.22 85.73,477.65 83.9,478.7 C82.07,479.75 78.68,479.92 75.8,480.4 C72.92,480.88 69.67,481.22 66.6,481.6 C63.53,481.98 60.28,482.52 57.4,482.7 C54.52,482.88 51.8,483.08 49.3,482.7 C46.8,482.32 44.32,481.27 42.4,480.4 C40.48,479.53 38.73,478.55 37.8,477.5 C36.87,476.45 36.62,475.25 36.8,474.1Z" fill="#0a26e6"/>
<g clip-path="url(#hwt)" filter="url(#dblur)">
<ellipse cx="64" cy="471" rx="21" ry="8.6" fill="#1e8cff" transform="rotate(-14 64 471)"/>
<ellipse cx="80.5" cy="469.5" rx="6" ry="8.2" fill="#1ea4f8" transform="rotate(0 80.5 469.5)"/>
<ellipse cx="63" cy="470.6" rx="16" ry="7.2" fill="#18d2f8" transform="rotate(-14 63 470.6)"/>
<ellipse cx="61.8" cy="470.6" rx="11.5" ry="6.8" fill="#44d850" transform="rotate(-20 61.8 470.6)"/>
<ellipse cx="61.4" cy="470.4" rx="6.6" ry="4.6" fill="#eef020" transform="rotate(-25 61.4 470.4)"/>
<ellipse cx="61.4" cy="470.4" rx="4" ry="2.9" fill="#ff9800" transform="rotate(-25 61.4 470.4)"/>
<ellipse cx="61.4" cy="470.4" rx="2.4" ry="1.7" fill="#f02000" transform="rotate(-25 61.4 470.4)"/>
<ellipse cx="78" cy="449" rx="7" ry="6" fill="#1e8cff" transform="rotate(-20 78 449)"/>
<ellipse cx="78.1" cy="449" rx="5" ry="4.2" fill="#18d2f8" transform="rotate(-20 78.1 449)"/>
<ellipse cx="78.2" cy="448.9" rx="3.4" ry="2.9" fill="#44d850" transform="rotate(-20 78.2 448.9)"/>
<ellipse cx="78.2" cy="448.9" rx="2" ry="1.7" fill="#eef020" transform="rotate(-20 78.2 448.9)"/>
<ellipse cx="78.2" cy="448.9" rx="1" ry="0.9" fill="#ff9800" transform="rotate(0 78.2 448.9)"/>
</g>
<text x="69.1" y="412.22" font-size="8.8" text-anchor="middle" font-weight="bold"  stroke="#000" stroke-width="0.15">WT</text>
<line x1="25.4" y1="414.6" x2="109.5" y2="414.6" stroke="#3c3c3c" stroke-width="1" />
<rect x="25.9" y="419.5" width="83.2" height="83.5" fill="none" stroke="#3c3c3c" stroke-width="1.1" />
<line x1="75.6" y1="419.5" x2="75.6" y2="503" stroke="#3c3c3c" stroke-width="0.9" />
<line x1="25.9" y1="458.8" x2="109.1" y2="458.8" stroke="#3c3c3c" stroke-width="0.9" />
<text x="105" y="430.85" font-size="8.3" text-anchor="end" font-weight="bold"  stroke="#000" stroke-width="0.15">16.8</text>
<clipPath id="hmu"><path d="M126.9,476.4 C127.47,475.15 129.38,473.33 131.5,471.8 C133.62,470.27 136.72,468.55 139.6,467.2 C142.48,465.85 145.92,464.77 148.8,463.7 C151.68,462.63 154.68,461.57 156.9,460.8 C159.12,460.03 161.33,460.07 162.1,459.1 C162.87,458.13 161.68,456.35 161.5,455 C161.32,453.65 160.7,452.33 161,451 C161.3,449.67 162.05,447.97 163.3,447 C164.55,446.03 166.68,445.4 168.5,445.2 C170.32,445 172.95,445.22 174.2,445.8 C175.45,446.38 176,447.45 176,448.7 C176,449.95 174.98,451.67 174.2,453.3 C173.42,454.93 171.1,456.97 171.3,458.5 C171.5,460.03 174.43,460.87 175.4,462.5 C176.37,464.13 176.82,466.18 177.1,468.3 C177.38,470.42 177.58,473.18 177.1,475.2 C176.62,477.22 176.02,479.05 174.2,480.4 C172.38,481.75 169.47,482.62 166.2,483.3 C162.93,483.98 158.45,484.4 154.6,484.5 C150.75,484.6 146.57,484.38 143.1,483.9 C139.63,483.42 136.3,482.37 133.8,481.6 C131.3,480.83 129.25,480.17 128.1,479.3 C126.95,478.43 126.33,477.65 126.9,476.4Z"/></clipPath>
<path d="M126.9,476.4 C127.47,475.15 129.38,473.33 131.5,471.8 C133.62,470.27 136.72,468.55 139.6,467.2 C142.48,465.85 145.92,464.77 148.8,463.7 C151.68,462.63 154.68,461.57 156.9,460.8 C159.12,460.03 161.33,460.07 162.1,459.1 C162.87,458.13 161.68,456.35 161.5,455 C161.32,453.65 160.7,452.33 161,451 C161.3,449.67 162.05,447.97 163.3,447 C164.55,446.03 166.68,445.4 168.5,445.2 C170.32,445 172.95,445.22 174.2,445.8 C175.45,446.38 176,447.45 176,448.7 C176,449.95 174.98,451.67 174.2,453.3 C173.42,454.93 171.1,456.97 171.3,458.5 C171.5,460.03 174.43,460.87 175.4,462.5 C176.37,464.13 176.82,466.18 177.1,468.3 C177.38,470.42 177.58,473.18 177.1,475.2 C176.62,477.22 176.02,479.05 174.2,480.4 C172.38,481.75 169.47,482.62 166.2,483.3 C162.93,483.98 158.45,484.4 154.6,484.5 C150.75,484.6 146.57,484.38 143.1,483.9 C139.63,483.42 136.3,482.37 133.8,481.6 C131.3,480.83 129.25,480.17 128.1,479.3 C126.95,478.43 126.33,477.65 126.9,476.4Z" fill="#0a26e6"/>
<g clip-path="url(#hmu)" filter="url(#dblur)">
<ellipse cx="151" cy="473.5" rx="20" ry="8.5" fill="#1e8cff" transform="rotate(-14 151 473.5)"/>
<ellipse cx="166.5" cy="473" rx="7" ry="8" fill="#1ea4f8" transform="rotate(0 166.5 473)"/>
<ellipse cx="149" cy="473.8" rx="14.5" ry="7" fill="#18d2f8" transform="rotate(-16 149 473.8)"/>
<ellipse cx="147.8" cy="473.8" rx="10" ry="6" fill="#44d850" transform="rotate(-22 147.8 473.8)"/>
<ellipse cx="147.1" cy="473.5" rx="6" ry="4.2" fill="#eef020" transform="rotate(-30 147.1 473.5)"/>
<ellipse cx="147.1" cy="473.5" rx="4" ry="2.9" fill="#ff9800" transform="rotate(-30 147.1 473.5)"/>
<ellipse cx="147.1" cy="473.5" rx="2.5" ry="1.8" fill="#f02000" transform="rotate(-30 147.1 473.5)"/>
<ellipse cx="166.7" cy="472.9" rx="3.6" ry="4.6" fill="#44d850" transform="rotate(0 166.7 472.9)"/>
<ellipse cx="168.5" cy="449.3" rx="5.5" ry="3.8" fill="#1e8cff" transform="rotate(-20 168.5 449.3)"/>
<ellipse cx="168.8" cy="449.3" rx="2.6" ry="2" fill="#40b0ff" transform="rotate(-20 168.8 449.3)"/>
</g>
<text x="157.5" y="412.22" font-size="8.8" text-anchor="middle" font-weight="bold"  stroke="#000" stroke-width="0.15">m<tspan font-style="italic">Fgfr3</tspan></text>
<line x1="112.8" y1="414.6" x2="196.9" y2="414.6" stroke="#3c3c3c" stroke-width="1" />
<rect x="113.3" y="419.5" width="83.2" height="83.5" fill="none" stroke="#3c3c3c" stroke-width="1.1" />
<line x1="162.6" y1="419.5" x2="162.6" y2="503" stroke="#3c3c3c" stroke-width="0.9" />
<line x1="113.3" y1="458.8" x2="196.5" y2="458.8" stroke="#3c3c3c" stroke-width="0.9" />
<text x="191.8" y="430.85" font-size="8.3" text-anchor="end" font-weight="bold"  stroke="#000" stroke-width="0.15">4.41</text>
<line x1="18.8" y1="419" x2="18.8" y2="486.5" stroke="#3c3c3c" stroke-width="1" />
<text transform="translate(18.8,495.3) rotate(-90)" y="2.77" font-size="7.8" text-anchor="middle" font-weight="bold"  stroke="#000" stroke-width="0.15">CD8</text>
<text x="24" y="511.44" font-size="8" font-weight="bold"  stroke="#000" stroke-width="0.15">CD3</text>
<line x1="41.6" y1="508.4" x2="196.9" y2="508.4" stroke="#3c3c3c" stroke-width="1" />
<line x1="233.1" y1="410" x2="233.1" y2="502.8" stroke="#000" stroke-width="1.3" />
<line x1="229.6" y1="502.8" x2="233.1" y2="502.8" stroke="#000" stroke-width="1.3" />
<text x="228" y="505.36" font-size="7.2" text-anchor="end"  stroke="#000" stroke-width="0.22">0</text>
<line x1="229.6" y1="479.73" x2="233.1" y2="479.73" stroke="#000" stroke-width="1.3" />
<text x="228" y="482.29" font-size="7.2" text-anchor="end"  stroke="#000" stroke-width="0.22">5</text>
<line x1="229.6" y1="456.66" x2="233.1" y2="456.66" stroke="#000" stroke-width="1.3" />
<text x="228" y="459.22" font-size="7.2" text-anchor="end"  stroke="#000" stroke-width="0.22">10</text>
<line x1="229.6" y1="433.59" x2="233.1" y2="433.59" stroke="#000" stroke-width="1.3" />
<text x="228" y="436.15" font-size="7.2" text-anchor="end"  stroke="#000" stroke-width="0.22">15</text>
<line x1="229.6" y1="410.52" x2="233.1" y2="410.52" stroke="#000" stroke-width="1.3" />
<text x="228" y="413.08" font-size="7.2" text-anchor="end"  stroke="#000" stroke-width="0.22">20</text>
<line x1="233.1" y1="502.8" x2="294.6" y2="502.8" stroke="#000" stroke-width="1.3" />
<line x1="251" y1="502.8" x2="251" y2="505.6" stroke="#000" stroke-width="1.3" />
<line x1="276.9" y1="502.8" x2="276.9" y2="505.6" stroke="#000" stroke-width="1.3" />
<line x1="251.15" y1="434.19" x2="251.15" y2="427.82" stroke="#000" stroke-width="1" />
<line x1="247.15" y1="427.82" x2="255.15" y2="427.82" stroke="#000" stroke-width="1" />
<rect x="243.6" y="434.19" width="15.1" height="68.61" fill="#5096f5" stroke="#000" stroke-width="1.8" />
<line x1="277.4" y1="480.28" x2="277.4" y2="478.39" stroke="#000" stroke-width="1" />
<line x1="273.4" y1="478.39" x2="281.4" y2="478.39" stroke="#000" stroke-width="1" />
<rect x="270.1" y="480.28" width="14.6" height="22.52" fill="#fa8080" stroke="#000" stroke-width="1.8" />
<line x1="249" y1="415.8" x2="274.6" y2="415.8" stroke="#000" stroke-width="1.9" />
<text x="262.97" y="414.36" font-size="10.81" font-weight="bold" text-anchor="middle" letter-spacing="1.64" stroke="#000" stroke-width="0.22">***</text>
<text transform="translate(253.6,507.8) rotate(-45)" text-anchor="end" font-size="7.6" y="2.7" stroke="#000" stroke-width="0.22">WT</text>
<text transform="translate(279.5,507.8) rotate(-45)" text-anchor="end" font-size="7.6" y="2.7" stroke="#000" stroke-width="0.22">m<tspan font-style="italic">Fgfr3</tspan></text>
<text transform="translate(204.8,454.8) rotate(-90)" y="2.34" font-size="6.6" text-anchor="middle"  stroke="#000" stroke-width="0.22">% of CD3<tspan baseline-shift="40%" font-size="70%">+</tspan>CD8<tspan baseline-shift="40%" font-size="70%">+</tspan> cells</text>
<text transform="translate(212.5,452.3) rotate(-90)" y="2.34" font-size="6.6" text-anchor="middle"  stroke="#000" stroke-width="0.22">within CD45<tspan baseline-shift="40%" font-size="70%">+</tspan> cells</text>
<text x="303.4" y="412" font-size="13" font-weight="bold" stroke="#000" stroke-width="0.22">I</text>
<line x1="312.3" y1="409.5" x2="312.3" y2="481.1" stroke="#4a4a4a" stroke-width="1" />
<text transform="translate(312.3,492) rotate(-90)" y="2.59" font-size="7.3" text-anchor="middle" font-weight="bold"  stroke="#000" stroke-width="0.15">Count</text>
<path d="M338,454.5 C343,453 346,449 349,443 C351,439 352.5,436.5 353.5,436.2 C355,436.5 357,441 358.5,446 C359.5,450 360.5,453.5 363,454.5 Z" fill="#8fc0f2" stroke="#4a90e2" stroke-width="0.7"/>
<path d="M340,500 C345,499 348,497 350,495.5 C352,494 353.5,493.6 355,493.8 C356.5,494.2 357.5,497 358.5,499 C359,499.8 360,500 361,500 Z" fill="#f6b0b0" stroke="#f09090" stroke-width="0.5"/>
<line x1="320.9" y1="454.5" x2="409.4" y2="454.5" stroke="#7fb2ec" stroke-width="1" />
<rect x="320.9" y="408.8" width="88.5" height="91.2" fill="none" stroke="#4a4a4a" stroke-width="1" />
<line x1="359.2" y1="408.8" x2="359.2" y2="500" stroke="#4a4a4a" stroke-width="0.9" />
<text x="326" y="431.48" font-size="8.4"  stroke="#000" stroke-width="0.22">WT</text>
<text x="405.3" y="431.48" font-size="8.4" text-anchor="end" font-weight="bold"  stroke="#000" stroke-width="0.15">4.07</text>
<text x="325" y="480.44" font-size="8"  stroke="#000" stroke-width="0.22">m<tspan font-style="italic">Fgfr3</tspan></text>
<text x="405.3" y="480.58" font-size="8.4" text-anchor="end" font-weight="bold"  stroke="#000" stroke-width="0.15">1.09</text>
<text x="320.4" y="509.56" font-size="7.5" font-weight="bold"  stroke="#000" stroke-width="0.15">Granzyme B</text>
<line x1="364.6" y1="506.9" x2="409.2" y2="506.9" stroke="#4a4a4a" stroke-width="1" />
<line x1="444.8" y1="409.8" x2="444.8" y2="505.3" stroke="#000" stroke-width="1.3" />
<line x1="441.3" y1="505.3" x2="444.8" y2="505.3" stroke="#000" stroke-width="1.3" />
<text x="439.7" y="507.86" font-size="7.2" text-anchor="end"  stroke="#000" stroke-width="0.22">0</text>
<line x1="441.3" y1="481.55" x2="444.8" y2="481.55" stroke="#000" stroke-width="1.3" />
<text x="439.7" y="484.11" font-size="7.2" text-anchor="end"  stroke="#000" stroke-width="0.22">1</text>
<line x1="441.3" y1="457.8" x2="444.8" y2="457.8" stroke="#000" stroke-width="1.3" />
<text x="439.7" y="460.36" font-size="7.2" text-anchor="end"  stroke="#000" stroke-width="0.22">2</text>
<line x1="441.3" y1="434.05" x2="444.8" y2="434.05" stroke="#000" stroke-width="1.3" />
<text x="439.7" y="436.61" font-size="7.2" text-anchor="end"  stroke="#000" stroke-width="0.22">3</text>
<line x1="441.3" y1="410.3" x2="444.8" y2="410.3" stroke="#000" stroke-width="1.3" />
<text x="439.7" y="412.86" font-size="7.2" text-anchor="end"  stroke="#000" stroke-width="0.22">4</text>
<line x1="444.8" y1="505.3" x2="508.2" y2="505.3" stroke="#000" stroke-width="1.3" />
<line x1="463.2" y1="505.3" x2="463.2" y2="508.1" stroke="#000" stroke-width="1.3" />
<line x1="490.7" y1="505.3" x2="490.7" y2="508.1" stroke="#000" stroke-width="1.3" />
<line x1="463.2" y1="427.64" x2="463.2" y2="417.43" stroke="#000" stroke-width="1" />
<line x1="459.2" y1="417.43" x2="467.2" y2="417.43" stroke="#000" stroke-width="1" />
<rect x="455" y="427.64" width="16.4" height="77.66" fill="#5096f5" stroke="#000" stroke-width="1.8" />
<line x1="490.35" y1="458.28" x2="490.35" y2="453.29" stroke="#000" stroke-width="1" />
<line x1="486.35" y1="453.29" x2="494.35" y2="453.29" stroke="#000" stroke-width="1" />
<rect x="482.5" y="458.28" width="15.7" height="47.02" fill="#fa8080" stroke="#000" stroke-width="1.8" />
<line x1="461.7" y1="412" x2="493" y2="412" stroke="#000" stroke-width="1.9" />
<text x="477.4" y="411.48" font-size="12.43" font-weight="bold" text-anchor="middle" letter-spacing="0" stroke="#000" stroke-width="0.22">*</text>
<text transform="translate(465.8,510.5) rotate(-45)" text-anchor="end" font-size="7.6" y="2.7" stroke="#000" stroke-width="0.22">WT</text>
<text transform="translate(493.3,510.5) rotate(-45)" text-anchor="end" font-size="7.6" y="2.7" stroke="#000" stroke-width="0.22">m<tspan font-style="italic">Fgfr3</tspan></text>
<text transform="translate(418.8,457.8) rotate(-90)" y="2.56" font-size="7.2" text-anchor="middle"  stroke="#000" stroke-width="0.22">% of granzyme B<tspan baseline-shift="40%" font-size="70%">+</tspan> cells</text>
<text transform="translate(428.3,457.7) rotate(-90)" y="2.56" font-size="7.2" text-anchor="middle"  stroke="#000" stroke-width="0.22">within CD8<tspan baseline-shift="40%" font-size="70%">+</tspan> T cells</text>
<defs>
<filter id="jWTin" x="0" y="0" width="100%" height="100%" color-interpolation-filters="sRGB">
 <feTurbulence type="fractalNoise" baseFrequency="0.6" numOctaves="2" seed="11" result="n"/>
 <feColorMatrix in="n" type="matrix" values="0.22 0 0 0 -0.025  0.12 0 0 0 0.0  0 0.25 0 0 0.06  0 0 0 0 1" result="base"/>
 <feColorMatrix in="n" type="matrix" values="0 0 0 0 0.5  0 0 0 0 0.18  0 0 0 0 0.38  0 0 4 0 -2.6" result="rs"/>
 <feGaussianBlur in="rs" stdDeviation="0.35" result="rsb"/>
 <feMerge><feMergeNode in="base"/><feMergeNode in="rsb"/></feMerge>
</filter>
<filter id="jMUin" x="0" y="0" width="100%" height="100%" color-interpolation-filters="sRGB">
 <feTurbulence type="fractalNoise" baseFrequency="0.5" numOctaves="2" seed="13" result="n"/>
 <feColorMatrix in="n" type="matrix" values="0.1 0 0 0 0.03  0.12 0 0 0 0.05  0.35 0 0 0 0.3  0 0 0 0 1" result="base"/>
 <feColorMatrix in="n" type="matrix" values="0 0 0 0 0.45  0 0 0 0 0.6  0 0 0 0 0.45  0 6 0 0 -4.5" result="gs"/>
 <feMerge><feMergeNode in="base"/><feMergeNode in="gs"/></feMerge>
</filter>
<filter id="jTis" x="-10%" y="-10%" width="120%" height="120%" color-interpolation-filters="sRGB">
 <feGaussianBlur in="SourceGraphic" stdDeviation="2.2" result="b"/>
 <feTurbulence type="fractalNoise" baseFrequency="0.3" numOctaves="2" seed="3" result="n"/>
 <feColorMatrix in="n" type="matrix" values="0.12 0 0 0 0.04  0.1 0 0 0 0.04  0.4 0 0 0 0.12  0 0 0 0 1" result="nc"/>
 <feComposite in="nc" in2="b" operator="in"/>
</filter>
<radialGradient id="jTis2" cx="0.55" cy="0.4" r="0.7"><stop offset="0" stop-color="#10166a"/><stop offset="0.75" stop-color="#0d115c"/><stop offset="1" stop-color="#080a3c"/></radialGradient>
<filter id="softb" x="-30%" y="-30%" width="160%" height="160%"><feGaussianBlur stdDeviation="2.5"/></filter>
</defs>
<text x="0.2" y="530" font-size="13" font-weight="bold" stroke="#000" stroke-width="0.22">J</text>
<rect x="8" y="533" width="118.5" height="8.5" fill="#000" />
<text x="21" y="539.64" font-size="6.6" text-anchor="middle" font-weight="bold" fill="#1616a0"  stroke="#1616a0" stroke-width="0.15">DAPI</text>
<text x="42.2" y="539.64" font-size="6.6" text-anchor="middle" font-weight="bold" fill="#d81c1c"  stroke="#d81c1c" stroke-width="0.15">CD8</text>
<text x="73.5" y="539.64" font-size="6.6" text-anchor="middle" font-weight="bold" fill="#20c020"  stroke="#20c020" stroke-width="0.15">Granzyme B</text>
<text x="96.7" y="539.64" font-size="6.6" font-weight="bold" stroke="#000" stroke-width="0.15"><tspan fill="#d81c1c">Mer</tspan><tspan fill="#20c020">ged</tspan></text>
<rect x="8" y="542.5" width="59.3" height="58" fill="#000" />
<path d="M10,585 C9.33,582 9.83,577.17 11,574 C12.17,570.83 14.83,568.83 17,566 C19.17,563.17 21.17,559.25 24,557 C26.83,554.75 30.5,553 34,552.5 C37.5,552 42,552.92 45,554 C48,555.08 49.83,557.17 52,559 C54.17,560.83 56.17,562.83 58,565 C59.83,567.17 62.33,569.17 63,572 C63.67,574.83 63.17,579 62,582 C60.83,585 59,588.17 56,590 C53,591.83 48.67,592.33 44,593 C39.33,593.67 32.83,594.17 28,594 C23.17,593.83 18,593.5 15,592 C12,590.5 10.67,588 10,585Z" fill="#000" filter="url(#jTis)"/>
<ellipse cx="33" cy="578" rx="7" ry="3.5" fill="#5a1840" opacity="0.45" filter="url(#softb)"/>
<rect x="68.8" y="542.5" width="57.7" height="57.4" filter="url(#jWTin)"/>
<rect x="8" y="602.2" width="59.3" height="58.2" fill="url(#jTis2)" />
<rect x="68.8" y="602.2" width="57.7" height="57.6" filter="url(#jMUin)"/>
<line x1="68" y1="542.5" x2="68" y2="660.4" stroke="#fff" stroke-width="1.6" />
<line x1="8" y1="601.3" x2="126.5" y2="601.3" stroke="#fff" stroke-width="1.8" />
<line x1="8" y1="542" x2="126.5" y2="542" stroke="#fff" stroke-width="1" />
<rect x="39" y="566.4" width="5.8" height="5.4" fill="none" stroke="#f2f2f2" stroke-width="1.1" />
<line x1="44.8" y1="566.4" x2="67.3" y2="543" stroke="#f2f2f2" stroke-width="1.2" />
<line x1="44.8" y1="571.8" x2="67.3" y2="600" stroke="#f2f2f2" stroke-width="1.2" />
<rect x="15.4" y="625" width="5.4" height="5.4" fill="none" stroke="#f2f2f2" stroke-width="1.1" />
<line x1="20.8" y1="625" x2="67.3" y2="602.7" stroke="#f2f2f2" stroke-width="1.2" />
<line x1="20.8" y1="630.4" x2="67.3" y2="659.5" stroke="#f2f2f2" stroke-width="1.2" />
<text x="9.2" y="550.64" font-size="6.6" font-weight="bold" fill="#fff"  stroke="#fff" stroke-width="0.15">WT</text>
<text x="9.6" y="608.84" font-size="6.6" font-weight="bold" fill="#fff"  stroke="#fff" stroke-width="0.15">m<tspan font-style="italic">Fgfr3</tspan></text>
<text x="9.4" y="596.69" font-size="5.6" font-weight="bold" fill="#fff"  stroke="#fff" stroke-width="0.12">1,000 μm</text>
<line x1="9.4" y1="597.7" x2="13.4" y2="597.7" stroke="#ddd" stroke-width="0.6" />
<text x="70.5" y="596.69" font-size="5.6" font-weight="bold" fill="#fff"  stroke="#fff" stroke-width="0.12">100 μm</text>
<line x1="70.5" y1="597.7" x2="74.5" y2="597.7" stroke="#ddd" stroke-width="0.6" />
<text x="9.4" y="657.79" font-size="5.6" font-weight="bold" fill="#fff"  stroke="#fff" stroke-width="0.12">1,000 μm</text>
<line x1="9.4" y1="658.8" x2="13.4" y2="658.8" stroke="#ddd" stroke-width="0.6" />
<text x="71.5" y="657.79" font-size="5.6" font-weight="bold" fill="#fff"  stroke="#fff" stroke-width="0.12">100 μm</text>
<line x1="71.5" y1="658.8" x2="75.5" y2="658.8" stroke="#ddd" stroke-width="0.6" />
<line x1="160.5" y1="554.6" x2="160.5" y2="641.1" stroke="#000" stroke-width="1.3" />
<line x1="157.5" y1="641.1" x2="160.5" y2="641.1" stroke="#000" stroke-width="1.3" />
<text x="155.9" y="643.66" font-size="7.2" text-anchor="end"  stroke="#000" stroke-width="0.22">0</text>
<line x1="157.5" y1="612.47" x2="160.5" y2="612.47" stroke="#000" stroke-width="1.3" />
<text x="155.9" y="615.03" font-size="7.2" text-anchor="end"  stroke="#000" stroke-width="0.22">100</text>
<line x1="157.5" y1="583.84" x2="160.5" y2="583.84" stroke="#000" stroke-width="1.3" />
<text x="155.9" y="586.4" font-size="7.2" text-anchor="end"  stroke="#000" stroke-width="0.22">200</text>
<line x1="157.5" y1="555.21" x2="160.5" y2="555.21" stroke="#000" stroke-width="1.3" />
<text x="155.9" y="557.77" font-size="7.2" text-anchor="end"  stroke="#000" stroke-width="0.22">300</text>
<line x1="160.5" y1="641.1" x2="219" y2="641.1" stroke="#000" stroke-width="1.3" />
<line x1="177.5" y1="641.1" x2="177.5" y2="643.9" stroke="#000" stroke-width="1.3" />
<line x1="202" y1="641.1" x2="202" y2="643.9" stroke="#000" stroke-width="1.3" />
<line x1="177.6" y1="586.7" x2="177.6" y2="571.82" stroke="#000" stroke-width="1" />
<line x1="173.6" y1="571.82" x2="181.6" y2="571.82" stroke="#000" stroke-width="1" />
<rect x="170.2" y="586.7" width="14.8" height="54.4" fill="#5096f5" stroke="#000" stroke-width="1.8" />
<line x1="202.4" y1="632.8" x2="202.4" y2="628.22" stroke="#000" stroke-width="1" />
<line x1="198.4" y1="628.22" x2="206.4" y2="628.22" stroke="#000" stroke-width="1" />
<rect x="195.5" y="632.8" width="13.8" height="8.3" fill="#fa8080" stroke="#000" stroke-width="1.8" />
<line x1="175.4" y1="558.5" x2="203.1" y2="558.5" stroke="#000" stroke-width="1.8" />
<text x="190.54" y="558.13" font-size="11.35" font-weight="bold" text-anchor="middle" letter-spacing="1.08" stroke="#000" stroke-width="0.22">**</text>
<text transform="translate(179.8,646.5) rotate(-45)" text-anchor="end" font-size="7.6" y="2.7" stroke="#000" stroke-width="0.22">WT</text>
<text transform="translate(204.3,646.5) rotate(-45)" text-anchor="end" font-size="7.6" y="2.7" stroke="#000" stroke-width="0.22">m<tspan font-style="italic">Fgfr3</tspan></text>
<text transform="translate(136.7,595) rotate(-90)" y="2.59" font-size="7.3" text-anchor="middle"  stroke="#000" stroke-width="0.22">Count of CD8<tspan baseline-shift="40%" font-size="70%">+</tspan>granzyme B<tspan baseline-shift="40%" font-size="70%">+</tspan> cells per field</text>
<text x="218.1" y="530" font-size="13" font-weight="bold" stroke="#000" stroke-width="0.22">K</text>
<text x="283.3" y="544.97" font-size="6.4" text-anchor="middle"  stroke="#000" stroke-width="0.12">Transwell assay</text>
<text x="285.8" y="554.81" font-size="6.8" text-anchor="middle"  stroke="#000" stroke-width="0.22">ns</text>
<line x1="272.1" y1="559.1" x2="299.9" y2="559.1" stroke="#000" stroke-width="1.6" />
<line x1="258.2" y1="553.5" x2="258.2" y2="639.4" stroke="#000" stroke-width="1.3" />
<line x1="254.2" y1="639.4" x2="258.2" y2="639.4" stroke="#000" stroke-width="1.3" />
<text x="252.6" y="641.88" font-size="7" text-anchor="end"  stroke="#000" stroke-width="0.22">0</text>
<line x1="254.2" y1="610.87" x2="258.2" y2="610.87" stroke="#000" stroke-width="1.3" />
<text x="252.6" y="613.36" font-size="7" text-anchor="end"  stroke="#000" stroke-width="0.22">1,000</text>
<line x1="254.2" y1="582.34" x2="258.2" y2="582.34" stroke="#000" stroke-width="1.3" />
<text x="252.6" y="584.82" font-size="7" text-anchor="end"  stroke="#000" stroke-width="0.22">2,000</text>
<line x1="254.2" y1="553.81" x2="258.2" y2="553.81" stroke="#000" stroke-width="1.3" />
<text x="252.6" y="556.29" font-size="7" text-anchor="end"  stroke="#000" stroke-width="0.22">3,000</text>
<line x1="258.2" y1="639.4" x2="315.9" y2="639.4" stroke="#000" stroke-width="1.3" />
<line x1="274.4" y1="639.4" x2="274.4" y2="642.2" stroke="#000" stroke-width="1.3" />
<line x1="298.8" y1="639.4" x2="298.8" y2="642.2" stroke="#000" stroke-width="1.3" />
<line x1="274.25" y1="569.3" x2="274.25" y2="565.51" stroke="#000" stroke-width="1" />
<line x1="270.25" y1="565.51" x2="278.25" y2="565.51" stroke="#000" stroke-width="1" />
<rect x="267.1" y="569.3" width="14.3" height="70.1" fill="#5096f5" stroke="#000" stroke-width="1.8" />
<line x1="298.85" y1="570.02" x2="298.85" y2="566.02" stroke="#000" stroke-width="1" />
<line x1="294.85" y1="566.02" x2="302.85" y2="566.02" stroke="#000" stroke-width="1" />
<rect x="291.5" y="570.02" width="14.7" height="69.38" fill="#fa8080" stroke="#000" stroke-width="1.8" />
<text transform="translate(276.7,645.5) rotate(-45)" text-anchor="end" font-size="7" y="2.48" stroke="#000" stroke-width="0.22">WT SN</text>
<text transform="translate(301,645.5) rotate(-45)" text-anchor="end" font-size="6.6" y="2.34" stroke="#000" stroke-width="0.22">m<tspan font-style="italic">Fgfr3</tspan> SN</text>
<text transform="translate(229.2,595.6) rotate(-90)" y="2.66" font-size="7.5" text-anchor="middle"  stroke="#000" stroke-width="0.22">Count of migrated lymphotyes</text>
<text x="317.8" y="529.8" font-size="13" font-weight="bold" stroke="#000" stroke-width="0.22">L</text>
<text x="377.9" y="536.81" font-size="6.5" text-anchor="middle" stroke="#000" stroke-width="0.22"><tspan font-style="italic">In vitro</tspan> coculture experiment</text>
<text x="377.2" y="545.49" font-size="7" text-anchor="middle"  stroke="#000" stroke-width="0.22">CD8<tspan baseline-shift="40%" font-size="70%">+</tspan> T cells</text>
<line x1="334" y1="547.6" x2="419.1" y2="547.6" stroke="#4a4a4a" stroke-width="1" />
<path d="M360,593.1 L360.62,593.1 L361.25,593.09 L361.88,593.08 L362.5,593.06 L363.12,593 L363.75,592.87 L364.38,592.61 L365,592.14 L365.62,591.3 L366.25,589.91 L366.88,587.78 L367.5,584.72 L368.12,580.64 L368.75,575.62 L369.38,569.95 L370,564.16 L370.62,558.96 L371.25,555.09 L371.88,553.15 L372.5,553.47 L373.12,556 L373.75,560.31 L374.38,565.75 L375,571.57 L375.62,577.1 L376.25,581.88 L376.88,585.67 L377.5,588.46 L378.12,590.36 L378.75,591.58 L379.38,592.3 L380,592.7 L380.62,592.91 L381.25,593.02 L381.88,593.07 L382.5,593.09 L383.12,593.1 L383.75,593.1 L384.38,593.1 L385,593.1 Z" fill="#a8cff6"/>
<path d="M335,593.1 L360,593.1 L360,593.1 L360.62,593.1 L361.25,593.09 L361.88,593.08 L362.5,593.06 L363.12,593 L363.75,592.87 L364.38,592.61 L365,592.14 L365.62,591.3 L366.25,589.91 L366.88,587.78 L367.5,584.72 L368.12,580.64 L368.75,575.62 L369.38,569.95 L370,564.16 L370.62,558.96 L371.25,555.09 L371.88,553.15 L372.5,553.47 L373.12,556 L373.75,560.31 L374.38,565.75 L375,571.57 L375.62,577.1 L376.25,581.88 L376.88,585.67 L377.5,588.46 L378.12,590.36 L378.75,591.58 L379.38,592.3 L380,592.7 L380.62,592.91 L381.25,593.02 L381.88,593.07 L382.5,593.09 L383.12,593.1 L383.75,593.1 L384.38,593.1 L385,593.1 L418.7,593.1" fill="none" stroke="#4a90e2" stroke-width="1"/>
<path d="M362,635 L362.57,635 L363.15,634.99 L363.73,634.99 L364.3,634.96 L364.88,634.92 L365.45,634.81 L366.02,634.61 L366.6,634.22 L367.18,633.54 L367.75,632.42 L368.32,630.68 L368.9,628.17 L369.48,624.81 L370.05,620.63 L370.62,615.88 L371.2,610.97 L371.77,606.49 L372.35,603.07 L372.93,601.22 L373.5,601.26 L374.07,603.19 L374.65,606.67 L375.23,611.18 L375.8,616.09 L376.38,620.83 L376.95,624.97 L377.52,628.3 L378.1,630.77 L378.68,632.48 L379.25,633.58 L379.82,634.25 L380.4,634.62 L380.98,634.82 L381.55,634.92 L382.12,634.97 L382.7,634.99 L383.27,634.99 L383.85,635 L384.43,635 L385,635 Z" fill="#f6b2b2"/>
<path d="M335,635 L362,635 L362,635 L362.57,635 L363.15,634.99 L363.73,634.99 L364.3,634.96 L364.88,634.92 L365.45,634.81 L366.02,634.61 L366.6,634.22 L367.18,633.54 L367.75,632.42 L368.32,630.68 L368.9,628.17 L369.48,624.81 L370.05,620.63 L370.62,615.88 L371.2,610.97 L371.77,606.49 L372.35,603.07 L372.93,601.22 L373.5,601.26 L374.07,603.19 L374.65,606.67 L375.23,611.18 L375.8,616.09 L376.38,620.83 L376.95,624.97 L377.52,628.3 L378.1,630.77 L378.68,632.48 L379.25,633.58 L379.82,634.25 L380.4,634.62 L380.98,634.82 L381.55,634.92 L382.12,634.97 L382.7,634.99 L383.27,634.99 L383.85,635 L384.43,635 L385,635 L418.7,635" fill="none" stroke="#e06868" stroke-width="1"/>
<rect x="335" y="551.2" width="83.7" height="84.2" fill="none" stroke="#4a4a4a" stroke-width="1" />
<line x1="335" y1="635.2" x2="418.7" y2="635.2" stroke="#8a3030" stroke-width="1" />
<line x1="376.3" y1="551.2" x2="376.3" y2="635.4" stroke="#222" stroke-width="1" />
<line x1="327.7" y1="551.8" x2="327.7" y2="615.3" stroke="#4a4a4a" stroke-width="1" />
<text transform="translate(327.7,625.2) rotate(-90)" y="2.56" font-size="7.2" text-anchor="middle" font-weight="bold"  stroke="#000" stroke-width="0.15">Count</text>
<text x="338.7" y="573.67" font-size="7.8"  stroke="#000" stroke-width="0.22">WT</text>
<text x="413.4" y="573.92" font-size="8.5" text-anchor="end" font-weight="bold"  stroke="#000" stroke-width="0.15">7.09</text>
<text x="338.3" y="619.17" font-size="7.8"  stroke="#000" stroke-width="0.22">m<tspan font-style="italic">Fgfr3</tspan></text>
<text x="413.4" y="619.42" font-size="8.5" text-anchor="end" font-weight="bold"  stroke="#000" stroke-width="0.15">9.86</text>
<text x="335.1" y="645.39" font-size="7.3" font-weight="bold"  stroke="#000" stroke-width="0.15">Granzyme B</text>
<line x1="375.6" y1="642.8" x2="418.7" y2="642.8" stroke="#4a4a4a" stroke-width="1" />
<line x1="452.5" y1="550.2" x2="452.5" y2="638.4" stroke="#000" stroke-width="1.3" />
<line x1="449" y1="638.4" x2="452.5" y2="638.4" stroke="#000" stroke-width="1.3" />
<text x="447.4" y="640.88" font-size="7" text-anchor="end"  stroke="#000" stroke-width="0.22">0</text>
<line x1="449" y1="620.88" x2="452.5" y2="620.88" stroke="#000" stroke-width="1.3" />
<text x="447.4" y="623.37" font-size="7" text-anchor="end"  stroke="#000" stroke-width="0.22">2</text>
<line x1="449" y1="603.36" x2="452.5" y2="603.36" stroke="#000" stroke-width="1.3" />
<text x="447.4" y="605.85" font-size="7" text-anchor="end"  stroke="#000" stroke-width="0.22">4</text>
<line x1="449" y1="585.84" x2="452.5" y2="585.84" stroke="#000" stroke-width="1.3" />
<text x="447.4" y="588.32" font-size="7" text-anchor="end"  stroke="#000" stroke-width="0.22">6</text>
<line x1="449" y1="568.32" x2="452.5" y2="568.32" stroke="#000" stroke-width="1.3" />
<text x="447.4" y="570.8" font-size="7" text-anchor="end"  stroke="#000" stroke-width="0.22">8</text>
<line x1="449" y1="550.8" x2="452.5" y2="550.8" stroke="#000" stroke-width="1.3" />
<text x="447.4" y="553.28" font-size="7" text-anchor="end"  stroke="#000" stroke-width="0.22">10</text>
<line x1="452.5" y1="638.4" x2="516.3" y2="638.4" stroke="#000" stroke-width="1.3" />
<line x1="470.7" y1="638.4" x2="470.7" y2="641.2" stroke="#000" stroke-width="1.3" />
<line x1="499.5" y1="638.4" x2="499.5" y2="641.2" stroke="#000" stroke-width="1.3" />
<line x1="472" y1="577.61" x2="472" y2="567.01" stroke="#000" stroke-width="1" />
<line x1="468" y1="567.01" x2="476" y2="567.01" stroke="#000" stroke-width="1" />
<rect x="467.1" y="577.61" width="9.8" height="60.79" fill="#5096f5" stroke="#000" stroke-width="1.8" />
<line x1="500.7" y1="585.66" x2="500.7" y2="578.22" stroke="#000" stroke-width="1" />
<line x1="496.7" y1="578.22" x2="504.7" y2="578.22" stroke="#000" stroke-width="1" />
<rect x="495.5" y="585.66" width="10.4" height="52.74" fill="#fa8080" stroke="#000" stroke-width="1.8" />
<line x1="467.7" y1="553.3" x2="500.7" y2="553.3" stroke="#000" stroke-width="1.6" />
<text x="484.5" y="549.21" font-size="6.8" text-anchor="middle"  stroke="#000" stroke-width="0.22">ns</text>
<text transform="translate(473,645.5) rotate(-45)" text-anchor="end" font-size="7.5" y="2.66" stroke="#000" stroke-width="0.22">WT</text>
<text transform="translate(502,645.5) rotate(-45)" text-anchor="end" font-size="7.5" y="2.66" stroke="#000" stroke-width="0.22">m<tspan font-style="italic">Fgfr3</tspan></text>
<text transform="translate(426.5,601) rotate(-90)" y="2.66" font-size="7.5" text-anchor="middle"  stroke="#000" stroke-width="0.22">% of granzyme B<tspan baseline-shift="40%" font-size="70%">+</tspan> cells</text>
<text transform="translate(435.8,595.8) rotate(-90)" y="2.66" font-size="7.5" text-anchor="middle"  stroke="#000" stroke-width="0.22">within CD8<tspan baseline-shift="40%" font-size="70%">+</tspan> T cells</text>
</svg>
</body></html>
